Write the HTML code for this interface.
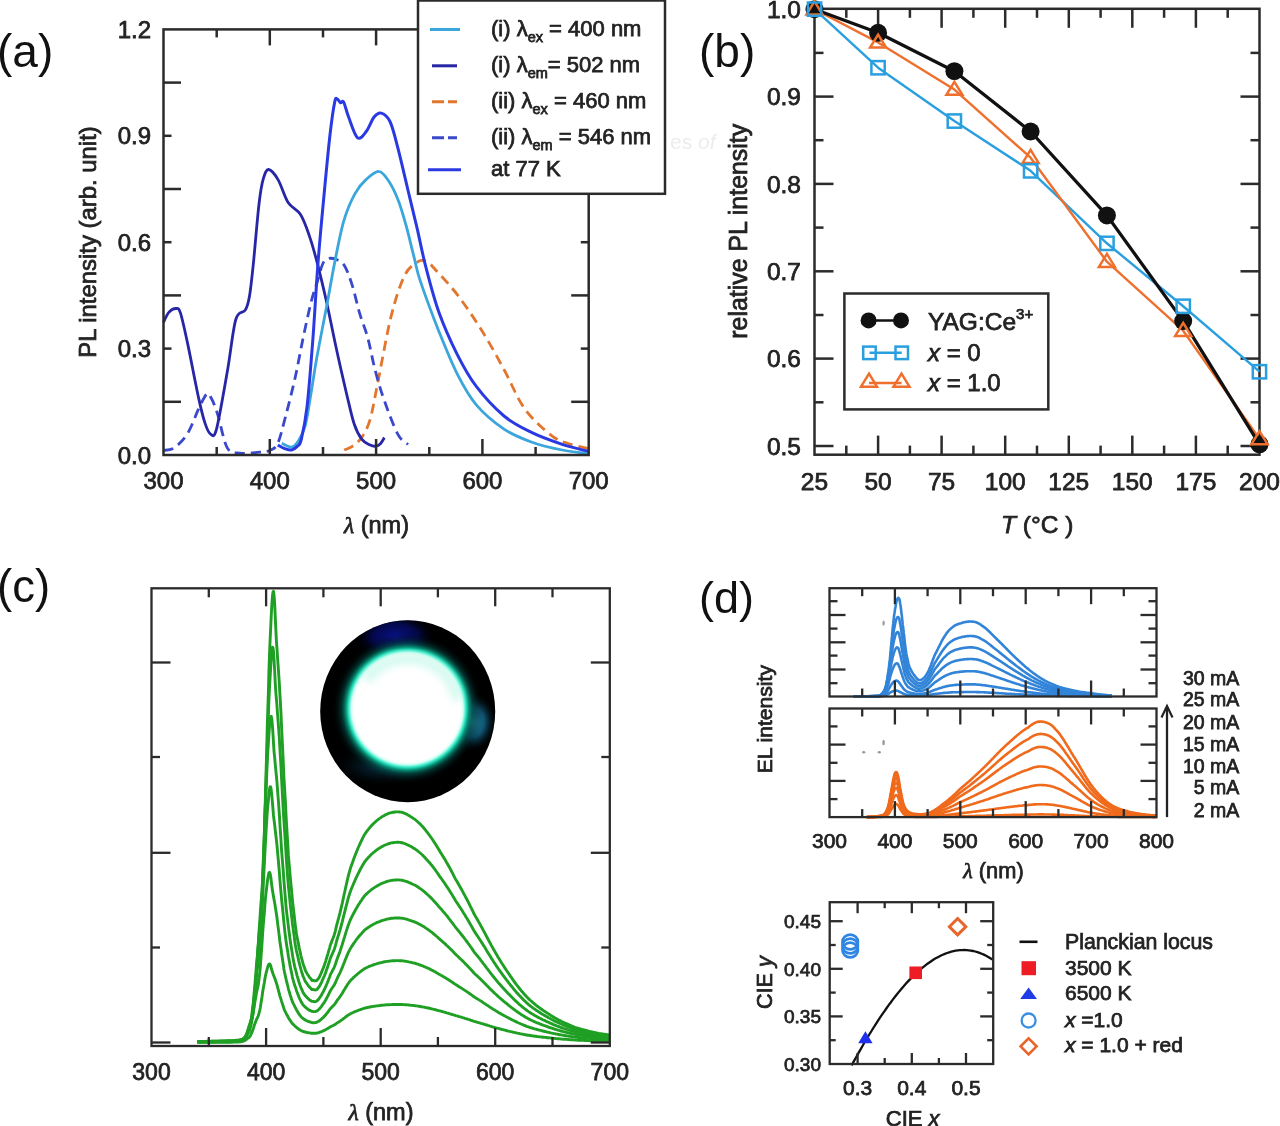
<!DOCTYPE html>
<html><head><meta charset="utf-8"><style>
html,body{margin:0;padding:0;background:#fff;}
svg{display:block;filter:blur(0.7px);font-family:"Liberation Sans", sans-serif;}
text{stroke:#222;stroke-width:0.75px;paint-order:stroke;}
</style></head><body>
<svg width="1280" height="1126" viewBox="0 0 1280 1126">
<rect width="1280" height="1126" fill="#fff"/>
<path d="M344.2,450.0 C345.6,449.4 349.8,448.3 352.7,446.1 C355.7,444.0 358.9,441.6 361.8,437.3 C364.6,432.9 367.3,428.8 370.0,419.9 C372.6,411.0 374.1,401.0 377.6,383.7 C381.1,366.5 386.6,334.4 391.1,316.3 C395.6,298.3 400.2,284.6 404.6,275.5 C409.0,266.5 414.1,264.5 417.4,262.1 C420.6,259.6 422.0,260.4 424.0,260.6 C426.0,260.9 427.5,262.1 429.4,263.5 C431.2,264.9 430.4,264.0 435.0,269.2 C439.7,274.4 449.6,284.5 457.3,294.7 C465.1,304.9 473.8,317.7 481.6,330.2 C489.4,342.6 496.9,356.5 504.0,369.5 C511.2,382.6 516.8,397.7 524.5,408.5 C532.3,419.4 543.4,429.0 550.6,434.8 C557.7,440.6 561.1,441.0 567.5,443.3 C573.8,445.6 585.2,447.7 588.7,448.6" fill="none" stroke="#e2762e" stroke-width="2.80" stroke-linejoin="round" stroke-linecap="butt" stroke-dasharray="10,6"/>
<path d="M163.5,450.4 C165.3,450.0 170.1,450.7 174.1,447.9 C178.1,445.1 183.5,440.2 187.5,433.7 C191.6,427.2 195.4,415.5 198.6,408.9 C201.8,402.3 204.6,395.8 206.8,394.0 C208.9,392.2 209.5,394.8 211.3,398.3 C213.2,401.7 215.1,406.3 217.7,414.6 C220.4,422.8 223.6,441.5 227.3,447.9 C231.0,454.3 234.7,452.5 240.0,453.2 C245.4,453.9 254.2,452.6 259.2,452.2 C264.1,451.7 266.7,451.9 269.8,450.4 C272.9,448.9 275.1,449.0 277.8,443.3 C280.4,437.6 282.7,427.0 285.7,416.0 C288.6,404.9 292.4,390.0 295.3,377.0 C298.2,363.9 300.6,350.0 303.2,337.6 C305.8,325.2 308.7,311.6 311.0,302.5 C313.2,293.4 314.9,289.5 316.9,283.0 C318.9,276.5 320.9,267.6 322.9,263.5 C324.8,259.4 326.3,259.2 328.6,258.5 C330.9,257.9 333.9,258.5 336.5,259.6 C339.1,260.7 341.6,261.1 344.2,265.3 C346.8,269.4 349.5,276.6 352.1,284.8 C354.7,292.9 357.2,305.4 359.9,314.2 C362.5,323.0 365.2,328.3 367.7,337.6 C370.3,346.9 372.3,359.4 375.1,369.9 C377.8,380.4 380.6,390.0 384.4,400.7 C388.2,411.5 394.0,427.2 397.9,434.4 C401.8,441.7 406.3,442.7 408.0,444.4" fill="none" stroke="#3a48cc" stroke-width="2.80" stroke-linejoin="round" stroke-linecap="butt" stroke-dasharray="10,6"/>
<path d="M163.5,322.4 C164.4,320.7 166.7,314.7 168.8,312.4 C170.9,310.1 174.1,308.4 176.0,308.5 C178.0,308.6 178.6,307.4 180.5,313.1 C182.4,318.9 184.5,328.8 187.5,342.9 C190.5,357.1 195.7,384.5 198.6,397.9 C201.5,411.3 202.9,417.0 205.0,423.1 C207.0,429.2 209.1,433.5 211.0,434.4 C213.0,435.3 213.9,439.0 216.7,428.4 C219.4,417.8 224.3,388.7 227.5,370.6 C230.7,352.4 232.8,329.6 235.8,319.5 C238.8,309.4 243.1,314.0 245.4,309.9 C247.7,305.9 248.2,303.7 249.6,295.4 C251.0,287.1 252.1,275.8 253.7,260.3 C255.2,244.8 257.5,216.1 259.2,202.5 C260.8,188.8 261.8,183.9 263.4,178.4 C265.0,172.9 266.3,169.2 268.7,169.5 C271.2,169.8 275.1,174.6 278.3,180.1 C281.5,185.6 284.4,196.7 288.1,202.5 C291.8,208.2 297.0,209.1 300.5,214.5 C304.0,220.0 306.4,227.2 309.1,235.1 C311.9,243.0 314.0,250.5 316.9,261.7 C319.8,272.9 323.4,287.9 326.7,302.5 C329.9,317.1 333.2,334.4 336.5,349.3 C339.7,364.3 343.3,379.8 346.2,392.2 C349.2,404.6 351.5,415.9 354.1,423.8 C356.7,431.7 359.2,435.8 361.9,439.4 C364.5,442.9 367.7,443.9 370.1,445.1 C372.4,446.2 374.4,446.4 376.1,446.1 C377.8,445.9 379.0,445.1 380.4,443.7 C381.8,442.2 383.7,438.6 384.4,437.6" fill="none" stroke="#2626a6" stroke-width="2.80" stroke-linejoin="round" stroke-linecap="butt"/>
<path d="M281.7,443.3 C283.3,443.9 288.7,447.6 291.5,447.2 C294.3,446.8 296.2,444.4 298.5,440.8 C300.8,437.2 303.3,432.7 305.2,425.6 C307.2,418.5 308.3,409.7 310.2,398.3 C312.2,386.8 314.2,372.5 316.9,357.1 C319.7,341.7 323.8,321.4 326.7,306.0 C329.6,290.7 331.4,279.1 334.2,264.9 C337.1,250.7 340.3,232.8 343.8,220.9 C347.3,209.0 351.2,200.5 355.0,193.6 C358.7,186.7 362.2,183.1 366.2,179.4 C370.2,175.7 375.2,171.0 378.9,171.3 C382.6,171.5 385.2,176.1 388.5,180.8 C391.7,185.6 395.2,192.5 398.1,200.0 C401.1,207.4 403.4,216.0 406.1,225.5 C408.8,235.1 411.7,248.1 414.1,257.4 C416.5,266.8 416.3,269.3 420.5,281.6 C424.6,293.8 432.6,315.4 438.7,330.9 C444.9,346.3 451.1,361.8 457.3,374.1 C463.6,386.4 468.3,395.5 476.1,404.6 C483.8,413.8 494.7,422.8 504.0,429.1 C513.3,435.4 522.3,438.7 532.0,442.2 C541.7,445.7 552.7,448.1 562.2,450.0 C571.6,451.9 584.3,453.0 588.7,453.6" fill="none" stroke="#3aa6dc" stroke-width="2.80" stroke-linejoin="round" stroke-linecap="butt"/>
<path d="M277.8,445.1 C278.9,445.7 282.4,447.8 284.7,448.6 C287.0,449.4 289.4,450.4 291.5,450.0 C293.6,449.6 295.8,447.9 297.5,446.1 C299.1,444.4 299.7,446.1 301.3,439.4 C302.9,432.7 305.2,423.0 307.1,406.1 C309.1,389.1 311.1,361.8 313.0,337.6 C314.8,313.4 316.2,285.4 318.2,260.6 C320.1,235.9 322.6,210.3 324.6,189.0 C326.6,167.7 328.5,147.4 330.2,133.0 C331.9,118.5 333.5,107.8 334.7,102.1 C335.8,96.4 336.3,98.8 337.3,98.9 C338.3,99.0 339.4,102.3 340.5,102.8 C341.6,103.3 342.3,99.7 343.7,102.1 C345.0,104.5 346.3,111.1 348.6,117.0 C350.9,122.9 354.5,135.1 357.4,137.6 C360.4,140.0 363.5,135.0 366.2,131.5 C369.0,128.1 371.6,120.1 374.1,117.0 C376.6,113.9 378.7,112.3 381.3,113.1 C384.0,113.9 387.4,116.0 390.2,122.0 C393.0,127.9 395.2,137.7 398.1,148.9 C401.0,160.1 404.5,175.6 407.7,189.0 C410.9,202.4 414.3,216.4 417.3,229.1 C420.2,241.7 421.8,251.1 425.3,264.9 C428.9,278.7 433.4,296.8 438.7,311.7 C444.1,326.7 451.1,342.2 457.3,354.6 C463.6,367.0 468.3,376.0 476.1,386.2 C483.8,396.4 494.7,408.2 504.0,416.0 C513.3,423.7 522.3,427.9 532.0,432.7 C541.7,437.4 552.7,441.2 562.2,444.4 C571.6,447.5 584.3,450.3 588.7,451.5" fill="none" stroke="#2a3ae2" stroke-width="3.00" stroke-linejoin="round" stroke-linecap="butt"/>
<rect x="163.5" y="29.4" width="425.2" height="425.6" fill="none" stroke="#2b2b2b" stroke-width="2.5"/>
<line x1="216.7" y1="455.0" x2="216.7" y2="447.0" stroke="#2b2b2b" stroke-width="2.50" />
<line x1="216.7" y1="29.4" x2="216.7" y2="37.4" stroke="#2b2b2b" stroke-width="2.50" />
<line x1="269.8" y1="455.0" x2="269.8" y2="439.0" stroke="#2b2b2b" stroke-width="2.50" />
<line x1="269.8" y1="29.4" x2="269.8" y2="45.4" stroke="#2b2b2b" stroke-width="2.50" />
<line x1="323.0" y1="455.0" x2="323.0" y2="447.0" stroke="#2b2b2b" stroke-width="2.50" />
<line x1="323.0" y1="29.4" x2="323.0" y2="37.4" stroke="#2b2b2b" stroke-width="2.50" />
<line x1="376.1" y1="455.0" x2="376.1" y2="439.0" stroke="#2b2b2b" stroke-width="2.50" />
<line x1="376.1" y1="29.4" x2="376.1" y2="45.4" stroke="#2b2b2b" stroke-width="2.50" />
<line x1="429.3" y1="455.0" x2="429.3" y2="447.0" stroke="#2b2b2b" stroke-width="2.50" />
<line x1="429.3" y1="29.4" x2="429.3" y2="37.4" stroke="#2b2b2b" stroke-width="2.50" />
<line x1="482.4" y1="455.0" x2="482.4" y2="439.0" stroke="#2b2b2b" stroke-width="2.50" />
<line x1="482.4" y1="29.4" x2="482.4" y2="45.4" stroke="#2b2b2b" stroke-width="2.50" />
<line x1="535.6" y1="455.0" x2="535.6" y2="447.0" stroke="#2b2b2b" stroke-width="2.50" />
<line x1="535.6" y1="29.4" x2="535.6" y2="37.4" stroke="#2b2b2b" stroke-width="2.50" />
<line x1="163.5" y1="401.8" x2="181.0" y2="401.8" stroke="#2b2b2b" stroke-width="2.50" />
<line x1="588.8" y1="401.8" x2="571.2" y2="401.8" stroke="#2b2b2b" stroke-width="2.50" />
<line x1="163.5" y1="348.6" x2="171.5" y2="348.6" stroke="#2b2b2b" stroke-width="2.50" />
<line x1="588.8" y1="348.6" x2="580.8" y2="348.6" stroke="#2b2b2b" stroke-width="2.50" />
<line x1="163.5" y1="295.4" x2="181.0" y2="295.4" stroke="#2b2b2b" stroke-width="2.50" />
<line x1="588.8" y1="295.4" x2="571.2" y2="295.4" stroke="#2b2b2b" stroke-width="2.50" />
<line x1="163.5" y1="242.2" x2="171.5" y2="242.2" stroke="#2b2b2b" stroke-width="2.50" />
<line x1="588.8" y1="242.2" x2="580.8" y2="242.2" stroke="#2b2b2b" stroke-width="2.50" />
<line x1="163.5" y1="189.0" x2="181.0" y2="189.0" stroke="#2b2b2b" stroke-width="2.50" />
<line x1="588.8" y1="189.0" x2="571.2" y2="189.0" stroke="#2b2b2b" stroke-width="2.50" />
<line x1="163.5" y1="135.8" x2="171.5" y2="135.8" stroke="#2b2b2b" stroke-width="2.50" />
<line x1="588.8" y1="135.8" x2="580.8" y2="135.8" stroke="#2b2b2b" stroke-width="2.50" />
<line x1="163.5" y1="82.6" x2="181.0" y2="82.6" stroke="#2b2b2b" stroke-width="2.50" />
<line x1="588.8" y1="82.6" x2="571.2" y2="82.6" stroke="#2b2b2b" stroke-width="2.50" />
<text x="163.5" y="489.0" font-size="24.0" text-anchor="middle" fill="#222" >300</text>
<text x="269.8" y="489.0" font-size="24.0" text-anchor="middle" fill="#222" >400</text>
<text x="376.1" y="489.0" font-size="24.0" text-anchor="middle" fill="#222" >500</text>
<text x="482.4" y="489.0" font-size="24.0" text-anchor="middle" fill="#222" >600</text>
<text x="588.7" y="489.0" font-size="24.0" text-anchor="middle" fill="#222" >700</text>
<text x="151.0" y="463.6" font-size="24.0" text-anchor="end" fill="#222" >0.0</text>
<text x="151.0" y="357.2" font-size="24.0" text-anchor="end" fill="#222" >0.3</text>
<text x="151.0" y="250.8" font-size="24.0" text-anchor="end" fill="#222" >0.6</text>
<text x="151.0" y="144.4" font-size="24.0" text-anchor="end" fill="#222" >0.9</text>
<text x="151.0" y="38.0" font-size="24.0" text-anchor="end" fill="#222" >1.2</text>
<text transform="translate(95.5,242) rotate(-90)" font-size="23.9" text-anchor="middle" fill="#222">PL intensity (arb. unit)</text>
<text x="376.5" y="533" font-size="23.5" text-anchor="middle" fill="#222"><tspan font-family="Liberation Serif" font-style="italic">λ</tspan> (nm)</text>
<rect x="418" y="0.5" width="247" height="193.3" fill="#fff" stroke="#2b2b2b" stroke-width="2.5"/>
<line x1="430" y1="29.5" x2="460" y2="29.5" stroke="#3aa6dc" stroke-width="3"/>
<text x="491.0" y="36.0" font-size="22.0" text-anchor="start" fill="#222" >(i) λ<tspan font-size="14.5" dy="6">ex</tspan><tspan dy="-6"> = 400 nm</tspan></text>
<line x1="432" y1="65.8" x2="457" y2="65.8" stroke="#2626a6" stroke-width="3"/>
<text x="491.0" y="72.3" font-size="22.0" text-anchor="start" fill="#222" >(i) λ<tspan font-size="14.5" dy="6">em</tspan><tspan dy="-6">= 502 nm</tspan></text>
<line x1="432" y1="101.7" x2="457" y2="101.7" stroke="#e2762e" stroke-width="3" stroke-dasharray="12,4"/>
<text x="491.0" y="108.2" font-size="22.0" text-anchor="start" fill="#222" >(ii) λ<tspan font-size="14.5" dy="6">ex</tspan><tspan dy="-6"> = 460 nm</tspan></text>
<line x1="432" y1="137.8" x2="457" y2="137.8" stroke="#3a48cc" stroke-width="3" stroke-dasharray="12,4"/>
<text x="491.0" y="144.3" font-size="22.0" text-anchor="start" fill="#222" >(ii) λ<tspan font-size="14.5" dy="6">em</tspan><tspan dy="-6"> = 546 nm</tspan></text>
<line x1="428" y1="169.7" x2="461" y2="169.7" stroke="#2a3ae2" stroke-width="3"/>
<text x="491.0" y="176.2" font-size="22.0" text-anchor="start" fill="#222" >at 77 K</text>
<text x="-3.0" y="66.5" font-size="46.0" text-anchor="start" fill="#111" style="stroke:none">(a)</text>
<text x="670" y="149" font-size="21" fill="#ececec" style="stroke:none">es <tspan font-style="italic">of</tspan></text>
<rect x="814.5" y="8.8" width="445.0" height="445.9" fill="none" stroke="#2b2b2b" stroke-width="2.5"/>
<line x1="846.3" y1="454.6" x2="846.3" y2="445.6" stroke="#2b2b2b" stroke-width="2.50" />
<line x1="846.3" y1="8.8" x2="846.3" y2="17.8" stroke="#2b2b2b" stroke-width="2.50" />
<line x1="878.1" y1="454.6" x2="878.1" y2="435.6" stroke="#2b2b2b" stroke-width="2.50" />
<line x1="878.1" y1="8.8" x2="878.1" y2="27.8" stroke="#2b2b2b" stroke-width="2.50" />
<line x1="909.9" y1="454.6" x2="909.9" y2="445.6" stroke="#2b2b2b" stroke-width="2.50" />
<line x1="909.9" y1="8.8" x2="909.9" y2="17.8" stroke="#2b2b2b" stroke-width="2.50" />
<line x1="941.6" y1="454.6" x2="941.6" y2="435.6" stroke="#2b2b2b" stroke-width="2.50" />
<line x1="941.6" y1="8.8" x2="941.6" y2="27.8" stroke="#2b2b2b" stroke-width="2.50" />
<line x1="973.4" y1="454.6" x2="973.4" y2="445.6" stroke="#2b2b2b" stroke-width="2.50" />
<line x1="973.4" y1="8.8" x2="973.4" y2="17.8" stroke="#2b2b2b" stroke-width="2.50" />
<line x1="1005.2" y1="454.6" x2="1005.2" y2="435.6" stroke="#2b2b2b" stroke-width="2.50" />
<line x1="1005.2" y1="8.8" x2="1005.2" y2="27.8" stroke="#2b2b2b" stroke-width="2.50" />
<line x1="1037.0" y1="454.6" x2="1037.0" y2="445.6" stroke="#2b2b2b" stroke-width="2.50" />
<line x1="1037.0" y1="8.8" x2="1037.0" y2="17.8" stroke="#2b2b2b" stroke-width="2.50" />
<line x1="1068.8" y1="454.6" x2="1068.8" y2="435.6" stroke="#2b2b2b" stroke-width="2.50" />
<line x1="1068.8" y1="8.8" x2="1068.8" y2="27.8" stroke="#2b2b2b" stroke-width="2.50" />
<line x1="1100.6" y1="454.6" x2="1100.6" y2="445.6" stroke="#2b2b2b" stroke-width="2.50" />
<line x1="1100.6" y1="8.8" x2="1100.6" y2="17.8" stroke="#2b2b2b" stroke-width="2.50" />
<line x1="1132.3" y1="454.6" x2="1132.3" y2="435.6" stroke="#2b2b2b" stroke-width="2.50" />
<line x1="1132.3" y1="8.8" x2="1132.3" y2="27.8" stroke="#2b2b2b" stroke-width="2.50" />
<line x1="1164.1" y1="454.6" x2="1164.1" y2="445.6" stroke="#2b2b2b" stroke-width="2.50" />
<line x1="1164.1" y1="8.8" x2="1164.1" y2="17.8" stroke="#2b2b2b" stroke-width="2.50" />
<line x1="1195.9" y1="454.6" x2="1195.9" y2="435.6" stroke="#2b2b2b" stroke-width="2.50" />
<line x1="1195.9" y1="8.8" x2="1195.9" y2="27.8" stroke="#2b2b2b" stroke-width="2.50" />
<line x1="1227.7" y1="454.6" x2="1227.7" y2="445.6" stroke="#2b2b2b" stroke-width="2.50" />
<line x1="1227.7" y1="8.8" x2="1227.7" y2="17.8" stroke="#2b2b2b" stroke-width="2.50" />
<line x1="814.5" y1="52.9" x2="823.5" y2="52.9" stroke="#2b2b2b" stroke-width="2.50" />
<line x1="1259.5" y1="52.9" x2="1250.5" y2="52.9" stroke="#2b2b2b" stroke-width="2.50" />
<line x1="814.5" y1="96.6" x2="833.5" y2="96.6" stroke="#2b2b2b" stroke-width="2.50" />
<line x1="1259.5" y1="96.6" x2="1240.5" y2="96.6" stroke="#2b2b2b" stroke-width="2.50" />
<line x1="814.5" y1="140.2" x2="823.5" y2="140.2" stroke="#2b2b2b" stroke-width="2.50" />
<line x1="1259.5" y1="140.2" x2="1250.5" y2="140.2" stroke="#2b2b2b" stroke-width="2.50" />
<line x1="814.5" y1="183.9" x2="833.5" y2="183.9" stroke="#2b2b2b" stroke-width="2.50" />
<line x1="1259.5" y1="183.9" x2="1240.5" y2="183.9" stroke="#2b2b2b" stroke-width="2.50" />
<line x1="814.5" y1="227.6" x2="823.5" y2="227.6" stroke="#2b2b2b" stroke-width="2.50" />
<line x1="1259.5" y1="227.6" x2="1250.5" y2="227.6" stroke="#2b2b2b" stroke-width="2.50" />
<line x1="814.5" y1="271.3" x2="833.5" y2="271.3" stroke="#2b2b2b" stroke-width="2.50" />
<line x1="1259.5" y1="271.3" x2="1240.5" y2="271.3" stroke="#2b2b2b" stroke-width="2.50" />
<line x1="814.5" y1="315.0" x2="823.5" y2="315.0" stroke="#2b2b2b" stroke-width="2.50" />
<line x1="1259.5" y1="315.0" x2="1250.5" y2="315.0" stroke="#2b2b2b" stroke-width="2.50" />
<line x1="814.5" y1="358.6" x2="833.5" y2="358.6" stroke="#2b2b2b" stroke-width="2.50" />
<line x1="1259.5" y1="358.6" x2="1240.5" y2="358.6" stroke="#2b2b2b" stroke-width="2.50" />
<line x1="814.5" y1="402.3" x2="823.5" y2="402.3" stroke="#2b2b2b" stroke-width="2.50" />
<line x1="1259.5" y1="402.3" x2="1250.5" y2="402.3" stroke="#2b2b2b" stroke-width="2.50" />
<line x1="814.5" y1="446.0" x2="833.5" y2="446.0" stroke="#2b2b2b" stroke-width="2.50" />
<line x1="1259.5" y1="446.0" x2="1240.5" y2="446.0" stroke="#2b2b2b" stroke-width="2.50" />
<polyline points="814.5,9.2 878.1,67.7 954.4,121.0 1030.6,170.8 1106.9,243.3 1183.2,306.2 1259.5,371.7" fill="none" stroke="#2a9fe0" stroke-width="2.4" stroke-linejoin="round"/>
<polyline points="814.5,9.2 878.1,42.4 954.4,89.6 1030.6,157.7 1106.9,261.7 1183.2,330.7 1259.5,439.0" fill="none" stroke="#ef6f2c" stroke-width="2.4" stroke-linejoin="round"/>
<polyline points="814.5,9.2 878.1,32.8 954.4,71.2 1030.6,131.5 1106.9,215.4 1183.2,321.1 1259.5,444.3" fill="none" stroke="#111111" stroke-width="3.3" stroke-linejoin="round"/>
<circle cx="814.5" cy="9.2" r="9.0" fill="#111111"/>
<circle cx="878.1" cy="32.8" r="9.0" fill="#111111"/>
<circle cx="954.4" cy="71.2" r="9.0" fill="#111111"/>
<circle cx="1030.6" cy="131.5" r="9.0" fill="#111111"/>
<circle cx="1106.9" cy="215.4" r="9.0" fill="#111111"/>
<circle cx="1183.2" cy="321.1" r="9.0" fill="#111111"/>
<circle cx="1259.5" cy="444.3" r="9.0" fill="#111111"/>
<path d="M814.5,1.4 L822.5,14.4 L806.5,14.4 Z" fill="none" stroke="#ef6f2c" stroke-width="2.5" stroke-linejoin="miter"/>
<path d="M878.1,34.6 L886.1,47.6 L870.1,47.6 Z" fill="none" stroke="#ef6f2c" stroke-width="2.5" stroke-linejoin="miter"/>
<path d="M954.4,81.8 L962.4,94.8 L946.4,94.8 Z" fill="none" stroke="#ef6f2c" stroke-width="2.5" stroke-linejoin="miter"/>
<path d="M1030.6,149.9 L1038.6,162.9 L1022.6,162.9 Z" fill="none" stroke="#ef6f2c" stroke-width="2.5" stroke-linejoin="miter"/>
<path d="M1106.9,253.9 L1114.9,266.9 L1098.9,266.9 Z" fill="none" stroke="#ef6f2c" stroke-width="2.5" stroke-linejoin="miter"/>
<path d="M1183.2,322.9 L1191.2,335.9 L1175.2,335.9 Z" fill="none" stroke="#ef6f2c" stroke-width="2.5" stroke-linejoin="miter"/>
<path d="M1259.5,431.2 L1267.5,444.2 L1251.5,444.2 Z" fill="none" stroke="#ef6f2c" stroke-width="2.5" stroke-linejoin="miter"/>
<rect x="807.9" y="2.5" width="13.3" height="13.3" fill="none" stroke="#2a9fe0" stroke-width="2.5"/>
<rect x="871.4" y="61.1" width="13.3" height="13.3" fill="none" stroke="#2a9fe0" stroke-width="2.5"/>
<rect x="947.7" y="114.4" width="13.3" height="13.3" fill="none" stroke="#2a9fe0" stroke-width="2.5"/>
<rect x="1024.0" y="164.2" width="13.3" height="13.3" fill="none" stroke="#2a9fe0" stroke-width="2.5"/>
<rect x="1100.3" y="236.7" width="13.3" height="13.3" fill="none" stroke="#2a9fe0" stroke-width="2.5"/>
<rect x="1176.6" y="299.6" width="13.3" height="13.3" fill="none" stroke="#2a9fe0" stroke-width="2.5"/>
<rect x="1252.8" y="365.1" width="13.3" height="13.3" fill="none" stroke="#2a9fe0" stroke-width="2.5"/>
<text x="814.5" y="489.5" font-size="24.5" text-anchor="middle" fill="#222" >25</text>
<text x="878.1" y="489.5" font-size="24.5" text-anchor="middle" fill="#222" >50</text>
<text x="941.6" y="489.5" font-size="24.5" text-anchor="middle" fill="#222" >75</text>
<text x="1005.2" y="489.5" font-size="24.5" text-anchor="middle" fill="#222" >100</text>
<text x="1068.8" y="489.5" font-size="24.5" text-anchor="middle" fill="#222" >125</text>
<text x="1132.3" y="489.5" font-size="24.5" text-anchor="middle" fill="#222" >150</text>
<text x="1195.9" y="489.5" font-size="24.5" text-anchor="middle" fill="#222" >175</text>
<text x="1259.5" y="489.5" font-size="24.5" text-anchor="middle" fill="#222" >200</text>
<text x="801.0" y="454.6" font-size="24.5" text-anchor="end" fill="#222" >0.5</text>
<text x="801.0" y="367.2" font-size="24.5" text-anchor="end" fill="#222" >0.6</text>
<text x="801.0" y="279.9" font-size="24.5" text-anchor="end" fill="#222" >0.7</text>
<text x="801.0" y="192.5" font-size="24.5" text-anchor="end" fill="#222" >0.8</text>
<text x="801.0" y="105.2" font-size="24.5" text-anchor="end" fill="#222" >0.9</text>
<text x="801.0" y="17.8" font-size="24.5" text-anchor="end" fill="#222" >1.0</text>
<text transform="translate(746.6,231.3) rotate(-90)" font-size="24.9" text-anchor="middle" fill="#222">relative PL intensity</text>
<text x="1001" y="532.6" font-size="24.5" fill="#222"><tspan font-style="italic">T</tspan> (°C )</text>
<rect x="844.4" y="293.5" width="203.9" height="115.9" fill="#fff" stroke="#2b2b2b" stroke-width="2.5"/>
<line x1="868.6" y1="320.4" x2="901.0" y2="320.4" stroke="#111111" stroke-width="2.50" />
<circle cx="868.6" cy="320.4" r="8.0" fill="#111111"/>
<circle cx="901.0" cy="320.4" r="8.0" fill="#111111"/>
<line x1="869.5" y1="352.8" x2="901.7" y2="352.8" stroke="#2a9fe0" stroke-width="2.40" />
<rect x="863.2" y="346.6" width="12.5" height="12.5" fill="none" stroke="#2a9fe0" stroke-width="2.5"/>
<rect x="895.5" y="346.6" width="12.5" height="12.5" fill="none" stroke="#2a9fe0" stroke-width="2.5"/>
<line x1="869.0" y1="383.0" x2="901.5" y2="383.0" stroke="#ef6f2c" stroke-width="2.40" />
<path d="M869.0,373.7 L877.0,386.7 L861.0,386.7 Z" fill="none" stroke="#ef6f2c" stroke-width="2.5" stroke-linejoin="miter"/>
<path d="M901.5,373.7 L909.5,386.7 L893.5,386.7 Z" fill="none" stroke="#ef6f2c" stroke-width="2.5" stroke-linejoin="miter"/>
<text x="928" y="330.3" font-size="24.5" fill="#222">YAG:Ce<tspan font-size="15" dy="-11">3+</tspan></text>
<text x="928" y="360.9" font-size="24" fill="#222"><tspan font-style="italic">x</tspan> = 0</text>
<text x="928" y="390.5" font-size="24" fill="#222"><tspan font-style="italic">x</tspan> = 1.0</text>
<text x="699.0" y="66.5" font-size="46.0" text-anchor="start" fill="#111" style="stroke:none">(b)</text>
<path d="M197.3,1041.5 L198.5,1041.5 L199.6,1041.5 L200.8,1041.5 L201.9,1041.4 L203.1,1041.4 L204.2,1041.4 L205.4,1041.4 L206.5,1041.3 L207.6,1041.3 L208.8,1041.3 L209.9,1041.3 L211.1,1041.2 L212.2,1041.2 L213.4,1041.2 L214.5,1041.2 L215.7,1041.1 L216.8,1041.1 L218.0,1041.1 L219.1,1041.0 L220.2,1041.0 L221.4,1041.0 L222.5,1041.0 L223.7,1040.9 L224.8,1040.9 L226.0,1040.9 L227.1,1040.8 L228.3,1040.8 L229.4,1040.8 L230.6,1040.7 L231.7,1040.7 L232.9,1040.7 L234.0,1040.6 L235.1,1040.5 L236.3,1040.3 L237.4,1040.2 L238.6,1040.1 L239.7,1039.9 L240.9,1039.7 L242.0,1039.5 L243.2,1039.0 L243.7,1038.7 L244.3,1038.4 L244.9,1037.9 L245.5,1037.4 L246.0,1036.6 L246.6,1035.8 L247.2,1034.8 L247.7,1033.6 L248.3,1032.2 L248.9,1030.3 L249.5,1028.3 L250.0,1025.9 L250.6,1023.0 L251.2,1020.0 L251.8,1017.8 L252.3,1015.8 L252.9,1013.3 L253.5,1010.0 L254.0,1005.2 L254.6,998.5 L255.2,992.2 L255.8,984.6 L256.3,976.0 L256.9,966.7 L257.5,957.0 L258.1,947.3 L258.6,937.8 L259.2,928.8 L259.8,920.6 L260.4,911.4 L260.9,904.1 L261.5,897.5 L262.1,890.1 L262.6,880.6 L263.2,867.6 L263.8,852.4 L264.4,835.0 L264.9,815.1 L265.5,793.5 L266.1,771.3 L266.7,749.3 L267.2,728.7 L267.8,710.2 L268.4,691.8 L268.9,672.0 L269.5,654.9 L270.1,640.3 L270.7,627.7 L271.2,616.8 L271.8,605.2 L272.4,596.7 L273.0,591.9 L273.5,591.4 L274.1,595.6 L274.7,604.4 L275.2,616.0 L275.8,628.8 L276.4,640.8 L277.0,648.9 L277.5,657.0 L278.1,665.4 L278.7,674.0 L279.3,683.0 L279.8,692.5 L280.4,702.7 L281.0,713.9 L281.5,725.6 L282.1,737.8 L282.7,750.2 L283.3,762.7 L283.8,775.2 L284.4,785.1 L285.0,795.4 L285.6,805.8 L286.1,816.2 L286.7,826.5 L287.3,836.6 L287.9,846.4 L288.4,855.7 L289.0,862.3 L289.6,868.8 L290.1,875.3 L290.7,881.7 L291.3,887.9 L291.9,893.9 L292.4,899.8 L293.0,905.3 L293.6,910.5 L294.2,915.4 L294.7,920.1 L295.3,925.2 L295.9,929.6 L296.4,933.4 L297.0,936.7 L297.6,939.7 L298.2,942.5 L298.7,945.3 L299.3,948.3 L299.9,950.9 L300.5,953.5 L301.0,956.0 L301.6,958.3 L302.2,960.5 L302.7,962.5 L303.3,964.4 L303.9,966.1 L304.5,967.6 L305.0,969.4 L305.6,970.8 L306.2,972.1 L306.8,973.1 L307.3,974.0 L307.9,974.8 L308.5,975.6 L309.0,976.6 L309.6,977.4 L310.2,978.1 L310.8,978.8 L311.3,979.6 L311.9,980.5 L312.5,980.3 L313.1,980.3 L313.6,980.5 L314.2,980.6 L314.8,980.8 L315.3,980.8 L315.9,980.8 L316.5,980.6 L317.1,980.2 L317.6,979.5 L318.2,978.8 L318.8,978.0 L319.4,977.0 L319.9,975.9 L320.5,974.7 L321.1,973.3 L321.7,971.9 L322.2,970.5 L322.8,969.1 L323.4,967.7 L323.9,966.2 L324.5,964.8 L325.1,962.9 L325.7,961.1 L326.2,959.3 L326.8,957.4 L327.4,955.5 L328.0,953.6 L328.5,951.6 L329.1,949.6 L329.7,947.6 L330.2,945.5 L330.8,943.9 L331.4,942.4 L332.0,940.9 L332.5,939.4 L333.1,938.0 L333.7,936.4 L334.3,934.7 L334.8,932.9 L335.4,930.8 L336.5,925.9 L337.7,921.3 L338.8,917.3 L340.0,912.9 L341.1,908.1 L342.3,903.1 L343.4,897.8 L344.6,892.5 L345.7,887.3 L346.9,882.1 L348.0,877.2 L349.2,872.6 L350.3,868.8 L351.4,865.4 L352.6,862.2 L353.7,859.0 L354.9,856.0 L356.0,853.1 L357.2,850.2 L358.3,847.5 L359.5,844.9 L360.6,842.4 L361.8,840.0 L362.9,837.7 L364.0,835.6 L365.2,833.6 L366.3,832.0 L367.5,830.5 L368.6,829.0 L369.8,827.6 L370.9,826.3 L372.1,825.0 L373.2,823.9 L374.4,822.8 L375.5,821.7 L376.6,820.7 L377.8,819.8 L378.9,818.9 L380.1,818.1 L381.2,817.3 L382.4,816.6 L383.5,815.9 L384.7,815.2 L385.8,814.6 L387.0,814.1 L388.1,813.6 L389.3,813.2 L390.4,812.9 L391.5,812.6 L392.7,812.3 L393.8,812.2 L395.0,812.0 L396.1,811.9 L397.3,811.9 L398.4,811.9 L399.6,812.0 L400.7,812.1 L401.9,812.3 L403.0,812.7 L404.1,813.1 L405.3,813.6 L406.4,814.1 L407.6,814.8 L408.7,815.4 L409.9,816.1 L411.0,816.9 L412.2,817.6 L413.3,818.4 L414.5,819.1 L415.6,820.0 L416.8,821.0 L417.9,822.0 L419.0,823.0 L420.2,824.1 L421.3,825.3 L422.5,826.5 L423.6,827.8 L424.8,829.2 L425.9,830.7 L427.1,832.2 L428.2,833.6 L429.4,835.1 L430.5,836.7 L431.6,838.3 L432.8,840.0 L433.9,841.7 L435.1,843.5 L436.2,845.3 L437.4,847.2 L438.5,849.1 L439.7,851.1 L440.8,852.9 L442.0,854.7 L443.1,856.6 L444.3,858.4 L445.4,860.3 L446.5,862.3 L447.7,864.3 L448.8,866.3 L450.0,868.4 L451.1,870.5 L452.3,872.7 L453.4,875.0 L454.6,877.3 L455.7,879.4 L456.9,881.3 L458.0,883.3 L459.1,885.3 L460.3,887.3 L461.4,889.3 L462.6,891.4 L463.7,893.5 L464.9,895.6 L466.0,897.8 L467.2,900.0 L468.3,902.2 L469.5,904.5 L470.6,906.8 L471.8,909.1 L472.9,911.4 L474.0,913.8 L475.2,915.9 L476.3,917.8 L477.5,919.8 L478.6,921.8 L479.8,923.8 L480.9,925.9 L482.1,928.0 L483.2,930.1 L484.4,932.2 L485.5,934.4 L486.6,936.5 L487.8,938.7 L488.9,940.8 L490.1,943.0 L491.2,945.1 L492.4,947.2 L493.5,949.3 L494.7,951.3 L495.8,953.3 L497.0,955.3 L498.1,957.2 L499.3,959.1 L500.4,960.9 L501.5,962.7 L502.7,964.5 L503.8,966.3 L505.0,968.1 L506.1,969.8 L507.3,971.5 L508.4,973.2 L509.6,974.9 L510.7,976.6 L511.9,978.2 L513.0,979.9 L514.1,981.5 L515.3,983.0 L516.4,984.6 L517.6,986.1 L518.7,987.5 L519.9,989.0 L521.0,990.4 L522.2,991.7 L523.3,993.1 L524.5,994.4 L525.6,995.6 L526.7,996.8 L527.9,998.0 L529.0,999.1 L530.2,1000.2 L531.3,1001.2 L532.5,1002.2 L533.6,1003.2 L534.8,1004.2 L535.9,1005.1 L537.1,1006.0 L538.2,1006.8 L539.4,1007.7 L540.5,1008.5 L541.6,1009.3 L542.8,1010.1 L543.9,1010.9 L545.1,1011.6 L546.2,1012.4 L547.4,1013.1 L548.5,1013.9 L549.7,1014.6 L550.8,1015.4 L552.0,1016.1 L553.1,1016.8 L554.2,1017.5 L555.4,1018.1 L556.5,1018.8 L557.7,1019.4 L558.8,1020.0 L560.0,1020.6 L561.1,1021.2 L562.3,1021.8 L563.4,1022.3 L564.6,1022.8 L565.7,1023.4 L566.9,1023.9 L568.0,1024.4 L569.1,1024.9 L570.3,1025.4 L571.4,1025.9 L572.6,1026.3 L573.7,1026.8 L574.9,1027.3 L576.0,1027.7 L577.2,1028.0 L578.3,1028.3 L579.5,1028.6 L580.6,1029.0 L581.7,1029.3 L582.9,1029.6 L584.0,1029.9 L585.2,1030.2 L586.3,1030.5 L587.5,1030.8 L588.6,1031.1 L589.8,1031.4 L590.9,1031.6 L592.1,1031.9 L593.2,1032.2 L594.4,1032.4 L595.5,1032.7 L596.6,1032.9 L597.8,1033.1 L598.9,1033.4 L600.1,1033.6 L601.2,1033.8 L602.4,1034.0 L603.5,1034.2 L604.7,1034.3 L605.8,1034.5 L607.0,1034.7 L608.1,1034.8 L609.2,1034.9" fill="none" stroke="#1fa024" stroke-width="2.9" stroke-linejoin="round"/>
<path d="M197.3,1041.6 L198.5,1041.6 L199.6,1041.6 L200.8,1041.6 L201.9,1041.5 L203.1,1041.5 L204.2,1041.5 L205.4,1041.5 L206.5,1041.5 L207.6,1041.4 L208.8,1041.4 L209.9,1041.4 L211.1,1041.4 L212.2,1041.3 L213.4,1041.3 L214.5,1041.3 L215.7,1041.3 L216.8,1041.3 L218.0,1041.2 L219.1,1041.2 L220.2,1041.2 L221.4,1041.2 L222.5,1041.1 L223.7,1041.1 L224.8,1041.1 L226.0,1041.0 L227.1,1041.0 L228.3,1041.0 L229.4,1041.0 L230.6,1040.9 L231.7,1040.9 L232.9,1040.9 L234.0,1040.8 L235.1,1040.7 L236.3,1040.5 L237.4,1040.4 L238.6,1040.3 L239.7,1040.1 L240.9,1040.0 L242.0,1039.6 L243.2,1039.2 L243.7,1038.8 L244.3,1038.4 L244.9,1037.9 L245.5,1037.2 L246.0,1036.5 L246.6,1035.6 L247.2,1034.5 L247.7,1033.2 L248.3,1031.5 L248.9,1029.7 L249.5,1027.5 L250.0,1024.9 L250.6,1022.4 L251.2,1020.6 L251.8,1018.8 L252.3,1016.5 L252.9,1013.3 L253.5,1008.9 L254.0,1003.0 L254.6,997.2 L255.2,990.4 L255.8,982.7 L256.3,974.5 L256.9,965.9 L257.5,957.4 L258.1,949.2 L258.6,941.4 L259.2,934.0 L259.8,926.3 L260.4,920.2 L260.9,914.3 L261.5,907.6 L262.1,898.8 L262.6,886.7 L263.2,873.3 L263.8,857.5 L264.4,839.7 L264.9,820.6 L265.5,801.1 L266.1,782.0 L266.7,764.2 L267.2,748.5 L267.8,731.6 L268.4,714.8 L268.9,700.3 L269.5,687.8 L270.1,677.1 L270.7,667.3 L271.2,657.6 L271.8,650.7 L272.4,647.2 L273.0,647.6 L273.5,652.2 L274.1,660.5 L274.7,671.0 L275.2,682.2 L275.8,692.0 L276.4,699.0 L277.0,706.2 L277.5,713.5 L278.1,721.2 L278.7,729.1 L279.3,737.6 L279.8,746.7 L280.4,756.7 L281.0,767.0 L281.5,777.8 L282.1,788.7 L282.7,799.7 L283.3,810.1 L283.8,818.9 L284.4,827.9 L285.0,837.0 L285.6,846.2 L286.1,855.2 L286.7,864.0 L287.3,872.5 L287.9,880.1 L288.4,885.9 L289.0,891.7 L289.6,897.3 L290.1,902.9 L290.7,908.3 L291.3,913.5 L291.9,918.6 L292.4,923.4 L293.0,927.9 L293.6,932.1 L294.2,936.4 L294.7,940.7 L295.3,944.5 L295.9,947.7 L296.4,950.6 L297.0,953.2 L297.6,955.7 L298.2,958.2 L298.7,960.8 L299.3,963.2 L299.9,965.5 L300.5,967.7 L301.0,969.7 L301.6,971.7 L302.2,973.5 L302.7,975.1 L303.3,976.6 L303.9,978.0 L304.5,979.6 L305.0,980.8 L305.6,981.9 L306.2,982.7 L306.8,983.5 L307.3,984.2 L307.9,985.0 L308.5,985.9 L309.0,986.5 L309.6,987.1 L310.2,987.7 L310.8,988.4 L311.3,989.1 L311.9,989.5 L312.5,989.4 L313.1,989.5 L313.6,989.6 L314.2,989.8 L314.8,989.9 L315.3,990.0 L315.9,989.9 L316.5,989.7 L317.1,989.3 L317.6,988.6 L318.2,988.0 L318.8,987.2 L319.4,986.4 L319.9,985.4 L320.5,984.3 L321.1,983.1 L321.7,981.9 L322.2,980.7 L322.8,979.4 L323.4,978.1 L323.9,976.8 L324.5,975.6 L325.1,974.0 L325.7,972.4 L326.2,970.8 L326.8,969.2 L327.4,967.5 L328.0,965.8 L328.5,964.1 L329.1,962.4 L329.7,960.5 L330.2,958.7 L330.8,957.3 L331.4,955.9 L332.0,954.6 L332.5,953.3 L333.1,952.0 L333.7,950.7 L334.3,949.2 L334.8,947.6 L335.4,945.8 L336.5,941.5 L337.7,937.4 L338.8,934.0 L340.0,930.1 L341.1,926.0 L342.3,921.6 L343.4,917.0 L344.6,912.4 L345.7,907.8 L346.9,903.3 L348.0,899.0 L349.2,895.0 L350.3,891.7 L351.4,888.8 L352.6,886.0 L353.7,883.3 L354.9,880.6 L356.0,878.1 L357.2,875.6 L358.3,873.3 L359.5,871.0 L360.6,868.8 L361.8,866.8 L362.9,864.8 L364.0,862.9 L365.2,861.2 L366.3,859.8 L367.5,858.4 L368.6,857.2 L369.8,856.0 L370.9,854.8 L372.1,853.7 L373.2,852.7 L374.4,851.8 L375.5,850.9 L376.6,850.0 L377.8,849.2 L378.9,848.4 L380.1,847.7 L381.2,847.0 L382.4,846.4 L383.5,845.8 L384.7,845.2 L385.8,844.7 L387.0,844.3 L388.1,843.9 L389.3,843.5 L390.4,843.2 L391.5,842.9 L392.7,842.7 L393.8,842.6 L395.0,842.4 L396.1,842.4 L397.3,842.3 L398.4,842.3 L399.6,842.4 L400.7,842.5 L401.9,842.7 L403.0,843.0 L404.1,843.4 L405.3,843.8 L406.4,844.3 L407.6,844.8 L408.7,845.4 L409.9,846.0 L411.0,846.6 L412.2,847.3 L413.3,848.0 L414.5,848.6 L415.6,849.4 L416.8,850.2 L417.9,851.1 L419.0,852.0 L420.2,853.0 L421.3,854.0 L422.5,855.0 L423.6,856.2 L424.8,857.4 L425.9,858.7 L427.1,860.0 L428.2,861.2 L429.4,862.5 L430.5,863.8 L431.6,865.2 L432.8,866.7 L433.9,868.2 L435.1,869.7 L436.2,871.3 L437.4,873.0 L438.5,874.6 L439.7,876.4 L440.8,877.9 L442.0,879.5 L443.1,881.1 L444.3,882.7 L445.4,884.4 L446.5,886.1 L447.7,887.8 L448.8,889.6 L450.0,891.4 L451.1,893.2 L452.3,895.1 L453.4,897.1 L454.6,899.1 L455.7,901.0 L456.9,902.6 L458.0,904.3 L459.1,906.0 L460.3,907.8 L461.4,909.5 L462.6,911.3 L463.7,913.2 L464.9,915.0 L466.0,916.9 L467.2,918.8 L468.3,920.7 L469.5,922.7 L470.6,924.7 L471.8,926.7 L472.9,928.7 L474.0,930.8 L475.2,932.6 L476.3,934.3 L477.5,936.0 L478.6,937.7 L479.8,939.5 L480.9,941.3 L482.1,943.1 L483.2,944.9 L484.4,946.8 L485.5,948.6 L486.6,950.5 L487.8,952.4 L488.9,954.2 L490.1,956.1 L491.2,957.9 L492.4,959.8 L493.5,961.6 L494.7,963.3 L495.8,965.1 L497.0,966.8 L498.1,968.5 L499.3,970.1 L500.4,971.7 L501.5,973.2 L502.7,974.8 L503.8,976.3 L505.0,977.9 L506.1,979.4 L507.3,980.9 L508.4,982.4 L509.6,983.9 L510.7,985.3 L511.9,986.7 L513.0,988.1 L514.1,989.5 L515.3,990.9 L516.4,992.2 L517.6,993.5 L518.7,994.8 L519.9,996.0 L521.0,997.3 L522.2,998.4 L523.3,999.6 L524.5,1000.7 L525.6,1001.8 L526.7,1002.9 L527.9,1003.9 L529.0,1004.8 L530.2,1005.8 L531.3,1006.7 L532.5,1007.6 L533.6,1008.4 L534.8,1009.2 L535.9,1010.0 L537.1,1010.8 L538.2,1011.5 L539.4,1012.3 L540.5,1013.0 L541.6,1013.7 L542.8,1014.4 L543.9,1015.1 L545.1,1015.7 L546.2,1016.4 L547.4,1017.0 L548.5,1017.7 L549.7,1018.3 L550.8,1018.9 L552.0,1019.6 L553.1,1020.2 L554.2,1020.8 L555.4,1021.3 L556.5,1021.9 L557.7,1022.4 L558.8,1023.0 L560.0,1023.5 L561.1,1024.0 L562.3,1024.5 L563.4,1025.0 L564.6,1025.4 L565.7,1025.9 L566.9,1026.4 L568.0,1026.8 L569.1,1027.2 L570.3,1027.6 L571.4,1028.1 L572.6,1028.5 L573.7,1028.9 L574.9,1029.3 L576.0,1029.6 L577.2,1029.9 L578.3,1030.2 L579.5,1030.5 L580.6,1030.8 L581.7,1031.0 L582.9,1031.3 L584.0,1031.6 L585.2,1031.8 L586.3,1032.1 L587.5,1032.3 L588.6,1032.6 L589.8,1032.8 L590.9,1033.1 L592.1,1033.3 L593.2,1033.5 L594.4,1033.7 L595.5,1034.0 L596.6,1034.2 L597.8,1034.4 L598.9,1034.6 L600.1,1034.7 L601.2,1034.9 L602.4,1035.1 L603.5,1035.3 L604.7,1035.4 L605.8,1035.6 L607.0,1035.7 L608.1,1035.8 L609.2,1035.9" fill="none" stroke="#1fa024" stroke-width="2.9" stroke-linejoin="round"/>
<path d="M197.3,1041.8 L198.5,1041.7 L199.6,1041.7 L200.8,1041.7 L201.9,1041.7 L203.1,1041.7 L204.2,1041.6 L205.4,1041.6 L206.5,1041.6 L207.6,1041.6 L208.8,1041.6 L209.9,1041.6 L211.1,1041.5 L212.2,1041.5 L213.4,1041.5 L214.5,1041.5 L215.7,1041.5 L216.8,1041.4 L218.0,1041.4 L219.1,1041.4 L220.2,1041.4 L221.4,1041.4 L222.5,1041.3 L223.7,1041.3 L224.8,1041.3 L226.0,1041.3 L227.1,1041.2 L228.3,1041.2 L229.4,1041.2 L230.6,1041.2 L231.7,1041.1 L232.9,1041.0 L234.0,1040.9 L235.1,1040.9 L236.3,1040.8 L237.4,1040.6 L238.6,1040.5 L239.7,1040.4 L240.9,1040.0 L242.0,1039.6 L243.2,1038.9 L243.7,1038.3 L244.3,1037.7 L244.9,1037.0 L245.5,1036.2 L246.0,1035.1 L246.6,1033.8 L247.2,1032.3 L247.7,1030.6 L248.3,1028.5 L248.9,1026.3 L249.5,1024.8 L250.0,1023.3 L250.6,1021.5 L251.2,1019.1 L251.8,1015.7 L252.3,1010.8 L252.9,1006.3 L253.5,1000.8 L254.0,994.5 L254.6,987.8 L255.2,980.8 L255.8,973.8 L256.3,966.9 L256.9,960.4 L257.5,954.5 L258.1,947.8 L258.6,942.6 L259.2,937.9 L259.8,932.6 L260.4,925.8 L260.9,916.5 L261.5,905.5 L262.1,892.9 L262.6,878.5 L263.2,862.9 L263.8,846.8 L264.4,831.0 L264.9,816.0 L265.5,802.6 L266.1,789.3 L266.7,774.9 L267.2,762.6 L267.8,752.0 L268.4,742.8 L268.9,734.9 L269.5,726.5 L270.1,720.3 L270.7,716.7 L271.2,716.2 L271.8,719.3 L272.4,725.6 L273.0,734.1 L273.5,743.3 L274.1,752.1 L274.7,757.9 L275.2,763.8 L275.8,769.9 L276.4,776.1 L277.0,782.6 L277.5,789.5 L278.1,797.0 L278.7,805.1 L279.3,813.6 L279.8,822.4 L280.4,831.4 L281.0,840.5 L281.5,849.5 L282.1,856.7 L282.7,864.1 L283.3,871.7 L283.8,879.2 L284.4,886.7 L285.0,894.0 L285.6,901.1 L286.1,907.8 L286.7,912.6 L287.3,917.4 L287.9,922.1 L288.4,926.7 L289.0,931.3 L289.6,935.6 L290.1,939.8 L290.7,943.7 L291.3,947.5 L291.9,951.0 L292.4,954.4 L293.0,958.1 L293.6,961.3 L294.2,964.1 L294.7,966.6 L295.3,968.8 L295.9,970.9 L296.4,973.0 L297.0,975.3 L297.6,977.3 L298.2,979.3 L298.7,981.2 L299.3,983.0 L299.9,984.8 L300.5,986.4 L301.0,987.8 L301.6,989.2 L302.2,990.3 L302.7,991.7 L303.3,992.9 L303.9,993.8 L304.5,994.6 L305.0,995.3 L305.6,996.0 L306.2,996.6 L306.8,997.3 L307.3,997.9 L307.9,998.4 L308.5,998.9 L309.0,999.4 L309.6,1000.1 L310.2,1000.3 L310.8,1000.6 L311.3,1001.0 L311.9,1001.4 L312.5,1001.4 L313.1,1001.4 L313.6,1001.5 L314.2,1001.6 L314.8,1001.7 L315.3,1001.6 L315.9,1001.5 L316.5,1001.2 L317.1,1000.8 L317.6,1000.2 L318.2,999.7 L318.8,999.0 L319.4,998.2 L319.9,997.4 L320.5,996.5 L321.1,995.6 L321.7,994.5 L322.2,993.5 L322.8,992.4 L323.4,991.4 L323.9,990.3 L324.5,989.3 L325.1,988.0 L325.7,986.7 L326.2,985.4 L326.8,984.0 L327.4,982.6 L328.0,981.1 L328.5,979.7 L329.1,978.2 L329.7,976.7 L330.2,975.1 L330.8,973.9 L331.4,972.7 L332.0,971.7 L332.5,970.6 L333.1,969.5 L333.7,968.4 L334.3,967.1 L334.8,965.8 L335.4,964.3 L336.5,960.8 L337.7,957.4 L338.8,954.6 L340.0,951.4 L341.1,948.0 L342.3,944.4 L343.4,940.7 L344.6,936.9 L345.7,933.1 L346.9,929.4 L348.0,925.9 L349.2,922.7 L350.3,920.0 L351.4,917.7 L352.6,915.4 L353.7,913.2 L354.9,911.0 L356.0,909.0 L357.2,907.0 L358.3,905.0 L359.5,903.2 L360.6,901.4 L361.8,899.8 L362.9,898.1 L364.0,896.6 L365.2,895.3 L366.3,894.1 L367.5,893.0 L368.6,892.0 L369.8,891.0 L370.9,890.1 L372.1,889.2 L373.2,888.4 L374.4,887.6 L375.5,886.9 L376.6,886.2 L377.8,885.5 L378.9,884.9 L380.1,884.3 L381.2,883.7 L382.4,883.2 L383.5,882.7 L384.7,882.3 L385.8,881.9 L387.0,881.5 L388.1,881.2 L389.3,880.9 L390.4,880.6 L391.5,880.4 L392.7,880.2 L393.8,880.1 L395.0,880.0 L396.1,880.0 L397.3,879.9 L398.4,879.9 L399.6,880.0 L400.7,880.1 L401.9,880.2 L403.0,880.5 L404.1,880.8 L405.3,881.1 L406.4,881.5 L407.6,881.9 L408.7,882.4 L409.9,882.9 L411.0,883.4 L412.2,884.0 L413.3,884.5 L414.5,885.0 L415.6,885.6 L416.8,886.3 L417.9,887.0 L419.0,887.8 L420.2,888.6 L421.3,889.4 L422.5,890.2 L423.6,891.2 L424.8,892.1 L425.9,893.2 L427.1,894.2 L428.2,895.2 L429.4,896.3 L430.5,897.4 L431.6,898.5 L432.8,899.7 L433.9,900.9 L435.1,902.2 L436.2,903.5 L437.4,904.8 L438.5,906.2 L439.7,907.6 L440.8,908.8 L442.0,910.1 L443.1,911.4 L444.3,912.7 L445.4,914.1 L446.5,915.4 L447.7,916.8 L448.8,918.3 L450.0,919.8 L451.1,921.3 L452.3,922.8 L453.4,924.4 L454.6,926.0 L455.7,927.5 L456.9,928.9 L458.0,930.3 L459.1,931.6 L460.3,933.1 L461.4,934.5 L462.6,936.0 L463.7,937.4 L464.9,939.0 L466.0,940.5 L467.2,942.0 L468.3,943.6 L469.5,945.2 L470.6,946.8 L471.8,948.4 L472.9,950.1 L474.0,951.8 L475.2,953.3 L476.3,954.6 L477.5,956.0 L478.6,957.4 L479.8,958.8 L480.9,960.3 L482.1,961.8 L483.2,963.3 L484.4,964.8 L485.5,966.3 L486.6,967.8 L487.8,969.3 L488.9,970.8 L490.1,972.3 L491.2,973.8 L492.4,975.3 L493.5,976.8 L494.7,978.2 L495.8,979.6 L497.0,981.0 L498.1,982.4 L499.3,983.7 L500.4,985.0 L501.5,986.3 L502.7,987.5 L503.8,988.8 L505.0,990.0 L506.1,991.2 L507.3,992.5 L508.4,993.7 L509.6,994.9 L510.7,996.0 L511.9,997.2 L513.0,998.3 L514.1,999.5 L515.3,1000.6 L516.4,1001.7 L517.6,1002.7 L518.7,1003.8 L519.9,1004.8 L521.0,1005.8 L522.2,1006.7 L523.3,1007.7 L524.5,1008.6 L525.6,1009.4 L526.7,1010.3 L527.9,1011.1 L529.0,1011.9 L530.2,1012.7 L531.3,1013.4 L532.5,1014.1 L533.6,1014.8 L534.8,1015.5 L535.9,1016.1 L537.1,1016.7 L538.2,1017.4 L539.4,1018.0 L540.5,1018.5 L541.6,1019.1 L542.8,1019.7 L543.9,1020.2 L545.1,1020.7 L546.2,1021.3 L547.4,1021.8 L548.5,1022.3 L549.7,1022.9 L550.8,1023.4 L552.0,1023.9 L553.1,1024.4 L554.2,1024.8 L555.4,1025.3 L556.5,1025.8 L557.7,1026.2 L558.8,1026.6 L560.0,1027.1 L561.1,1027.5 L562.3,1027.9 L563.4,1028.3 L564.6,1028.6 L565.7,1029.0 L566.9,1029.4 L568.0,1029.7 L569.1,1030.1 L570.3,1030.4 L571.4,1030.8 L572.6,1031.1 L573.7,1031.4 L574.9,1031.8 L576.0,1032.0 L577.2,1032.3 L578.3,1032.5 L579.5,1032.7 L580.6,1033.0 L581.7,1033.2 L582.9,1033.4 L584.0,1033.6 L585.2,1033.8 L586.3,1034.0 L587.5,1034.2 L588.6,1034.4 L589.8,1034.6 L590.9,1034.8 L592.1,1035.0 L593.2,1035.2 L594.4,1035.4 L595.5,1035.6 L596.6,1035.7 L597.8,1035.9 L598.9,1036.0 L600.1,1036.2 L601.2,1036.3 L602.4,1036.5 L603.5,1036.6 L604.7,1036.7 L605.8,1036.9 L607.0,1037.0 L608.1,1037.1 L609.2,1037.2" fill="none" stroke="#1fa024" stroke-width="2.9" stroke-linejoin="round"/>
<path d="M197.3,1041.9 L198.5,1041.9 L199.6,1041.9 L200.8,1041.9 L201.9,1041.8 L203.1,1041.8 L204.2,1041.8 L205.4,1041.8 L206.5,1041.8 L207.6,1041.8 L208.8,1041.8 L209.9,1041.7 L211.1,1041.7 L212.2,1041.7 L213.4,1041.7 L214.5,1041.7 L215.7,1041.7 L216.8,1041.7 L218.0,1041.6 L219.1,1041.6 L220.2,1041.6 L221.4,1041.6 L222.5,1041.6 L223.7,1041.6 L224.8,1041.5 L226.0,1041.5 L227.1,1041.5 L228.3,1041.5 L229.4,1041.5 L230.6,1041.4 L231.7,1041.4 L232.9,1041.3 L234.0,1041.2 L235.1,1041.2 L236.3,1041.1 L237.4,1041.0 L238.6,1040.9 L239.7,1040.7 L240.9,1040.4 L242.0,1039.9 L243.2,1039.2 L243.7,1038.7 L244.3,1038.1 L244.9,1037.4 L245.5,1036.5 L246.0,1035.5 L246.6,1034.3 L247.2,1032.9 L247.7,1031.2 L248.3,1029.6 L248.9,1028.4 L249.5,1027.2 L250.0,1025.8 L250.6,1023.7 L251.2,1020.8 L251.8,1017.1 L252.3,1013.3 L252.9,1008.9 L253.5,1003.9 L254.0,998.6 L254.6,993.0 L255.2,987.5 L255.8,982.2 L256.3,977.2 L256.9,972.3 L257.5,967.4 L258.1,963.5 L258.6,959.7 L259.2,955.4 L259.8,949.8 L260.4,942.0 L260.9,933.3 L261.5,923.2 L262.1,911.6 L262.6,899.3 L263.2,886.6 L263.8,874.3 L264.4,862.8 L264.9,852.6 L265.5,841.7 L266.1,830.7 L266.7,821.3 L267.2,813.2 L267.8,806.3 L268.4,800.0 L268.9,793.7 L269.5,789.2 L270.1,786.8 L270.7,787.0 L271.2,789.9 L271.8,795.3 L272.4,802.1 L273.0,809.4 L273.5,815.7 L274.1,820.3 L274.7,825.0 L275.2,829.8 L275.8,834.7 L276.4,839.9 L277.0,845.4 L277.5,851.3 L278.1,857.8 L278.7,864.5 L279.3,871.5 L279.8,878.6 L280.4,885.7 L281.0,892.4 L281.5,898.1 L282.1,904.0 L282.7,909.9 L283.3,915.8 L283.8,921.7 L284.4,927.4 L285.0,932.9 L285.6,937.9 L286.1,941.6 L286.7,945.4 L287.3,949.0 L287.9,952.7 L288.4,956.2 L289.0,959.6 L289.6,962.8 L290.1,965.9 L290.7,968.8 L291.3,971.5 L291.9,974.3 L292.4,977.1 L293.0,979.5 L293.6,981.7 L294.2,983.6 L294.7,985.3 L295.3,987.0 L295.9,988.6 L296.4,990.4 L297.0,992.0 L297.6,993.6 L298.2,995.1 L298.7,996.5 L299.3,997.9 L299.9,999.2 L300.5,1000.4 L301.0,1001.4 L301.6,1002.4 L302.2,1003.5 L302.7,1004.4 L303.3,1005.1 L303.9,1005.8 L304.5,1006.3 L305.0,1006.8 L305.6,1007.4 L306.2,1007.9 L306.8,1008.4 L307.3,1008.8 L307.9,1009.2 L308.5,1009.6 L309.0,1010.1 L309.6,1010.3 L310.2,1010.5 L310.8,1010.8 L311.3,1011.1 L311.9,1011.4 L312.5,1011.4 L313.1,1011.5 L313.6,1011.6 L314.2,1011.6 L314.8,1011.6 L315.3,1011.6 L315.9,1011.4 L316.5,1011.2 L317.1,1010.9 L317.6,1010.4 L318.2,1010.0 L318.8,1009.5 L319.4,1008.9 L319.9,1008.3 L320.5,1007.6 L321.1,1006.8 L321.7,1006.1 L322.2,1005.2 L322.8,1004.4 L323.4,1003.6 L323.9,1002.8 L324.5,1002.1 L325.1,1001.1 L325.7,1000.0 L326.2,999.0 L326.8,997.9 L327.4,996.8 L328.0,995.7 L328.5,994.6 L329.1,993.4 L329.7,992.2 L330.2,991.0 L330.8,990.1 L331.4,989.2 L332.0,988.4 L332.5,987.5 L333.1,986.7 L333.7,985.8 L334.3,984.9 L334.8,983.8 L335.4,982.7 L336.5,980.0 L337.7,977.4 L338.8,975.2 L340.0,972.8 L341.1,970.2 L342.3,967.4 L343.4,964.5 L344.6,961.6 L345.7,958.7 L346.9,955.9 L348.0,953.2 L349.2,950.8 L350.3,948.7 L351.4,946.9 L352.6,945.1 L353.7,943.4 L354.9,941.8 L356.0,940.2 L357.2,938.7 L358.3,937.2 L359.5,935.8 L360.6,934.5 L361.8,933.2 L362.9,931.9 L364.0,930.7 L365.2,929.7 L366.3,928.8 L367.5,928.0 L368.6,927.2 L369.8,926.5 L370.9,925.7 L372.1,925.1 L373.2,924.4 L374.4,923.8 L375.5,923.3 L376.6,922.7 L377.8,922.2 L378.9,921.8 L380.1,921.3 L381.2,920.9 L382.4,920.5 L383.5,920.1 L384.7,919.8 L385.8,919.5 L387.0,919.2 L388.1,918.9 L389.3,918.7 L390.4,918.5 L391.5,918.3 L392.7,918.2 L393.8,918.1 L395.0,918.0 L396.1,918.0 L397.3,918.0 L398.4,918.0 L399.6,918.0 L400.7,918.1 L401.9,918.2 L403.0,918.4 L404.1,918.6 L405.3,918.9 L406.4,919.2 L407.6,919.5 L408.7,919.9 L409.9,920.3 L411.0,920.7 L412.2,921.1 L413.3,921.5 L414.5,921.9 L415.6,922.3 L416.8,922.9 L417.9,923.4 L419.0,924.0 L420.2,924.6 L421.3,925.2 L422.5,925.9 L423.6,926.6 L424.8,927.3 L425.9,928.1 L427.1,928.9 L428.2,929.7 L429.4,930.5 L430.5,931.4 L431.6,932.2 L432.8,933.1 L433.9,934.1 L435.1,935.0 L436.2,936.0 L437.4,937.0 L438.5,938.1 L439.7,939.1 L440.8,940.1 L442.0,941.1 L443.1,942.1 L444.3,943.1 L445.4,944.1 L446.5,945.2 L447.7,946.3 L448.8,947.4 L450.0,948.5 L451.1,949.6 L452.3,950.8 L453.4,952.0 L454.6,953.3 L455.7,954.4 L456.9,955.5 L458.0,956.5 L459.1,957.6 L460.3,958.7 L461.4,959.8 L462.6,960.9 L463.7,962.0 L464.9,963.2 L466.0,964.4 L467.2,965.5 L468.3,966.8 L469.5,968.0 L470.6,969.2 L471.8,970.5 L472.9,971.7 L474.0,973.0 L475.2,974.2 L476.3,975.2 L477.5,976.2 L478.6,977.3 L479.8,978.4 L480.9,979.5 L482.1,980.7 L483.2,981.8 L484.4,983.0 L485.5,984.1 L486.6,985.3 L487.8,986.4 L488.9,987.6 L490.1,988.7 L491.2,989.9 L492.4,991.0 L493.5,992.1 L494.7,993.3 L495.8,994.3 L497.0,995.4 L498.1,996.4 L499.3,997.5 L500.4,998.4 L501.5,999.4 L502.7,1000.4 L503.8,1001.3 L505.0,1002.3 L506.1,1003.2 L507.3,1004.2 L508.4,1005.1 L509.6,1006.0 L510.7,1006.9 L511.9,1007.8 L513.0,1008.7 L514.1,1009.5 L515.3,1010.4 L516.4,1011.2 L517.6,1012.0 L518.7,1012.8 L519.9,1013.6 L521.0,1014.4 L522.2,1015.1 L523.3,1015.8 L524.5,1016.5 L525.6,1017.2 L526.7,1017.8 L527.9,1018.5 L529.0,1019.1 L530.2,1019.7 L531.3,1020.2 L532.5,1020.8 L533.6,1021.3 L534.8,1021.8 L535.9,1022.3 L537.1,1022.8 L538.2,1023.2 L539.4,1023.7 L540.5,1024.1 L541.6,1024.6 L542.8,1025.0 L543.9,1025.4 L545.1,1025.8 L546.2,1026.2 L547.4,1026.6 L548.5,1027.1 L549.7,1027.5 L550.8,1027.8 L552.0,1028.2 L553.1,1028.6 L554.2,1029.0 L555.4,1029.3 L556.5,1029.7 L557.7,1030.0 L558.8,1030.4 L560.0,1030.7 L561.1,1031.0 L562.3,1031.3 L563.4,1031.6 L564.6,1031.9 L565.7,1032.2 L566.9,1032.5 L568.0,1032.7 L569.1,1033.0 L570.3,1033.3 L571.4,1033.5 L572.6,1033.8 L573.7,1034.0 L574.9,1034.3 L576.0,1034.5 L577.2,1034.7 L578.3,1034.8 L579.5,1035.0 L580.6,1035.2 L581.7,1035.4 L582.9,1035.5 L584.0,1035.7 L585.2,1035.9 L586.3,1036.0 L587.5,1036.2 L588.6,1036.3 L589.8,1036.5 L590.9,1036.6 L592.1,1036.8 L593.2,1036.9 L594.4,1037.1 L595.5,1037.2 L596.6,1037.3 L597.8,1037.4 L598.9,1037.6 L600.1,1037.7 L601.2,1037.8 L602.4,1037.9 L603.5,1038.0 L604.7,1038.1 L605.8,1038.2 L607.0,1038.3 L608.1,1038.3 L609.2,1038.4" fill="none" stroke="#1fa024" stroke-width="2.9" stroke-linejoin="round"/>
<path d="M197.3,1042.1 L198.5,1042.1 L199.6,1042.1 L200.8,1042.1 L201.9,1042.1 L203.1,1042.0 L204.2,1042.0 L205.4,1042.0 L206.5,1042.0 L207.6,1042.0 L208.8,1042.0 L209.9,1042.0 L211.1,1042.0 L212.2,1042.0 L213.4,1042.0 L214.5,1041.9 L215.7,1041.9 L216.8,1041.9 L218.0,1041.9 L219.1,1041.9 L220.2,1041.9 L221.4,1041.9 L222.5,1041.9 L223.7,1041.9 L224.8,1041.8 L226.0,1041.8 L227.1,1041.8 L228.3,1041.8 L229.4,1041.8 L230.6,1041.8 L231.7,1041.7 L232.9,1041.7 L234.0,1041.6 L235.1,1041.6 L236.3,1041.5 L237.4,1041.4 L238.6,1041.3 L239.7,1041.1 L240.9,1040.8 L242.0,1040.4 L243.2,1039.8 L243.7,1039.3 L244.3,1038.8 L244.9,1038.1 L245.5,1037.4 L246.0,1036.5 L246.6,1035.5 L247.2,1034.3 L247.7,1033.4 L248.3,1032.7 L248.9,1031.8 L249.5,1030.6 L250.0,1029.0 L250.6,1026.6 L251.2,1024.2 L251.8,1021.4 L252.3,1018.2 L252.9,1014.7 L253.5,1011.1 L254.0,1007.4 L254.6,1003.8 L255.2,1000.3 L255.8,997.2 L256.3,993.8 L256.9,990.9 L257.5,988.4 L258.1,985.8 L258.6,982.5 L259.2,977.9 L259.8,972.3 L260.4,966.0 L260.9,958.6 L261.5,950.6 L262.1,942.2 L262.6,933.9 L263.2,925.9 L263.8,918.8 L264.4,912.1 L264.9,904.4 L265.5,897.8 L266.1,892.1 L266.7,887.2 L267.2,882.9 L267.8,878.5 L268.4,875.0 L268.9,872.8 L269.5,872.3 L270.1,873.5 L270.7,876.5 L271.2,880.7 L271.8,885.5 L272.4,890.1 L273.0,893.5 L273.5,896.5 L274.1,899.7 L274.7,902.9 L275.2,906.3 L275.8,909.9 L276.4,913.7 L277.0,917.9 L277.5,922.3 L278.1,926.9 L278.7,931.6 L279.3,936.3 L279.8,941.0 L280.4,945.0 L281.0,948.8 L281.5,952.8 L282.1,956.7 L282.7,960.7 L283.3,964.5 L283.8,968.2 L284.4,971.8 L285.0,974.5 L285.6,977.0 L286.1,979.4 L286.7,981.9 L287.3,984.2 L287.9,986.5 L288.4,988.8 L289.0,990.9 L289.6,992.8 L290.1,994.7 L290.7,996.4 L291.3,998.4 L291.9,1000.1 L292.4,1001.6 L293.0,1002.9 L293.6,1004.1 L294.2,1005.2 L294.7,1006.3 L295.3,1007.5 L295.9,1008.6 L296.4,1009.7 L297.0,1010.7 L297.6,1011.7 L298.2,1012.7 L298.7,1013.6 L299.3,1014.4 L299.9,1015.2 L300.5,1015.9 L301.0,1016.6 L301.6,1017.3 L302.2,1017.8 L302.7,1018.3 L303.3,1018.7 L303.9,1019.1 L304.5,1019.4 L305.0,1019.8 L305.6,1020.2 L306.2,1020.5 L306.8,1020.7 L307.3,1021.0 L307.9,1021.3 L308.5,1021.5 L309.0,1021.7 L309.6,1021.8 L310.2,1022.0 L310.8,1022.2 L311.3,1022.4 L311.9,1022.6 L312.5,1022.6 L313.1,1022.7 L313.6,1022.7 L314.2,1022.7 L314.8,1022.6 L315.3,1022.6 L315.9,1022.5 L316.5,1022.3 L317.1,1022.1 L317.6,1021.8 L318.2,1021.5 L318.8,1021.2 L319.4,1020.8 L319.9,1020.4 L320.5,1019.9 L321.1,1019.4 L321.7,1018.9 L322.2,1018.3 L322.8,1017.8 L323.4,1017.3 L323.9,1016.7 L324.5,1016.2 L325.1,1015.5 L325.7,1014.9 L326.2,1014.2 L326.8,1013.4 L327.4,1012.7 L328.0,1012.0 L328.5,1011.2 L329.1,1010.4 L329.7,1009.6 L330.2,1008.8 L330.8,1008.2 L331.4,1007.6 L332.0,1007.0 L332.5,1006.5 L333.1,1005.9 L333.7,1005.3 L334.3,1004.7 L334.8,1004.0 L335.4,1003.3 L336.5,1001.4 L337.7,999.7 L338.8,998.3 L340.0,996.7 L341.1,995.0 L342.3,993.2 L343.4,991.2 L344.6,989.3 L345.7,987.4 L346.9,985.6 L348.0,983.8 L349.2,982.2 L350.3,980.8 L351.4,979.6 L352.6,978.5 L353.7,977.4 L354.9,976.3 L356.0,975.3 L357.2,974.3 L358.3,973.3 L359.5,972.4 L360.6,971.5 L361.8,970.6 L362.9,969.8 L364.0,969.0 L365.2,968.4 L366.3,967.8 L367.5,967.2 L368.6,966.7 L369.8,966.2 L370.9,965.7 L372.1,965.3 L373.2,964.9 L374.4,964.5 L375.5,964.1 L376.6,963.8 L377.8,963.4 L378.9,963.1 L380.1,962.8 L381.2,962.6 L382.4,962.3 L383.5,962.0 L384.7,961.8 L385.8,961.6 L387.0,961.4 L388.1,961.3 L389.3,961.1 L390.4,961.0 L391.5,960.9 L392.7,960.8 L393.8,960.7 L395.0,960.7 L396.1,960.6 L397.3,960.6 L398.4,960.6 L399.6,960.7 L400.7,960.7 L401.9,960.8 L403.0,960.9 L404.1,961.1 L405.3,961.2 L406.4,961.4 L407.6,961.6 L408.7,961.9 L409.9,962.1 L411.0,962.4 L412.2,962.7 L413.3,962.9 L414.5,963.2 L415.6,963.5 L416.8,963.9 L417.9,964.2 L419.0,964.6 L420.2,965.0 L421.3,965.4 L422.5,965.8 L423.6,966.3 L424.8,966.8 L425.9,967.3 L427.1,967.8 L428.2,968.3 L429.4,968.9 L430.5,969.4 L431.6,970.0 L432.8,970.6 L433.9,971.2 L435.1,971.8 L436.2,972.5 L437.4,973.2 L438.5,973.9 L439.7,974.6 L440.8,975.2 L442.0,975.8 L443.1,976.5 L444.3,977.2 L445.4,977.8 L446.5,978.5 L447.7,979.2 L448.8,980.0 L450.0,980.7 L451.1,981.5 L452.3,982.2 L453.4,983.0 L454.6,983.9 L455.7,984.6 L456.9,985.3 L458.0,986.0 L459.1,986.7 L460.3,987.4 L461.4,988.1 L462.6,988.9 L463.7,989.6 L464.9,990.4 L466.0,991.1 L467.2,991.9 L468.3,992.7 L469.5,993.5 L470.6,994.3 L471.8,995.1 L472.9,996.0 L474.0,996.8 L475.2,997.6 L476.3,998.2 L477.5,998.9 L478.6,999.6 L479.8,1000.4 L480.9,1001.1 L482.1,1001.8 L483.2,1002.6 L484.4,1003.4 L485.5,1004.1 L486.6,1004.9 L487.8,1005.6 L488.9,1006.4 L490.1,1007.2 L491.2,1007.9 L492.4,1008.7 L493.5,1009.4 L494.7,1010.1 L495.8,1010.8 L497.0,1011.5 L498.1,1012.2 L499.3,1012.9 L500.4,1013.5 L501.5,1014.2 L502.7,1014.8 L503.8,1015.4 L505.0,1016.1 L506.1,1016.7 L507.3,1017.3 L508.4,1017.9 L509.6,1018.5 L510.7,1019.1 L511.9,1019.7 L513.0,1020.3 L514.1,1020.8 L515.3,1021.4 L516.4,1021.9 L517.6,1022.5 L518.7,1023.0 L519.9,1023.5 L521.0,1024.0 L522.2,1024.5 L523.3,1025.0 L524.5,1025.4 L525.6,1025.9 L526.7,1026.3 L527.9,1026.7 L529.0,1027.1 L530.2,1027.5 L531.3,1027.8 L532.5,1028.2 L533.6,1028.6 L534.8,1028.9 L535.9,1029.2 L537.1,1029.5 L538.2,1029.8 L539.4,1030.1 L540.5,1030.4 L541.6,1030.7 L542.8,1031.0 L543.9,1031.3 L545.1,1031.5 L546.2,1031.8 L547.4,1032.1 L548.5,1032.3 L549.7,1032.6 L550.8,1032.9 L552.0,1033.1 L553.1,1033.4 L554.2,1033.6 L555.4,1033.8 L556.5,1034.1 L557.7,1034.3 L558.8,1034.5 L560.0,1034.7 L561.1,1034.9 L562.3,1035.1 L563.4,1035.3 L564.6,1035.5 L565.7,1035.7 L566.9,1035.9 L568.0,1036.1 L569.1,1036.3 L570.3,1036.4 L571.4,1036.6 L572.6,1036.8 L573.7,1036.9 L574.9,1037.1 L576.0,1037.2 L577.2,1037.4 L578.3,1037.5 L579.5,1037.6 L580.6,1037.7 L581.7,1037.8 L582.9,1037.9 L584.0,1038.0 L585.2,1038.1 L586.3,1038.2 L587.5,1038.3 L588.6,1038.4 L589.8,1038.5 L590.9,1038.6 L592.1,1038.7 L593.2,1038.8 L594.4,1038.9 L595.5,1039.0 L596.6,1039.1 L597.8,1039.2 L598.9,1039.3 L600.1,1039.3 L601.2,1039.4 L602.4,1039.5 L603.5,1039.5 L604.7,1039.6 L605.8,1039.7 L607.0,1039.7 L608.1,1039.8 L609.2,1039.8" fill="none" stroke="#1fa024" stroke-width="2.9" stroke-linejoin="round"/>
<path d="M197.3,1042.3 L198.5,1042.3 L199.6,1042.3 L200.8,1042.3 L201.9,1042.3 L203.1,1042.3 L204.2,1042.3 L205.4,1042.3 L206.5,1042.3 L207.6,1042.3 L208.8,1042.3 L209.9,1042.3 L211.1,1042.3 L212.2,1042.3 L213.4,1042.2 L214.5,1042.2 L215.7,1042.2 L216.8,1042.2 L218.0,1042.2 L219.1,1042.2 L220.2,1042.2 L221.4,1042.2 L222.5,1042.2 L223.7,1042.2 L224.8,1042.2 L226.0,1042.2 L227.1,1042.2 L228.3,1042.2 L229.4,1042.2 L230.6,1042.2 L231.7,1042.1 L232.9,1042.1 L234.0,1042.1 L235.1,1042.1 L236.3,1042.0 L237.4,1042.0 L238.6,1042.0 L239.7,1041.9 L240.9,1041.7 L242.0,1041.5 L243.2,1041.2 L243.7,1041.0 L244.3,1040.8 L244.9,1040.5 L245.5,1040.1 L246.0,1039.7 L246.6,1039.3 L247.2,1038.7 L247.7,1038.3 L248.3,1038.0 L248.9,1037.6 L249.5,1037.0 L250.0,1036.2 L250.6,1035.2 L251.2,1034.0 L251.8,1032.7 L252.3,1031.3 L252.9,1029.7 L253.5,1028.0 L254.0,1026.3 L254.6,1024.6 L255.2,1023.0 L255.8,1021.6 L256.3,1020.0 L256.9,1018.7 L257.5,1017.5 L258.1,1016.3 L258.6,1014.8 L259.2,1012.7 L259.8,1010.1 L260.4,1007.2 L260.9,1003.8 L261.5,1000.1 L262.1,996.2 L262.6,992.3 L263.2,988.7 L263.8,985.4 L264.4,982.3 L264.9,978.7 L265.5,975.7 L266.1,973.0 L266.7,970.8 L267.2,968.8 L267.8,966.8 L268.4,965.2 L268.9,964.2 L269.5,963.9 L270.1,964.4 L270.7,965.8 L271.2,967.8 L271.8,970.0 L272.4,972.1 L273.0,973.7 L273.5,975.1 L274.1,976.5 L274.7,978.0 L275.2,979.6 L275.8,981.2 L276.4,983.0 L277.0,984.9 L277.5,987.0 L278.1,989.1 L278.7,991.3 L279.3,993.5 L279.8,995.6 L280.4,997.5 L281.0,999.2 L281.5,1001.1 L282.1,1002.9 L282.7,1004.7 L283.3,1006.5 L283.8,1008.2 L284.4,1009.8 L285.0,1011.1 L285.6,1012.2 L286.1,1013.4 L286.7,1014.5 L287.3,1015.6 L287.9,1016.6 L288.4,1017.7 L289.0,1018.6 L289.6,1019.6 L290.1,1020.4 L290.7,1021.2 L291.3,1022.1 L291.9,1022.9 L292.4,1023.6 L293.0,1024.2 L293.6,1024.7 L294.2,1025.3 L294.7,1025.8 L295.3,1026.3 L295.9,1026.8 L296.4,1027.3 L297.0,1027.8 L297.6,1028.3 L298.2,1028.7 L298.7,1029.1 L299.3,1029.5 L299.9,1029.9 L300.5,1030.2 L301.0,1030.5 L301.6,1030.8 L302.2,1031.1 L302.7,1031.3 L303.3,1031.5 L303.9,1031.7 L304.5,1031.8 L305.0,1032.0 L305.6,1032.2 L306.2,1032.3 L306.8,1032.4 L307.3,1032.6 L307.9,1032.7 L308.5,1032.8 L309.0,1032.9 L309.6,1032.9 L310.2,1033.0 L310.8,1033.1 L311.3,1033.2 L311.9,1033.3 L312.5,1033.3 L313.1,1033.3 L313.6,1033.3 L314.2,1033.3 L314.8,1033.3 L315.3,1033.3 L315.9,1033.2 L316.5,1033.1 L317.1,1033.0 L317.6,1032.9 L318.2,1032.8 L318.8,1032.6 L319.4,1032.4 L319.9,1032.2 L320.5,1032.0 L321.1,1031.8 L321.7,1031.5 L322.2,1031.3 L322.8,1031.0 L323.4,1030.8 L323.9,1030.5 L324.5,1030.3 L325.1,1030.0 L325.7,1029.7 L326.2,1029.3 L326.8,1029.0 L327.4,1028.7 L328.0,1028.3 L328.5,1028.0 L329.1,1027.6 L329.7,1027.2 L330.2,1026.8 L330.8,1026.6 L331.4,1026.3 L332.0,1026.0 L332.5,1025.8 L333.1,1025.5 L333.7,1025.2 L334.3,1024.9 L334.8,1024.6 L335.4,1024.3 L336.5,1023.4 L337.7,1022.6 L338.8,1022.0 L340.0,1021.2 L341.1,1020.4 L342.3,1019.6 L343.4,1018.7 L344.6,1017.8 L345.7,1016.9 L346.9,1016.0 L348.0,1015.2 L349.2,1014.5 L350.3,1013.8 L351.4,1013.3 L352.6,1012.7 L353.7,1012.2 L354.9,1011.7 L356.0,1011.2 L357.2,1010.8 L358.3,1010.3 L359.5,1009.9 L360.6,1009.5 L361.8,1009.1 L362.9,1008.7 L364.0,1008.4 L365.2,1008.0 L366.3,1007.8 L367.5,1007.5 L368.6,1007.3 L369.8,1007.0 L370.9,1006.8 L372.1,1006.6 L373.2,1006.4 L374.4,1006.2 L375.5,1006.1 L376.6,1005.9 L377.8,1005.8 L378.9,1005.6 L380.1,1005.5 L381.2,1005.3 L382.4,1005.2 L383.5,1005.1 L384.7,1005.0 L385.8,1004.9 L387.0,1004.8 L388.1,1004.7 L389.3,1004.7 L390.4,1004.6 L391.5,1004.6 L392.7,1004.5 L393.8,1004.5 L395.0,1004.5 L396.1,1004.5 L397.3,1004.5 L398.4,1004.5 L399.6,1004.5 L400.7,1004.5 L401.9,1004.5 L403.0,1004.6 L404.1,1004.6 L405.3,1004.7 L406.4,1004.8 L407.6,1004.9 L408.7,1005.0 L409.9,1005.1 L411.0,1005.3 L412.2,1005.4 L413.3,1005.5 L414.5,1005.6 L415.6,1005.8 L416.8,1005.9 L417.9,1006.1 L419.0,1006.3 L420.2,1006.5 L421.3,1006.7 L422.5,1006.9 L423.6,1007.1 L424.8,1007.3 L425.9,1007.6 L427.1,1007.8 L428.2,1008.0 L429.4,1008.3 L430.5,1008.5 L431.6,1008.8 L432.8,1009.1 L433.9,1009.4 L435.1,1009.7 L436.2,1010.0 L437.4,1010.3 L438.5,1010.6 L439.7,1010.9 L440.8,1011.2 L442.0,1011.5 L443.1,1011.8 L444.3,1012.1 L445.4,1012.4 L446.5,1012.8 L447.7,1013.1 L448.8,1013.4 L450.0,1013.8 L451.1,1014.1 L452.3,1014.5 L453.4,1014.9 L454.6,1015.2 L455.7,1015.6 L456.9,1015.9 L458.0,1016.2 L459.1,1016.6 L460.3,1016.9 L461.4,1017.2 L462.6,1017.6 L463.7,1017.9 L464.9,1018.3 L466.0,1018.6 L467.2,1019.0 L468.3,1019.4 L469.5,1019.7 L470.6,1020.1 L471.8,1020.5 L472.9,1020.9 L474.0,1021.3 L475.2,1021.6 L476.3,1021.9 L477.5,1022.3 L478.6,1022.6 L479.8,1022.9 L480.9,1023.3 L482.1,1023.6 L483.2,1024.0 L484.4,1024.3 L485.5,1024.7 L486.6,1025.0 L487.8,1025.4 L488.9,1025.7 L490.1,1026.1 L491.2,1026.4 L492.4,1026.8 L493.5,1027.1 L494.7,1027.5 L495.8,1027.8 L497.0,1028.1 L498.1,1028.4 L499.3,1028.7 L500.4,1029.0 L501.5,1029.3 L502.7,1029.6 L503.8,1029.9 L505.0,1030.2 L506.1,1030.5 L507.3,1030.8 L508.4,1031.1 L509.6,1031.4 L510.7,1031.6 L511.9,1031.9 L513.0,1032.2 L514.1,1032.4 L515.3,1032.7 L516.4,1032.9 L517.6,1033.2 L518.7,1033.4 L519.9,1033.7 L521.0,1033.9 L522.2,1034.1 L523.3,1034.3 L524.5,1034.6 L525.6,1034.8 L526.7,1035.0 L527.9,1035.2 L529.0,1035.3 L530.2,1035.5 L531.3,1035.7 L532.5,1035.9 L533.6,1036.0 L534.8,1036.2 L535.9,1036.3 L537.1,1036.5 L538.2,1036.6 L539.4,1036.8 L540.5,1036.9 L541.6,1037.0 L542.8,1037.2 L543.9,1037.3 L545.1,1037.4 L546.2,1037.5 L547.4,1037.7 L548.5,1037.8 L549.7,1037.9 L550.8,1038.0 L552.0,1038.1 L553.1,1038.3 L554.2,1038.4 L555.4,1038.5 L556.5,1038.6 L557.7,1038.7 L558.8,1038.8 L560.0,1038.9 L561.1,1039.0 L562.3,1039.1 L563.4,1039.2 L564.6,1039.3 L565.7,1039.3 L566.9,1039.4 L568.0,1039.5 L569.1,1039.6 L570.3,1039.7 L571.4,1039.8 L572.6,1039.8 L573.7,1039.9 L574.9,1040.0 L576.0,1040.1 L577.2,1040.1 L578.3,1040.2 L579.5,1040.2 L580.6,1040.3 L581.7,1040.3 L582.9,1040.4 L584.0,1040.4 L585.2,1040.5 L586.3,1040.5 L587.5,1040.6 L588.6,1040.6 L589.8,1040.7 L590.9,1040.7 L592.1,1040.8 L593.2,1040.8 L594.4,1040.8 L595.5,1040.9 L596.6,1040.9 L597.8,1041.0 L598.9,1041.0 L600.1,1041.0 L601.2,1041.1 L602.4,1041.1 L603.5,1041.1 L604.7,1041.2 L605.8,1041.2 L607.0,1041.2 L608.1,1041.2 L609.2,1041.3" fill="none" stroke="#1fa024" stroke-width="2.9" stroke-linejoin="round"/>
<rect x="151.5" y="588.3" width="458.3" height="457.7" fill="none" stroke="#2b2b2b" stroke-width="2.3"/>
<line x1="208.8" y1="1046.0" x2="208.8" y2="1037.0" stroke="#2b2b2b" stroke-width="2.30" />
<line x1="208.8" y1="588.3" x2="208.8" y2="597.3" stroke="#2b2b2b" stroke-width="2.30" />
<line x1="266.1" y1="1046.0" x2="266.1" y2="1028.0" stroke="#2b2b2b" stroke-width="2.30" />
<line x1="266.1" y1="588.3" x2="266.1" y2="606.3" stroke="#2b2b2b" stroke-width="2.30" />
<line x1="323.4" y1="1046.0" x2="323.4" y2="1037.0" stroke="#2b2b2b" stroke-width="2.30" />
<line x1="323.4" y1="588.3" x2="323.4" y2="597.3" stroke="#2b2b2b" stroke-width="2.30" />
<line x1="380.7" y1="1046.0" x2="380.7" y2="1028.0" stroke="#2b2b2b" stroke-width="2.30" />
<line x1="380.7" y1="588.3" x2="380.7" y2="606.3" stroke="#2b2b2b" stroke-width="2.30" />
<line x1="437.9" y1="1046.0" x2="437.9" y2="1037.0" stroke="#2b2b2b" stroke-width="2.30" />
<line x1="437.9" y1="588.3" x2="437.9" y2="597.3" stroke="#2b2b2b" stroke-width="2.30" />
<line x1="495.2" y1="1046.0" x2="495.2" y2="1028.0" stroke="#2b2b2b" stroke-width="2.30" />
<line x1="495.2" y1="588.3" x2="495.2" y2="606.3" stroke="#2b2b2b" stroke-width="2.30" />
<line x1="552.5" y1="1046.0" x2="552.5" y2="1037.0" stroke="#2b2b2b" stroke-width="2.30" />
<line x1="552.5" y1="588.3" x2="552.5" y2="597.3" stroke="#2b2b2b" stroke-width="2.30" />
<line x1="151.5" y1="662.5" x2="170.5" y2="662.5" stroke="#2b2b2b" stroke-width="2.30" />
<line x1="609.8" y1="662.5" x2="590.8" y2="662.5" stroke="#2b2b2b" stroke-width="2.30" />
<line x1="151.5" y1="757.0" x2="160.0" y2="757.0" stroke="#2b2b2b" stroke-width="2.30" />
<line x1="609.8" y1="757.0" x2="601.3" y2="757.0" stroke="#2b2b2b" stroke-width="2.30" />
<line x1="151.5" y1="852.8" x2="170.5" y2="852.8" stroke="#2b2b2b" stroke-width="2.30" />
<line x1="609.8" y1="852.8" x2="590.8" y2="852.8" stroke="#2b2b2b" stroke-width="2.30" />
<line x1="151.5" y1="947.5" x2="160.0" y2="947.5" stroke="#2b2b2b" stroke-width="2.30" />
<line x1="609.8" y1="947.5" x2="601.3" y2="947.5" stroke="#2b2b2b" stroke-width="2.30" />
<line x1="151.5" y1="1042.5" x2="170.5" y2="1042.5" stroke="#2b2b2b" stroke-width="2.30" />
<line x1="609.8" y1="1042.5" x2="590.8" y2="1042.5" stroke="#2b2b2b" stroke-width="2.30" />
<text x="151.5" y="1079.5" font-size="23.0" text-anchor="middle" fill="#222" >300</text>
<text x="266.1" y="1079.5" font-size="23.0" text-anchor="middle" fill="#222" >400</text>
<text x="380.7" y="1079.5" font-size="23.0" text-anchor="middle" fill="#222" >500</text>
<text x="495.2" y="1079.5" font-size="23.0" text-anchor="middle" fill="#222" >600</text>
<text x="609.8" y="1079.5" font-size="23.0" text-anchor="middle" fill="#222" >700</text>
<text x="381" y="1120" font-size="23.5" text-anchor="middle" fill="#222"><tspan font-family="Liberation Serif" font-style="italic">λ</tspan> (nm)</text>
<text x="-3.0" y="602.3" font-size="45.5" text-anchor="start" fill="#111" style="stroke:none">(c)</text>
<defs>
<radialGradient id="glow" cx="407.3" cy="708.6" r="76" gradientUnits="userSpaceOnUse">
<stop offset="0" stop-color="#ffffff"/>
<stop offset="0.70" stop-color="#ffffff"/>
<stop offset="0.735" stop-color="#d8fff4"/>
<stop offset="0.76" stop-color="#62f2d8"/>
<stop offset="0.78" stop-color="#22d8b4"/>
<stop offset="0.81" stop-color="#069478" stop-opacity="0.95"/>
<stop offset="0.86" stop-color="#024c44" stop-opacity="0.7"/>
<stop offset="0.94" stop-color="#001a18" stop-opacity="0.25"/>
<stop offset="1" stop-color="#000000" stop-opacity="0"/>
</radialGradient>
<radialGradient id="bluepatch" cx="395" cy="637" r="40" gradientUnits="userSpaceOnUse" gradientTransform="translate(395,637) scale(1,0.6) translate(-395,-637)">
<stop offset="0" stop-color="#08128a"/>
<stop offset="0.55" stop-color="#050b60" stop-opacity="0.8"/>
<stop offset="1" stop-color="#000010" stop-opacity="0"/>
</radialGradient>
<radialGradient id="tealpatch" cx="472" cy="722" r="30" gradientUnits="userSpaceOnUse" gradientTransform="translate(472,722) scale(0.85,1) translate(-472,-722)">
<stop offset="0" stop-color="#2494ac"/>
<stop offset="0.5" stop-color="#105a7c" stop-opacity="0.9"/>
<stop offset="1" stop-color="#000" stop-opacity="0"/>
</radialGradient>
<radialGradient id="bottomglow" cx="385" cy="766" r="46" gradientUnits="userSpaceOnUse" gradientTransform="translate(385,766) scale(1.2,0.45) translate(-385,-766)">
<stop offset="0" stop-color="#0a4a70" stop-opacity="0.9"/>
<stop offset="1" stop-color="#000" stop-opacity="0"/>
</radialGradient>
<clipPath id="insetclip"><ellipse cx="407.7" cy="711.2" rx="87.5" ry="91"/></clipPath>
<filter id="soft" x="-20%" y="-20%" width="140%" height="140%"><feGaussianBlur stdDeviation="4.5"/></filter>
</defs>
<ellipse cx="407.7" cy="711.2" rx="87.5" ry="91" fill="#000"/>
<g clip-path="url(#insetclip)">
<rect x="320" y="600" width="180" height="220" fill="url(#bluepatch)"/>
<rect x="420" y="680" width="80" height="90" fill="url(#tealpatch)"/>
<rect x="320" y="720" width="180" height="90" fill="url(#bottomglow)"/>
<circle cx="407.3" cy="708.6" r="76" fill="url(#glow)"/>
<path d="M366,680 A51,51 0 0,1 458,700" fill="none" stroke="#a8f4e0" stroke-width="10" filter="url(#soft)" opacity="0.55"/>
</g>
<path d="M853.7,696.5 L854.0,696.5 L854.4,696.5 L854.7,696.5 L855.0,696.5 L855.3,696.5 L855.7,696.5 L856.0,696.5 L856.3,696.5 L856.6,696.4 L857.0,696.4 L857.3,696.4 L857.6,696.4 L857.9,696.4 L858.3,696.4 L858.6,696.4 L858.9,696.4 L859.3,696.4 L859.6,696.4 L859.9,696.4 L860.2,696.4 L860.6,696.4 L860.9,696.4 L861.2,696.4 L861.5,696.3 L861.9,696.3 L862.2,696.3 L862.5,696.3 L862.9,696.3 L863.2,696.3 L863.5,696.3 L863.8,696.3 L864.2,696.3 L864.5,696.3 L864.8,696.3 L865.1,696.3 L865.5,696.3 L865.8,696.2 L866.1,696.2 L866.5,696.2 L866.8,696.2 L867.1,696.2 L867.4,696.2 L867.8,696.2 L868.1,696.2 L868.4,696.2 L868.7,696.2 L869.1,696.1 L869.4,696.1 L869.7,696.1 L870.0,696.1 L870.4,696.1 L870.7,696.1 L871.0,696.1 L871.4,696.1 L871.7,696.0 L872.0,696.0 L872.3,696.0 L872.7,696.0 L873.0,696.0 L873.3,696.0 L873.6,696.0 L874.0,696.0 L874.3,695.9 L874.6,695.9 L875.0,695.9 L875.3,695.9 L875.6,695.9 L875.9,695.9 L876.3,695.8 L876.6,695.8 L876.9,695.8 L877.2,695.8 L877.6,695.8 L877.9,695.8 L878.2,695.7 L878.5,695.7 L878.9,695.7 L879.2,695.7 L879.5,695.7 L879.9,695.5 L880.2,695.3 L880.5,695.0 L880.8,694.7 L881.2,694.4 L881.5,694.1 L881.8,693.8 L882.1,693.5 L882.5,693.1 L882.8,692.7 L883.1,692.2 L883.5,691.8 L883.8,691.2 L884.1,690.6 L884.4,690.0 L884.8,689.2 L885.1,688.4 L885.4,687.5 L885.7,686.5 L886.1,685.0 L886.4,683.4 L886.7,681.6 L887.1,679.8 L887.4,677.8 L887.7,675.7 L888.0,673.5 L888.4,671.2 L888.7,668.8 L889.0,666.4 L889.3,664.0 L889.7,661.5 L890.0,658.3 L890.3,654.9 L890.6,651.3 L891.0,647.5 L891.3,643.7 L891.6,639.9 L892.0,636.2 L892.3,632.7 L892.6,629.4 L892.9,626.5 L893.3,623.2 L893.6,620.1 L893.9,617.3 L894.2,614.8 L894.6,612.4 L894.9,610.2 L895.2,608.3 L895.6,606.5 L895.9,604.2 L896.2,602.5 L896.5,601.3 L896.9,600.3 L897.2,599.5 L897.5,598.7 L897.8,598.2 L898.2,597.9 L898.5,597.9 L898.8,598.2 L899.2,598.7 L899.5,599.5 L899.8,601.0 L900.1,603.5 L900.5,605.3 L900.8,607.5 L901.1,610.0 L901.4,612.6 L901.8,615.5 L902.1,618.5 L902.4,621.5 L902.7,624.5 L903.1,627.0 L903.4,629.7 L903.7,632.5 L904.1,635.4 L904.4,638.4 L904.7,641.3 L905.0,644.1 L905.4,646.8 L905.7,649.3 L906.0,651.5 L906.3,653.5 L906.7,655.4 L907.0,657.1 L907.3,658.7 L907.7,660.1 L908.0,661.5 L908.3,662.8 L908.6,664.1 L909.0,665.3 L909.3,666.5 L909.6,667.2 L909.9,668.0 L910.3,668.7 L910.6,669.3 L910.9,670.0 L911.2,670.6 L911.6,671.1 L911.9,671.7 L912.2,672.2 L912.6,672.8 L912.9,673.3 L913.2,673.8 L913.5,674.2 L913.9,674.7 L914.2,675.1 L914.5,675.6 L914.8,676.0 L915.2,676.4 L915.5,676.8 L915.8,677.2 L916.2,677.7 L916.5,678.0 L916.8,678.4 L917.1,678.8 L917.5,679.1 L917.8,679.4 L918.1,679.6 L918.4,679.8 L918.8,680.0 L919.1,680.1 L919.4,680.1 L919.8,680.1 L920.1,680.1 L920.4,680.0 L920.7,679.9 L921.1,679.8 L921.4,679.7 L921.7,679.5 L922.0,679.4 L922.4,679.2 L922.7,678.9 L923.0,678.7 L923.3,678.4 L923.7,678.2 L924.0,677.8 L924.3,677.5 L924.7,677.1 L925.0,676.7 L925.3,676.3 L925.6,675.9 L926.0,675.4 L926.3,674.9 L926.6,674.3 L926.9,673.8 L927.3,673.2 L927.6,672.7 L927.9,672.0 L928.3,671.4 L928.6,670.7 L928.9,670.0 L929.2,669.2 L929.6,668.5 L929.9,667.7 L930.2,666.9 L930.5,666.1 L930.9,665.2 L931.2,664.4 L931.5,663.5 L931.9,662.6 L932.2,661.8 L932.5,660.9 L932.8,660.0 L933.2,659.2 L933.5,658.3 L933.8,657.4 L934.1,656.6 L934.8,655.0 L935.4,653.7 L936.1,652.5 L936.8,651.2 L937.4,649.9 L938.1,648.5 L938.7,647.2 L939.4,645.9 L940.0,644.6 L940.7,643.3 L941.3,642.0 L942.0,640.7 L942.6,639.5 L943.3,638.4 L944.0,637.3 L944.6,636.2 L945.3,635.3 L945.9,634.3 L946.6,633.3 L947.2,632.5 L947.9,631.6 L948.5,630.9 L949.2,630.2 L949.8,629.5 L950.5,628.9 L951.1,628.3 L951.8,627.8 L952.5,627.3 L953.1,626.8 L953.8,626.3 L954.4,625.8 L955.1,625.4 L955.7,625.1 L956.4,624.8 L957.0,624.6 L957.7,624.3 L958.3,624.1 L959.0,623.8 L959.6,623.6 L960.3,623.4 L961.0,623.2 L961.6,623.0 L962.3,622.8 L962.9,622.6 L963.6,622.4 L964.2,622.3 L964.9,622.1 L965.5,622.0 L966.2,621.9 L966.8,621.8 L967.5,621.7 L968.1,621.6 L968.8,621.6 L969.5,621.5 L970.1,621.5 L970.8,621.5 L971.4,621.5 L972.1,621.6 L972.7,621.6 L973.4,621.7 L974.0,621.8 L974.7,621.9 L975.3,622.1 L976.0,622.3 L976.6,622.5 L977.3,622.8 L978.0,623.1 L978.6,623.4 L979.3,623.8 L979.9,624.2 L980.6,624.6 L981.2,625.1 L981.9,625.6 L982.5,626.0 L983.2,626.4 L983.8,626.9 L984.5,627.4 L985.2,627.9 L985.8,628.5 L986.5,629.0 L987.1,629.6 L987.8,630.2 L988.4,630.8 L989.1,631.4 L989.7,632.1 L990.4,632.7 L991.0,633.4 L991.7,634.0 L992.3,634.7 L993.0,635.3 L993.7,636.0 L994.3,636.7 L995.0,637.3 L995.6,638.0 L996.3,638.6 L996.9,639.3 L997.6,639.9 L998.2,640.5 L998.9,641.1 L999.5,641.8 L1000.2,642.4 L1000.8,643.1 L1001.5,643.7 L1002.2,644.4 L1002.8,645.1 L1003.5,645.7 L1004.1,646.4 L1004.8,647.1 L1005.4,647.7 L1006.1,648.4 L1006.7,649.1 L1007.4,649.7 L1008.0,650.4 L1008.7,651.1 L1009.4,651.7 L1010.0,652.4 L1010.7,653.0 L1011.3,653.7 L1012.0,654.3 L1012.6,654.9 L1013.3,655.5 L1013.9,656.2 L1014.6,656.8 L1015.2,657.4 L1015.9,658.0 L1016.5,658.7 L1017.2,659.3 L1017.9,659.9 L1018.5,660.5 L1019.2,661.1 L1019.8,661.7 L1020.5,662.3 L1021.1,662.9 L1021.8,663.5 L1022.4,664.1 L1023.1,664.7 L1023.7,665.3 L1024.4,665.8 L1025.0,666.4 L1025.7,667.0 L1026.4,667.5 L1027.0,668.1 L1027.7,668.6 L1028.3,669.1 L1029.0,669.7 L1029.6,670.2 L1030.3,670.7 L1030.9,671.2 L1031.6,671.7 L1032.2,672.2 L1032.9,672.7 L1033.5,673.2 L1034.2,673.7 L1034.9,674.1 L1035.5,674.6 L1036.2,675.1 L1036.8,675.5 L1037.5,676.0 L1038.1,676.4 L1038.8,676.9 L1039.4,677.3 L1040.1,677.7 L1040.7,678.1 L1041.4,678.5 L1042.0,678.9 L1042.7,679.3 L1043.4,679.7 L1044.0,680.1 L1044.7,680.5 L1045.3,680.8 L1046.0,681.2 L1046.6,681.5 L1047.3,681.9 L1047.9,682.2 L1048.6,682.5 L1049.2,682.8 L1049.9,683.1 L1050.6,683.4 L1051.2,683.7 L1051.9,684.0 L1052.5,684.3 L1053.2,684.5 L1053.8,684.8 L1054.5,685.1 L1055.1,685.3 L1055.8,685.6 L1056.4,685.9 L1057.1,686.1 L1057.7,686.4 L1058.4,686.6 L1059.1,686.9 L1059.7,687.1 L1060.4,687.3 L1061.0,687.5 L1061.7,687.6 L1062.3,687.8 L1063.0,688.0 L1063.6,688.2 L1064.3,688.3 L1064.9,688.5 L1065.6,688.7 L1066.2,688.8 L1066.9,689.0 L1067.6,689.1 L1068.2,689.3 L1068.9,689.4 L1069.5,689.6 L1070.2,689.7 L1070.8,689.9 L1071.5,690.0 L1072.1,690.2 L1072.8,690.3 L1073.4,690.4 L1074.1,690.6 L1074.8,690.7 L1075.4,690.9 L1076.1,691.0 L1076.7,691.1 L1077.4,691.3 L1078.0,691.4 L1078.7,691.5 L1079.3,691.7 L1080.0,691.8 L1080.6,691.9 L1081.3,692.0 L1081.9,692.1 L1082.6,692.1 L1083.3,692.2 L1083.9,692.3 L1084.6,692.4 L1085.2,692.5 L1085.9,692.6 L1086.5,692.7 L1087.2,692.8 L1087.8,692.9 L1088.5,692.9 L1089.1,693.0 L1089.8,693.1 L1090.4,693.2 L1091.1,693.3 L1091.8,693.4 L1092.4,693.5 L1093.1,693.6 L1093.7,693.6 L1094.4,693.7 L1095.0,693.8 L1095.7,693.9 L1096.3,694.0 L1097.0,694.1 L1097.6,694.1 L1098.3,694.2 L1098.9,694.3 L1099.6,694.4 L1100.3,694.5 L1100.9,694.5 L1101.6,694.6 L1102.2,694.7 L1102.9,694.7 L1103.5,694.8 L1104.2,694.9 L1104.8,694.9 L1105.5,695.0 L1106.1,695.1 L1106.8,695.1 L1107.5,695.2 L1108.1,695.2 L1108.8,695.3 L1109.4,695.3 L1110.1,695.4 L1110.7,695.4 L1111.4,695.5 L1112.0,695.5" fill="none" stroke="#3284d8" stroke-width="2.6" stroke-linejoin="round"/>
<path d="M853.7,696.5 L854.0,696.5 L854.4,696.5 L854.7,696.5 L855.0,696.5 L855.3,696.5 L855.7,696.5 L856.0,696.5 L856.3,696.5 L856.6,696.5 L857.0,696.5 L857.3,696.4 L857.6,696.4 L857.9,696.4 L858.3,696.4 L858.6,696.4 L858.9,696.4 L859.3,696.4 L859.6,696.4 L859.9,696.4 L860.2,696.4 L860.6,696.4 L860.9,696.4 L861.2,696.4 L861.5,696.4 L861.9,696.4 L862.2,696.4 L862.5,696.4 L862.9,696.4 L863.2,696.3 L863.5,696.3 L863.8,696.3 L864.2,696.3 L864.5,696.3 L864.8,696.3 L865.1,696.3 L865.5,696.3 L865.8,696.3 L866.1,696.3 L866.5,696.3 L866.8,696.3 L867.1,696.3 L867.4,696.3 L867.8,696.2 L868.1,696.2 L868.4,696.2 L868.7,696.2 L869.1,696.2 L869.4,696.2 L869.7,696.2 L870.0,696.2 L870.4,696.2 L870.7,696.2 L871.0,696.2 L871.4,696.1 L871.7,696.1 L872.0,696.1 L872.3,696.1 L872.7,696.1 L873.0,696.1 L873.3,696.1 L873.6,696.1 L874.0,696.1 L874.3,696.0 L874.6,696.0 L875.0,696.0 L875.3,696.0 L875.6,696.0 L875.9,696.0 L876.3,696.0 L876.6,696.0 L876.9,695.9 L877.2,695.9 L877.6,695.9 L877.9,695.9 L878.2,695.9 L878.5,695.9 L878.9,695.8 L879.2,695.8 L879.5,695.7 L879.9,695.5 L880.2,695.3 L880.5,695.0 L880.8,694.8 L881.2,694.5 L881.5,694.3 L881.8,694.0 L882.1,693.7 L882.5,693.4 L882.8,693.0 L883.1,692.6 L883.5,692.2 L883.8,691.7 L884.1,691.2 L884.4,690.6 L884.8,689.9 L885.1,689.1 L885.4,688.3 L885.7,687.1 L886.1,685.7 L886.4,684.3 L886.7,682.7 L887.1,681.1 L887.4,679.4 L887.7,677.6 L888.0,675.8 L888.4,673.9 L888.7,671.9 L889.0,669.9 L889.3,667.8 L889.7,665.2 L890.0,662.4 L890.3,659.5 L890.6,656.4 L891.0,653.3 L891.3,650.3 L891.6,647.4 L892.0,644.6 L892.3,642.0 L892.6,639.5 L892.9,636.9 L893.3,634.5 L893.6,632.3 L893.9,630.2 L894.2,628.4 L894.6,626.7 L894.9,625.1 L895.2,623.5 L895.6,621.8 L895.9,620.5 L896.2,619.6 L896.5,618.9 L896.9,618.2 L897.2,617.6 L897.5,617.2 L897.8,617.0 L898.2,617.1 L898.5,617.4 L898.8,617.8 L899.2,618.5 L899.5,619.9 L899.8,621.8 L900.1,623.4 L900.5,625.2 L900.8,627.2 L901.1,629.4 L901.4,631.7 L901.8,634.1 L902.1,636.6 L902.4,638.9 L902.7,641.0 L903.1,643.2 L903.4,645.5 L903.7,647.8 L904.1,650.2 L904.4,652.5 L904.7,654.8 L905.0,656.9 L905.4,658.9 L905.7,660.6 L906.0,662.2 L906.3,663.7 L906.7,665.1 L907.0,666.3 L907.3,667.5 L907.7,668.6 L908.0,669.7 L908.3,670.7 L908.6,671.6 L909.0,672.5 L909.3,673.1 L909.6,673.7 L909.9,674.3 L910.3,674.8 L910.6,675.3 L910.9,675.8 L911.2,676.3 L911.6,676.7 L911.9,677.1 L912.2,677.6 L912.6,678.0 L912.9,678.3 L913.2,678.7 L913.5,679.1 L913.9,679.5 L914.2,679.8 L914.5,680.1 L914.8,680.5 L915.2,680.8 L915.5,681.2 L915.8,681.5 L916.2,681.8 L916.5,682.1 L916.8,682.4 L917.1,682.6 L917.5,682.9 L917.8,683.1 L918.1,683.2 L918.4,683.3 L918.8,683.4 L919.1,683.4 L919.4,683.4 L919.8,683.5 L920.1,683.4 L920.4,683.3 L920.7,683.2 L921.1,683.1 L921.4,683.0 L921.7,682.9 L922.0,682.7 L922.4,682.5 L922.7,682.4 L923.0,682.2 L923.3,681.9 L923.7,681.7 L924.0,681.4 L924.3,681.2 L924.7,680.9 L925.0,680.5 L925.3,680.2 L925.6,679.9 L926.0,679.5 L926.3,679.1 L926.6,678.7 L926.9,678.2 L927.3,677.8 L927.6,677.3 L927.9,676.8 L928.3,676.3 L928.6,675.7 L928.9,675.1 L929.2,674.5 L929.6,673.9 L929.9,673.3 L930.2,672.6 L930.5,672.0 L930.9,671.3 L931.2,670.6 L931.5,669.9 L931.9,669.2 L932.2,668.5 L932.5,667.8 L932.8,667.1 L933.2,666.4 L933.5,665.7 L933.8,665.0 L934.1,664.3 L934.8,663.0 L935.4,662.0 L936.1,661.0 L936.8,659.9 L937.4,658.9 L938.1,657.8 L938.7,656.7 L939.4,655.6 L940.0,654.6 L940.7,653.5 L941.3,652.5 L942.0,651.5 L942.6,650.5 L943.3,649.6 L944.0,648.7 L944.6,647.9 L945.3,647.1 L945.9,646.3 L946.6,645.5 L947.2,644.8 L947.9,644.2 L948.5,643.5 L949.2,643.0 L949.8,642.4 L950.5,641.9 L951.1,641.5 L951.8,641.0 L952.5,640.6 L953.1,640.2 L953.8,639.8 L954.4,639.5 L955.1,639.1 L955.7,638.9 L956.4,638.7 L957.0,638.4 L957.7,638.2 L958.3,638.0 L959.0,637.8 L959.6,637.7 L960.3,637.5 L961.0,637.3 L961.6,637.1 L962.3,637.0 L962.9,636.8 L963.6,636.7 L964.2,636.6 L964.9,636.5 L965.5,636.4 L966.2,636.3 L966.8,636.2 L967.5,636.1 L968.1,636.1 L968.8,636.0 L969.5,636.0 L970.1,636.0 L970.8,636.0 L971.4,636.0 L972.1,636.0 L972.7,636.1 L973.4,636.1 L974.0,636.2 L974.7,636.3 L975.3,636.5 L976.0,636.6 L976.6,636.8 L977.3,637.0 L978.0,637.3 L978.6,637.5 L979.3,637.8 L979.9,638.2 L980.6,638.5 L981.2,638.9 L981.9,639.3 L982.5,639.6 L983.2,640.0 L983.8,640.3 L984.5,640.7 L985.2,641.2 L985.8,641.6 L986.5,642.0 L987.1,642.5 L987.8,643.0 L988.4,643.5 L989.1,644.0 L989.7,644.5 L990.4,645.0 L991.0,645.6 L991.7,646.1 L992.3,646.6 L993.0,647.2 L993.7,647.7 L994.3,648.2 L995.0,648.7 L995.6,649.3 L996.3,649.8 L996.9,650.3 L997.6,650.8 L998.2,651.3 L998.9,651.8 L999.5,652.3 L1000.2,652.9 L1000.8,653.4 L1001.5,653.9 L1002.2,654.5 L1002.8,655.0 L1003.5,655.5 L1004.1,656.1 L1004.8,656.6 L1005.4,657.1 L1006.1,657.7 L1006.7,658.2 L1007.4,658.8 L1008.0,659.3 L1008.7,659.8 L1009.4,660.4 L1010.0,660.9 L1010.7,661.4 L1011.3,661.9 L1012.0,662.4 L1012.6,662.9 L1013.3,663.4 L1013.9,663.9 L1014.6,664.4 L1015.2,665.0 L1015.9,665.5 L1016.5,666.0 L1017.2,666.5 L1017.9,667.0 L1018.5,667.4 L1019.2,667.9 L1019.8,668.4 L1020.5,668.9 L1021.1,669.4 L1021.8,669.9 L1022.4,670.4 L1023.1,670.8 L1023.7,671.3 L1024.4,671.8 L1025.0,672.2 L1025.7,672.7 L1026.4,673.1 L1027.0,673.6 L1027.7,674.0 L1028.3,674.4 L1029.0,674.8 L1029.6,675.3 L1030.3,675.7 L1030.9,676.1 L1031.6,676.5 L1032.2,676.9 L1032.9,677.3 L1033.5,677.7 L1034.2,678.1 L1034.9,678.5 L1035.5,678.8 L1036.2,679.2 L1036.8,679.6 L1037.5,679.9 L1038.1,680.3 L1038.8,680.7 L1039.4,681.0 L1040.1,681.3 L1040.7,681.7 L1041.4,682.0 L1042.0,682.3 L1042.7,682.6 L1043.4,683.0 L1044.0,683.3 L1044.7,683.6 L1045.3,683.9 L1046.0,684.1 L1046.6,684.4 L1047.3,684.7 L1047.9,684.9 L1048.6,685.2 L1049.2,685.5 L1049.9,685.7 L1050.6,685.9 L1051.2,686.2 L1051.9,686.4 L1052.5,686.6 L1053.2,686.9 L1053.8,687.1 L1054.5,687.3 L1055.1,687.5 L1055.8,687.7 L1056.4,687.9 L1057.1,688.1 L1057.7,688.3 L1058.4,688.5 L1059.1,688.7 L1059.7,688.9 L1060.4,689.1 L1061.0,689.2 L1061.7,689.4 L1062.3,689.5 L1063.0,689.6 L1063.6,689.8 L1064.3,689.9 L1064.9,690.0 L1065.6,690.2 L1066.2,690.3 L1066.9,690.4 L1067.6,690.6 L1068.2,690.7 L1068.9,690.8 L1069.5,690.9 L1070.2,691.0 L1070.8,691.2 L1071.5,691.3 L1072.1,691.4 L1072.8,691.5 L1073.4,691.6 L1074.1,691.7 L1074.8,691.8 L1075.4,691.9 L1076.1,692.1 L1076.7,692.2 L1077.4,692.3 L1078.0,692.4 L1078.7,692.5 L1079.3,692.6 L1080.0,692.7 L1080.6,692.8 L1081.3,692.8 L1081.9,692.9 L1082.6,693.0 L1083.3,693.1 L1083.9,693.1 L1084.6,693.2 L1085.2,693.3 L1085.9,693.3 L1086.5,693.4 L1087.2,693.5 L1087.8,693.6 L1088.5,693.6 L1089.1,693.7 L1089.8,693.8 L1090.4,693.8 L1091.1,693.9 L1091.8,694.0 L1092.4,694.1 L1093.1,694.1 L1093.7,694.2 L1094.4,694.3 L1095.0,694.3 L1095.7,694.4 L1096.3,694.5 L1097.0,694.5 L1097.6,694.6 L1098.3,694.7 L1098.9,694.7 L1099.6,694.8 L1100.3,694.9 L1100.9,694.9 L1101.6,695.0 L1102.2,695.0 L1102.9,695.1 L1103.5,695.1 L1104.2,695.2 L1104.8,695.2 L1105.5,695.3 L1106.1,695.3 L1106.8,695.4 L1107.5,695.4 L1108.1,695.5 L1108.8,695.5 L1109.4,695.6 L1110.1,695.6 L1110.7,695.6 L1111.4,695.7 L1112.0,695.7" fill="none" stroke="#3284d8" stroke-width="2.6" stroke-linejoin="round"/>
<path d="M853.7,696.5 L854.0,696.5 L854.4,696.5 L854.7,696.5 L855.0,696.5 L855.3,696.5 L855.7,696.5 L856.0,696.5 L856.3,696.5 L856.6,696.5 L857.0,696.5 L857.3,696.5 L857.6,696.5 L857.9,696.4 L858.3,696.4 L858.6,696.4 L858.9,696.4 L859.3,696.4 L859.6,696.4 L859.9,696.4 L860.2,696.4 L860.6,696.4 L860.9,696.4 L861.2,696.4 L861.5,696.4 L861.9,696.4 L862.2,696.4 L862.5,696.4 L862.9,696.4 L863.2,696.4 L863.5,696.4 L863.8,696.4 L864.2,696.4 L864.5,696.4 L864.8,696.4 L865.1,696.3 L865.5,696.3 L865.8,696.3 L866.1,696.3 L866.5,696.3 L866.8,696.3 L867.1,696.3 L867.4,696.3 L867.8,696.3 L868.1,696.3 L868.4,696.3 L868.7,696.3 L869.1,696.3 L869.4,696.3 L869.7,696.3 L870.0,696.2 L870.4,696.2 L870.7,696.2 L871.0,696.2 L871.4,696.2 L871.7,696.2 L872.0,696.2 L872.3,696.2 L872.7,696.2 L873.0,696.2 L873.3,696.2 L873.6,696.2 L874.0,696.1 L874.3,696.1 L874.6,696.1 L875.0,696.1 L875.3,696.1 L875.6,696.1 L875.9,696.1 L876.3,696.1 L876.6,696.1 L876.9,696.0 L877.2,696.0 L877.6,696.0 L877.9,696.0 L878.2,696.0 L878.5,696.0 L878.9,695.9 L879.2,695.8 L879.5,695.7 L879.9,695.5 L880.2,695.3 L880.5,695.1 L880.8,694.9 L881.2,694.7 L881.5,694.5 L881.8,694.2 L882.1,694.0 L882.5,693.7 L882.8,693.3 L883.1,693.0 L883.5,692.6 L883.8,692.1 L884.1,691.6 L884.4,691.1 L884.8,690.4 L885.1,689.7 L885.4,688.7 L885.7,687.6 L886.1,686.4 L886.4,685.1 L886.7,683.8 L887.1,682.4 L887.4,680.9 L887.7,679.4 L888.0,677.9 L888.4,676.3 L888.7,674.7 L889.0,672.9 L889.3,670.7 L889.7,668.4 L890.0,666.0 L890.3,663.5 L890.6,661.0 L891.0,658.6 L891.3,656.2 L891.6,654.0 L892.0,651.9 L892.3,649.9 L892.6,647.8 L892.9,645.9 L893.3,644.1 L893.6,642.5 L893.9,641.0 L894.2,639.6 L894.6,638.4 L894.9,637.0 L895.2,635.7 L895.6,634.7 L895.9,634.0 L896.2,633.5 L896.5,632.9 L896.9,632.5 L897.2,632.2 L897.5,632.1 L897.8,632.1 L898.2,632.4 L898.5,632.8 L898.8,633.5 L899.2,634.7 L899.5,636.2 L899.8,637.5 L900.1,639.0 L900.5,640.7 L900.8,642.5 L901.1,644.4 L901.4,646.4 L901.8,648.4 L902.1,650.2 L902.4,651.9 L902.7,653.7 L903.1,655.6 L903.4,657.5 L903.7,659.4 L904.1,661.3 L904.4,663.1 L904.7,664.8 L905.0,666.4 L905.4,667.8 L905.7,669.0 L906.0,670.2 L906.3,671.3 L906.7,672.3 L907.0,673.2 L907.3,674.1 L907.7,675.0 L908.0,675.8 L908.3,676.6 L908.6,677.3 L909.0,677.7 L909.3,678.2 L909.6,678.6 L909.9,679.1 L910.3,679.5 L910.6,679.9 L910.9,680.2 L911.2,680.6 L911.6,681.0 L911.9,681.3 L912.2,681.6 L912.6,681.9 L912.9,682.2 L913.2,682.5 L913.5,682.8 L913.9,683.1 L914.2,683.4 L914.5,683.7 L914.8,683.9 L915.2,684.2 L915.5,684.5 L915.8,684.7 L916.2,685.0 L916.5,685.2 L916.8,685.4 L917.1,685.6 L917.5,685.7 L917.8,685.9 L918.1,686.0 L918.4,686.0 L918.8,686.0 L919.1,686.0 L919.4,686.1 L919.8,686.1 L920.1,686.0 L920.4,685.9 L920.7,685.8 L921.1,685.7 L921.4,685.6 L921.7,685.5 L922.0,685.3 L922.4,685.2 L922.7,685.0 L923.0,684.9 L923.3,684.7 L923.7,684.5 L924.0,684.3 L924.3,684.0 L924.7,683.8 L925.0,683.6 L925.3,683.3 L925.6,683.0 L926.0,682.7 L926.3,682.4 L926.6,682.1 L926.9,681.7 L927.3,681.4 L927.6,681.0 L927.9,680.6 L928.3,680.1 L928.6,679.7 L928.9,679.2 L929.2,678.7 L929.6,678.2 L929.9,677.7 L930.2,677.2 L930.5,676.6 L930.9,676.1 L931.2,675.5 L931.5,675.0 L931.9,674.4 L932.2,673.8 L932.5,673.2 L932.8,672.7 L933.2,672.1 L933.5,671.5 L933.8,671.0 L934.1,670.4 L934.8,669.3 L935.4,668.5 L936.1,667.7 L936.8,666.8 L937.4,666.0 L938.1,665.1 L938.7,664.2 L939.4,663.3 L940.0,662.5 L940.7,661.6 L941.3,660.8 L942.0,660.0 L942.6,659.2 L943.3,658.4 L944.0,657.7 L944.6,657.0 L945.3,656.4 L945.9,655.8 L946.6,655.1 L947.2,654.5 L947.9,654.0 L948.5,653.5 L949.2,653.1 L949.8,652.6 L950.5,652.2 L951.1,651.8 L951.8,651.5 L952.5,651.1 L953.1,650.8 L953.8,650.5 L954.4,650.2 L955.1,649.9 L955.7,649.7 L956.4,649.6 L957.0,649.4 L957.7,649.2 L958.3,649.1 L959.0,648.9 L959.6,648.7 L960.3,648.6 L961.0,648.5 L961.6,648.3 L962.3,648.2 L962.9,648.1 L963.6,648.0 L964.2,647.9 L964.9,647.8 L965.5,647.7 L966.2,647.6 L966.8,647.6 L967.5,647.5 L968.1,647.5 L968.8,647.4 L969.5,647.4 L970.1,647.4 L970.8,647.4 L971.4,647.4 L972.1,647.4 L972.7,647.4 L973.4,647.5 L974.0,647.6 L974.7,647.7 L975.3,647.8 L976.0,647.9 L976.6,648.1 L977.3,648.2 L978.0,648.4 L978.6,648.6 L979.3,648.9 L979.9,649.1 L980.6,649.4 L981.2,649.8 L981.9,650.1 L982.5,650.3 L983.2,650.6 L983.8,650.9 L984.5,651.2 L985.2,651.6 L985.8,651.9 L986.5,652.3 L987.1,652.7 L987.8,653.1 L988.4,653.5 L989.1,653.9 L989.7,654.3 L990.4,654.7 L991.0,655.1 L991.7,655.6 L992.3,656.0 L993.0,656.4 L993.7,656.9 L994.3,657.3 L995.0,657.7 L995.6,658.2 L996.3,658.6 L996.9,659.0 L997.6,659.4 L998.2,659.8 L998.9,660.2 L999.5,660.7 L1000.2,661.1 L1000.8,661.5 L1001.5,661.9 L1002.2,662.4 L1002.8,662.8 L1003.5,663.2 L1004.1,663.7 L1004.8,664.1 L1005.4,664.6 L1006.1,665.0 L1006.7,665.4 L1007.4,665.9 L1008.0,666.3 L1008.7,666.7 L1009.4,667.2 L1010.0,667.6 L1010.7,668.0 L1011.3,668.4 L1012.0,668.8 L1012.6,669.3 L1013.3,669.7 L1013.9,670.1 L1014.6,670.5 L1015.2,670.9 L1015.9,671.3 L1016.5,671.7 L1017.2,672.1 L1017.9,672.5 L1018.5,672.9 L1019.2,673.3 L1019.8,673.7 L1020.5,674.1 L1021.1,674.5 L1021.8,674.9 L1022.4,675.3 L1023.1,675.7 L1023.7,676.0 L1024.4,676.4 L1025.0,676.8 L1025.7,677.2 L1026.4,677.5 L1027.0,677.9 L1027.7,678.2 L1028.3,678.6 L1029.0,678.9 L1029.6,679.3 L1030.3,679.6 L1030.9,679.9 L1031.6,680.3 L1032.2,680.6 L1032.9,680.9 L1033.5,681.2 L1034.2,681.5 L1034.9,681.9 L1035.5,682.2 L1036.2,682.5 L1036.8,682.8 L1037.5,683.1 L1038.1,683.3 L1038.8,683.6 L1039.4,683.9 L1040.1,684.2 L1040.7,684.5 L1041.4,684.7 L1042.0,685.0 L1042.7,685.3 L1043.4,685.5 L1044.0,685.8 L1044.7,686.0 L1045.3,686.2 L1046.0,686.5 L1046.6,686.7 L1047.3,686.9 L1047.9,687.1 L1048.6,687.3 L1049.2,687.5 L1049.9,687.7 L1050.6,687.9 L1051.2,688.1 L1051.9,688.3 L1052.5,688.5 L1053.2,688.7 L1053.8,688.8 L1054.5,689.0 L1055.1,689.2 L1055.8,689.4 L1056.4,689.5 L1057.1,689.7 L1057.7,689.9 L1058.4,690.0 L1059.1,690.2 L1059.7,690.3 L1060.4,690.5 L1061.0,690.6 L1061.7,690.7 L1062.3,690.8 L1063.0,690.9 L1063.6,691.0 L1064.3,691.2 L1064.9,691.3 L1065.6,691.4 L1066.2,691.5 L1066.9,691.6 L1067.6,691.7 L1068.2,691.8 L1068.9,691.9 L1069.5,692.0 L1070.2,692.1 L1070.8,692.2 L1071.5,692.3 L1072.1,692.3 L1072.8,692.4 L1073.4,692.5 L1074.1,692.6 L1074.8,692.7 L1075.4,692.8 L1076.1,692.9 L1076.7,693.0 L1077.4,693.1 L1078.0,693.2 L1078.7,693.2 L1079.3,693.3 L1080.0,693.4 L1080.6,693.5 L1081.3,693.5 L1081.9,693.6 L1082.6,693.6 L1083.3,693.7 L1083.9,693.8 L1084.6,693.8 L1085.2,693.9 L1085.9,693.9 L1086.5,694.0 L1087.2,694.1 L1087.8,694.1 L1088.5,694.2 L1089.1,694.2 L1089.8,694.3 L1090.4,694.3 L1091.1,694.4 L1091.8,694.5 L1092.4,694.5 L1093.1,694.6 L1093.7,694.6 L1094.4,694.7 L1095.0,694.7 L1095.7,694.8 L1096.3,694.9 L1097.0,694.9 L1097.6,695.0 L1098.3,695.0 L1098.9,695.1 L1099.6,695.1 L1100.3,695.2 L1100.9,695.2 L1101.6,695.3 L1102.2,695.3 L1102.9,695.3 L1103.5,695.4 L1104.2,695.4 L1104.8,695.5 L1105.5,695.5 L1106.1,695.6 L1106.8,695.6 L1107.5,695.6 L1108.1,695.7 L1108.8,695.7 L1109.4,695.7 L1110.1,695.8 L1110.7,695.8 L1111.4,695.8 L1112.0,695.8" fill="none" stroke="#3284d8" stroke-width="2.6" stroke-linejoin="round"/>
<path d="M853.7,696.5 L854.0,696.5 L854.4,696.5 L854.7,696.5 L855.0,696.5 L855.3,696.5 L855.7,696.5 L856.0,696.5 L856.3,696.5 L856.6,696.5 L857.0,696.5 L857.3,696.5 L857.6,696.5 L857.9,696.5 L858.3,696.5 L858.6,696.5 L858.9,696.5 L859.3,696.4 L859.6,696.4 L859.9,696.4 L860.2,696.4 L860.6,696.4 L860.9,696.4 L861.2,696.4 L861.5,696.4 L861.9,696.4 L862.2,696.4 L862.5,696.4 L862.9,696.4 L863.2,696.4 L863.5,696.4 L863.8,696.4 L864.2,696.4 L864.5,696.4 L864.8,696.4 L865.1,696.4 L865.5,696.4 L865.8,696.4 L866.1,696.4 L866.5,696.4 L866.8,696.4 L867.1,696.4 L867.4,696.3 L867.8,696.3 L868.1,696.3 L868.4,696.3 L868.7,696.3 L869.1,696.3 L869.4,696.3 L869.7,696.3 L870.0,696.3 L870.4,696.3 L870.7,696.3 L871.0,696.3 L871.4,696.3 L871.7,696.3 L872.0,696.3 L872.3,696.3 L872.7,696.3 L873.0,696.2 L873.3,696.2 L873.6,696.2 L874.0,696.2 L874.3,696.2 L874.6,696.2 L875.0,696.2 L875.3,696.2 L875.6,696.2 L875.9,696.2 L876.3,696.2 L876.6,696.2 L876.9,696.2 L877.2,696.1 L877.6,696.1 L877.9,696.1 L878.2,696.1 L878.5,696.1 L878.9,696.0 L879.2,695.8 L879.5,695.7 L879.9,695.6 L880.2,695.4 L880.5,695.2 L880.8,695.1 L881.2,694.9 L881.5,694.8 L881.8,694.6 L882.1,694.3 L882.5,694.1 L882.8,693.8 L883.1,693.5 L883.5,693.1 L883.8,692.7 L884.1,692.3 L884.4,691.8 L884.8,691.2 L885.1,690.4 L885.4,689.6 L885.7,688.6 L886.1,687.7 L886.4,686.6 L886.7,685.6 L887.1,684.4 L887.4,683.3 L887.7,682.1 L888.0,680.9 L888.4,679.6 L888.7,678.2 L889.0,676.5 L889.3,674.8 L889.7,672.9 L890.0,671.0 L890.3,669.1 L890.6,667.2 L891.0,665.4 L891.3,663.8 L891.6,662.2 L892.0,660.7 L892.3,659.1 L892.6,657.6 L892.9,656.3 L893.3,655.1 L893.6,654.0 L893.9,652.9 L894.2,652.0 L894.6,650.9 L894.9,650.0 L895.2,649.3 L895.6,648.8 L895.9,648.4 L896.2,648.0 L896.5,647.6 L896.9,647.4 L897.2,647.4 L897.5,647.5 L897.8,647.7 L898.2,648.0 L898.5,648.6 L898.8,649.7 L899.2,650.8 L899.5,651.8 L899.8,653.0 L900.1,654.3 L900.5,655.7 L900.8,657.1 L901.1,658.6 L901.4,660.1 L901.8,661.5 L902.1,662.8 L902.4,664.2 L902.7,665.6 L903.1,667.1 L903.4,668.6 L903.7,670.0 L904.1,671.3 L904.4,672.6 L904.7,673.8 L905.0,674.9 L905.4,675.8 L905.7,676.7 L906.0,677.5 L906.3,678.3 L906.7,679.0 L907.0,679.6 L907.3,680.3 L907.7,680.9 L908.0,681.5 L908.3,682.0 L908.6,682.3 L909.0,682.7 L909.3,683.0 L909.6,683.3 L909.9,683.6 L910.3,683.9 L910.6,684.2 L910.9,684.5 L911.2,684.8 L911.6,685.0 L911.9,685.3 L912.2,685.5 L912.6,685.7 L912.9,686.0 L913.2,686.2 L913.5,686.4 L913.9,686.6 L914.2,686.8 L914.5,687.0 L914.8,687.2 L915.2,687.4 L915.5,687.6 L915.8,687.8 L916.2,688.0 L916.5,688.1 L916.8,688.3 L917.1,688.4 L917.5,688.5 L917.8,688.6 L918.1,688.6 L918.4,688.6 L918.8,688.6 L919.1,688.7 L919.4,688.7 L919.8,688.7 L920.1,688.6 L920.4,688.5 L920.7,688.4 L921.1,688.3 L921.4,688.2 L921.7,688.1 L922.0,688.0 L922.4,687.9 L922.7,687.7 L923.0,687.6 L923.3,687.5 L923.7,687.3 L924.0,687.2 L924.3,687.0 L924.7,686.8 L925.0,686.6 L925.3,686.4 L925.6,686.2 L926.0,686.0 L926.3,685.8 L926.6,685.5 L926.9,685.2 L927.3,685.0 L927.6,684.7 L927.9,684.4 L928.3,684.0 L928.6,683.7 L928.9,683.3 L929.2,683.0 L929.6,682.6 L929.9,682.2 L930.2,681.8 L930.5,681.4 L930.9,680.9 L931.2,680.5 L931.5,680.1 L931.9,679.6 L932.2,679.2 L932.5,678.8 L932.8,678.3 L933.2,677.9 L933.5,677.4 L933.8,677.0 L934.1,676.6 L934.8,675.7 L935.4,675.1 L936.1,674.5 L936.8,673.8 L937.4,673.2 L938.1,672.5 L938.7,671.9 L939.4,671.2 L940.0,670.5 L940.7,669.9 L941.3,669.2 L942.0,668.6 L942.6,668.0 L943.3,667.4 L944.0,666.9 L944.6,666.4 L945.3,665.9 L945.9,665.4 L946.6,664.9 L947.2,664.5 L947.9,664.1 L948.5,663.7 L949.2,663.3 L949.8,663.0 L950.5,662.7 L951.1,662.4 L951.8,662.1 L952.5,661.9 L953.1,661.6 L953.8,661.4 L954.4,661.2 L955.1,660.9 L955.7,660.8 L956.4,660.7 L957.0,660.5 L957.7,660.4 L958.3,660.3 L959.0,660.2 L959.6,660.0 L960.3,659.9 L961.0,659.8 L961.6,659.7 L962.3,659.6 L962.9,659.5 L963.6,659.5 L964.2,659.4 L964.9,659.3 L965.5,659.2 L966.2,659.2 L966.8,659.1 L967.5,659.1 L968.1,659.1 L968.8,659.0 L969.5,659.0 L970.1,659.0 L970.8,659.0 L971.4,659.0 L972.1,659.0 L972.7,659.1 L973.4,659.1 L974.0,659.2 L974.7,659.2 L975.3,659.3 L976.0,659.4 L976.6,659.5 L977.3,659.6 L978.0,659.8 L978.6,660.0 L979.3,660.1 L979.9,660.3 L980.6,660.6 L981.2,660.8 L981.9,661.0 L982.5,661.3 L983.2,661.5 L983.8,661.7 L984.5,662.0 L985.2,662.2 L985.8,662.5 L986.5,662.8 L987.1,663.1 L987.8,663.3 L988.4,663.7 L989.1,664.0 L989.7,664.3 L990.4,664.6 L991.0,664.9 L991.7,665.3 L992.3,665.6 L993.0,665.9 L993.7,666.3 L994.3,666.6 L995.0,666.9 L995.6,667.2 L996.3,667.6 L996.9,667.9 L997.6,668.2 L998.2,668.5 L998.9,668.8 L999.5,669.1 L1000.2,669.5 L1000.8,669.8 L1001.5,670.1 L1002.2,670.5 L1002.8,670.8 L1003.5,671.1 L1004.1,671.4 L1004.8,671.8 L1005.4,672.1 L1006.1,672.5 L1006.7,672.8 L1007.4,673.1 L1008.0,673.4 L1008.7,673.8 L1009.4,674.1 L1010.0,674.4 L1010.7,674.8 L1011.3,675.1 L1012.0,675.4 L1012.6,675.7 L1013.3,676.0 L1013.9,676.3 L1014.6,676.6 L1015.2,677.0 L1015.9,677.3 L1016.5,677.6 L1017.2,677.9 L1017.9,678.2 L1018.5,678.5 L1019.2,678.8 L1019.8,679.1 L1020.5,679.4 L1021.1,679.7 L1021.8,680.0 L1022.4,680.3 L1023.1,680.6 L1023.7,680.9 L1024.4,681.2 L1025.0,681.5 L1025.7,681.7 L1026.4,682.0 L1027.0,682.3 L1027.7,682.6 L1028.3,682.8 L1029.0,683.1 L1029.6,683.3 L1030.3,683.6 L1030.9,683.9 L1031.6,684.1 L1032.2,684.4 L1032.9,684.6 L1033.5,684.8 L1034.2,685.1 L1034.9,685.3 L1035.5,685.6 L1036.2,685.8 L1036.8,686.0 L1037.5,686.2 L1038.1,686.5 L1038.8,686.7 L1039.4,686.9 L1040.1,687.1 L1040.7,687.3 L1041.4,687.5 L1042.0,687.7 L1042.7,687.9 L1043.4,688.1 L1044.0,688.3 L1044.7,688.5 L1045.3,688.7 L1046.0,688.8 L1046.6,689.0 L1047.3,689.2 L1047.9,689.3 L1048.6,689.5 L1049.2,689.7 L1049.9,689.8 L1050.6,690.0 L1051.2,690.1 L1051.9,690.2 L1052.5,690.4 L1053.2,690.5 L1053.8,690.7 L1054.5,690.8 L1055.1,690.9 L1055.8,691.1 L1056.4,691.2 L1057.1,691.3 L1057.7,691.4 L1058.4,691.6 L1059.1,691.7 L1059.7,691.8 L1060.4,691.9 L1061.0,692.0 L1061.7,692.1 L1062.3,692.2 L1063.0,692.2 L1063.6,692.3 L1064.3,692.4 L1064.9,692.5 L1065.6,692.6 L1066.2,692.7 L1066.9,692.7 L1067.6,692.8 L1068.2,692.9 L1068.9,693.0 L1069.5,693.0 L1070.2,693.1 L1070.8,693.2 L1071.5,693.3 L1072.1,693.3 L1072.8,693.4 L1073.4,693.5 L1074.1,693.5 L1074.8,693.6 L1075.4,693.7 L1076.1,693.7 L1076.7,693.8 L1077.4,693.9 L1078.0,693.9 L1078.7,694.0 L1079.3,694.1 L1080.0,694.1 L1080.6,694.2 L1081.3,694.2 L1081.9,694.3 L1082.6,694.3 L1083.3,694.4 L1083.9,694.4 L1084.6,694.5 L1085.2,694.5 L1085.9,694.5 L1086.5,694.6 L1087.2,694.6 L1087.8,694.7 L1088.5,694.7 L1089.1,694.8 L1089.8,694.8 L1090.4,694.9 L1091.1,694.9 L1091.8,694.9 L1092.4,695.0 L1093.1,695.0 L1093.7,695.1 L1094.4,695.1 L1095.0,695.2 L1095.7,695.2 L1096.3,695.2 L1097.0,695.3 L1097.6,695.3 L1098.3,695.4 L1098.9,695.4 L1099.6,695.4 L1100.3,695.5 L1100.9,695.5 L1101.6,695.6 L1102.2,695.6 L1102.9,695.6 L1103.5,695.7 L1104.2,695.7 L1104.8,695.7 L1105.5,695.8 L1106.1,695.8 L1106.8,695.8 L1107.5,695.8 L1108.1,695.9 L1108.8,695.9 L1109.4,695.9 L1110.1,695.9 L1110.7,696.0 L1111.4,696.0 L1112.0,696.0" fill="none" stroke="#3284d8" stroke-width="2.6" stroke-linejoin="round"/>
<path d="M853.7,696.5 L854.0,696.5 L854.4,696.5 L854.7,696.5 L855.0,696.5 L855.3,696.5 L855.7,696.5 L856.0,696.5 L856.3,696.5 L856.6,696.5 L857.0,696.5 L857.3,696.5 L857.6,696.5 L857.9,696.5 L858.3,696.5 L858.6,696.5 L858.9,696.5 L859.3,696.5 L859.6,696.5 L859.9,696.5 L860.2,696.5 L860.6,696.5 L860.9,696.5 L861.2,696.5 L861.5,696.4 L861.9,696.4 L862.2,696.4 L862.5,696.4 L862.9,696.4 L863.2,696.4 L863.5,696.4 L863.8,696.4 L864.2,696.4 L864.5,696.4 L864.8,696.4 L865.1,696.4 L865.5,696.4 L865.8,696.4 L866.1,696.4 L866.5,696.4 L866.8,696.4 L867.1,696.4 L867.4,696.4 L867.8,696.4 L868.1,696.4 L868.4,696.4 L868.7,696.4 L869.1,696.4 L869.4,696.4 L869.7,696.4 L870.0,696.4 L870.4,696.4 L870.7,696.4 L871.0,696.4 L871.4,696.4 L871.7,696.3 L872.0,696.3 L872.3,696.3 L872.7,696.3 L873.0,696.3 L873.3,696.3 L873.6,696.3 L874.0,696.3 L874.3,696.3 L874.6,696.3 L875.0,696.3 L875.3,696.3 L875.6,696.3 L875.9,696.3 L876.3,696.3 L876.6,696.3 L876.9,696.3 L877.2,696.3 L877.6,696.3 L877.9,696.2 L878.2,696.2 L878.5,696.1 L878.9,696.0 L879.2,695.9 L879.5,695.8 L879.9,695.7 L880.2,695.6 L880.5,695.5 L880.8,695.4 L881.2,695.3 L881.5,695.2 L881.8,695.0 L882.1,694.8 L882.5,694.6 L882.8,694.4 L883.1,694.2 L883.5,693.9 L883.8,693.6 L884.1,693.3 L884.4,692.8 L884.8,692.3 L885.1,691.7 L885.4,691.1 L885.7,690.4 L886.1,689.7 L886.4,689.0 L886.7,688.2 L887.1,687.4 L887.4,686.6 L887.7,685.8 L888.0,685.0 L888.4,683.9 L888.7,682.8 L889.0,681.6 L889.3,680.3 L889.7,679.0 L890.0,677.8 L890.3,676.5 L890.6,675.3 L891.0,674.2 L891.3,673.2 L891.6,672.1 L892.0,671.0 L892.3,670.1 L892.6,669.2 L892.9,668.4 L893.3,667.6 L893.6,667.0 L893.9,666.4 L894.2,665.6 L894.6,665.0 L894.9,664.6 L895.2,664.2 L895.6,663.9 L895.9,663.7 L896.2,663.5 L896.5,663.4 L896.9,663.3 L897.2,663.4 L897.5,663.6 L897.8,663.8 L898.2,664.3 L898.5,665.1 L898.8,665.8 L899.2,666.5 L899.5,667.3 L899.8,668.2 L900.1,669.1 L900.5,670.1 L900.8,671.2 L901.1,672.2 L901.4,673.1 L901.8,674.0 L902.1,674.9 L902.4,675.9 L902.7,676.9 L903.1,677.9 L903.4,678.8 L903.7,679.7 L904.1,680.6 L904.4,681.4 L904.7,682.1 L905.0,682.7 L905.4,683.3 L905.7,683.8 L906.0,684.3 L906.3,684.8 L906.7,685.2 L907.0,685.7 L907.3,686.1 L907.7,686.5 L908.0,686.8 L908.3,687.0 L908.6,687.3 L909.0,687.5 L909.3,687.7 L909.6,687.9 L909.9,688.1 L910.3,688.3 L910.6,688.5 L910.9,688.7 L911.2,688.8 L911.6,689.0 L911.9,689.1 L912.2,689.3 L912.6,689.5 L912.9,689.6 L913.2,689.8 L913.5,689.9 L913.9,690.0 L914.2,690.2 L914.5,690.3 L914.8,690.5 L915.2,690.6 L915.5,690.7 L915.8,690.8 L916.2,690.9 L916.5,691.0 L916.8,691.1 L917.1,691.2 L917.5,691.2 L917.8,691.2 L918.1,691.2 L918.4,691.2 L918.8,691.3 L919.1,691.3 L919.4,691.3 L919.8,691.2 L920.1,691.2 L920.4,691.1 L920.7,691.1 L921.1,691.0 L921.4,690.9 L921.7,690.8 L922.0,690.8 L922.4,690.7 L922.7,690.6 L923.0,690.5 L923.3,690.4 L923.7,690.3 L924.0,690.2 L924.3,690.1 L924.7,690.0 L925.0,689.8 L925.3,689.7 L925.6,689.6 L926.0,689.4 L926.3,689.3 L926.6,689.1 L926.9,688.9 L927.3,688.7 L927.6,688.5 L927.9,688.3 L928.3,688.1 L928.6,687.9 L928.9,687.6 L929.2,687.4 L929.6,687.1 L929.9,686.8 L930.2,686.6 L930.5,686.3 L930.9,686.0 L931.2,685.7 L931.5,685.4 L931.9,685.1 L932.2,684.8 L932.5,684.5 L932.8,684.2 L933.2,683.9 L933.5,683.6 L933.8,683.3 L934.1,683.0 L934.8,682.5 L935.4,682.0 L936.1,681.6 L936.8,681.2 L937.4,680.7 L938.1,680.3 L938.7,679.8 L939.4,679.4 L940.0,678.9 L940.7,678.5 L941.3,678.1 L942.0,677.7 L942.6,677.2 L943.3,676.9 L944.0,676.5 L944.6,676.1 L945.3,675.8 L945.9,675.5 L946.6,675.2 L947.2,674.9 L947.9,674.6 L948.5,674.3 L949.2,674.1 L949.8,673.9 L950.5,673.6 L951.1,673.5 L951.8,673.3 L952.5,673.1 L953.1,672.9 L953.8,672.8 L954.4,672.6 L955.1,672.5 L955.7,672.4 L956.4,672.3 L957.0,672.2 L957.7,672.1 L958.3,672.0 L959.0,671.9 L959.6,671.9 L960.3,671.8 L961.0,671.7 L961.6,671.6 L962.3,671.6 L962.9,671.5 L963.6,671.5 L964.2,671.4 L964.9,671.4 L965.5,671.3 L966.2,671.3 L966.8,671.2 L967.5,671.2 L968.1,671.2 L968.8,671.2 L969.5,671.2 L970.1,671.2 L970.8,671.2 L971.4,671.2 L972.1,671.2 L972.7,671.2 L973.4,671.2 L974.0,671.3 L974.7,671.3 L975.3,671.4 L976.0,671.4 L976.6,671.5 L977.3,671.6 L978.0,671.7 L978.6,671.8 L979.3,671.9 L979.9,672.1 L980.6,672.2 L981.2,672.4 L981.9,672.5 L982.5,672.7 L983.2,672.8 L983.8,673.0 L984.5,673.1 L985.2,673.3 L985.8,673.5 L986.5,673.7 L987.1,673.9 L987.8,674.1 L988.4,674.3 L989.1,674.5 L989.7,674.7 L990.4,674.9 L991.0,675.2 L991.7,675.4 L992.3,675.6 L993.0,675.8 L993.7,676.1 L994.3,676.3 L995.0,676.5 L995.6,676.7 L996.3,676.9 L996.9,677.1 L997.6,677.4 L998.2,677.6 L998.9,677.8 L999.5,678.0 L1000.2,678.2 L1000.8,678.4 L1001.5,678.7 L1002.2,678.9 L1002.8,679.1 L1003.5,679.3 L1004.1,679.6 L1004.8,679.8 L1005.4,680.0 L1006.1,680.2 L1006.7,680.5 L1007.4,680.7 L1008.0,680.9 L1008.7,681.1 L1009.4,681.4 L1010.0,681.6 L1010.7,681.8 L1011.3,682.0 L1012.0,682.2 L1012.6,682.4 L1013.3,682.7 L1013.9,682.9 L1014.6,683.1 L1015.2,683.3 L1015.9,683.5 L1016.5,683.7 L1017.2,683.9 L1017.9,684.1 L1018.5,684.3 L1019.2,684.5 L1019.8,684.7 L1020.5,684.9 L1021.1,685.2 L1021.8,685.4 L1022.4,685.6 L1023.1,685.8 L1023.7,685.9 L1024.4,686.1 L1025.0,686.3 L1025.7,686.5 L1026.4,686.7 L1027.0,686.9 L1027.7,687.1 L1028.3,687.3 L1029.0,687.4 L1029.6,687.6 L1030.3,687.8 L1030.9,688.0 L1031.6,688.1 L1032.2,688.3 L1032.9,688.5 L1033.5,688.6 L1034.2,688.8 L1034.9,688.9 L1035.5,689.1 L1036.2,689.3 L1036.8,689.4 L1037.5,689.6 L1038.1,689.7 L1038.8,689.9 L1039.4,690.0 L1040.1,690.2 L1040.7,690.3 L1041.4,690.4 L1042.0,690.6 L1042.7,690.7 L1043.4,690.8 L1044.0,691.0 L1044.7,691.1 L1045.3,691.2 L1046.0,691.3 L1046.6,691.4 L1047.3,691.5 L1047.9,691.7 L1048.6,691.8 L1049.2,691.9 L1049.9,692.0 L1050.6,692.1 L1051.2,692.2 L1051.9,692.3 L1052.5,692.4 L1053.2,692.5 L1053.8,692.6 L1054.5,692.6 L1055.1,692.7 L1055.8,692.8 L1056.4,692.9 L1057.1,693.0 L1057.7,693.1 L1058.4,693.2 L1059.1,693.2 L1059.7,693.3 L1060.4,693.4 L1061.0,693.4 L1061.7,693.5 L1062.3,693.6 L1063.0,693.6 L1063.6,693.7 L1064.3,693.7 L1064.9,693.8 L1065.6,693.9 L1066.2,693.9 L1066.9,694.0 L1067.6,694.0 L1068.2,694.1 L1068.9,694.1 L1069.5,694.2 L1070.2,694.2 L1070.8,694.3 L1071.5,694.3 L1072.1,694.4 L1072.8,694.4 L1073.4,694.5 L1074.1,694.5 L1074.8,694.5 L1075.4,694.6 L1076.1,694.6 L1076.7,694.7 L1077.4,694.7 L1078.0,694.8 L1078.7,694.8 L1079.3,694.9 L1080.0,694.9 L1080.6,694.9 L1081.3,695.0 L1081.9,695.0 L1082.6,695.0 L1083.3,695.1 L1083.9,695.1 L1084.6,695.1 L1085.2,695.1 L1085.9,695.2 L1086.5,695.2 L1087.2,695.2 L1087.8,695.3 L1088.5,695.3 L1089.1,695.3 L1089.8,695.4 L1090.4,695.4 L1091.1,695.4 L1091.8,695.4 L1092.4,695.5 L1093.1,695.5 L1093.7,695.5 L1094.4,695.6 L1095.0,695.6 L1095.7,695.6 L1096.3,695.6 L1097.0,695.7 L1097.6,695.7 L1098.3,695.7 L1098.9,695.8 L1099.6,695.8 L1100.3,695.8 L1100.9,695.8 L1101.6,695.9 L1102.2,695.9 L1102.9,695.9 L1103.5,695.9 L1104.2,696.0 L1104.8,696.0 L1105.5,696.0 L1106.1,696.0 L1106.8,696.0 L1107.5,696.1 L1108.1,696.1 L1108.8,696.1 L1109.4,696.1 L1110.1,696.1 L1110.7,696.1 L1111.4,696.1 L1112.0,696.2" fill="none" stroke="#3284d8" stroke-width="2.6" stroke-linejoin="round"/>
<path d="M853.7,696.5 L854.0,696.5 L854.4,696.5 L854.7,696.5 L855.0,696.5 L855.3,696.5 L855.7,696.5 L856.0,696.5 L856.3,696.5 L856.6,696.5 L857.0,696.5 L857.3,696.5 L857.6,696.5 L857.9,696.5 L858.3,696.5 L858.6,696.5 L858.9,696.5 L859.3,696.5 L859.6,696.5 L859.9,696.5 L860.2,696.5 L860.6,696.5 L860.9,696.5 L861.2,696.5 L861.5,696.5 L861.9,696.5 L862.2,696.5 L862.5,696.5 L862.9,696.5 L863.2,696.5 L863.5,696.5 L863.8,696.5 L864.2,696.5 L864.5,696.5 L864.8,696.5 L865.1,696.5 L865.5,696.5 L865.8,696.5 L866.1,696.5 L866.5,696.5 L866.8,696.5 L867.1,696.5 L867.4,696.5 L867.8,696.4 L868.1,696.4 L868.4,696.4 L868.7,696.4 L869.1,696.4 L869.4,696.4 L869.7,696.4 L870.0,696.4 L870.4,696.4 L870.7,696.4 L871.0,696.4 L871.4,696.4 L871.7,696.4 L872.0,696.4 L872.3,696.4 L872.7,696.4 L873.0,696.4 L873.3,696.4 L873.6,696.4 L874.0,696.4 L874.3,696.4 L874.6,696.4 L875.0,696.4 L875.3,696.4 L875.6,696.4 L875.9,696.4 L876.3,696.4 L876.6,696.4 L876.9,696.4 L877.2,696.4 L877.6,696.4 L877.9,696.4 L878.2,696.3 L878.5,696.3 L878.9,696.2 L879.2,696.2 L879.5,696.1 L879.9,696.1 L880.2,696.0 L880.5,696.0 L880.8,695.9 L881.2,695.9 L881.5,695.8 L881.8,695.7 L882.1,695.6 L882.5,695.5 L882.8,695.4 L883.1,695.2 L883.5,695.1 L883.8,694.9 L884.1,694.7 L884.4,694.4 L884.8,694.2 L885.1,693.9 L885.4,693.5 L885.7,693.2 L886.1,692.8 L886.4,692.5 L886.7,692.1 L887.1,691.7 L887.4,691.3 L887.7,690.9 L888.0,690.4 L888.4,689.8 L888.7,689.2 L889.0,688.6 L889.3,688.0 L889.7,687.4 L890.0,686.8 L890.3,686.2 L890.6,685.7 L891.0,685.2 L891.3,684.7 L891.6,684.2 L892.0,683.8 L892.3,683.3 L892.6,683.0 L892.9,682.6 L893.3,682.3 L893.6,682.0 L893.9,681.6 L894.2,681.4 L894.6,681.2 L894.9,681.0 L895.2,680.9 L895.6,680.8 L895.9,680.7 L896.2,680.6 L896.5,680.6 L896.9,680.7 L897.2,680.8 L897.5,680.9 L897.8,681.1 L898.2,681.6 L898.5,681.9 L898.8,682.2 L899.2,682.6 L899.5,683.0 L899.8,683.5 L900.1,684.0 L900.5,684.5 L900.8,685.0 L901.1,685.4 L901.4,685.8 L901.8,686.3 L902.1,686.7 L902.4,687.2 L902.7,687.7 L903.1,688.1 L903.4,688.6 L903.7,689.0 L904.1,689.3 L904.4,689.7 L904.7,690.0 L905.0,690.2 L905.4,690.5 L905.7,690.7 L906.0,691.0 L906.3,691.2 L906.7,691.4 L907.0,691.6 L907.3,691.8 L907.7,691.9 L908.0,692.0 L908.3,692.1 L908.6,692.2 L909.0,692.3 L909.3,692.4 L909.6,692.5 L909.9,692.6 L910.3,692.7 L910.6,692.8 L910.9,692.9 L911.2,692.9 L911.6,693.0 L911.9,693.1 L912.2,693.2 L912.6,693.2 L912.9,693.3 L913.2,693.4 L913.5,693.4 L913.9,693.5 L914.2,693.6 L914.5,693.6 L914.8,693.7 L915.2,693.8 L915.5,693.8 L915.8,693.9 L916.2,693.9 L916.5,693.9 L916.8,694.0 L917.1,694.0 L917.5,694.0 L917.8,694.0 L918.1,694.0 L918.4,694.0 L918.8,694.0 L919.1,694.0 L919.4,694.0 L919.8,694.0 L920.1,694.0 L920.4,693.9 L920.7,693.9 L921.1,693.9 L921.4,693.8 L921.7,693.8 L922.0,693.7 L922.4,693.7 L922.7,693.7 L923.0,693.6 L923.3,693.6 L923.7,693.5 L924.0,693.5 L924.3,693.4 L924.7,693.4 L925.0,693.3 L925.3,693.3 L925.6,693.2 L926.0,693.1 L926.3,693.0 L926.6,693.0 L926.9,692.9 L927.3,692.8 L927.6,692.7 L927.9,692.6 L928.3,692.5 L928.6,692.4 L928.9,692.3 L929.2,692.1 L929.6,692.0 L929.9,691.9 L930.2,691.7 L930.5,691.6 L930.9,691.5 L931.2,691.3 L931.5,691.2 L931.9,691.1 L932.2,690.9 L932.5,690.8 L932.8,690.6 L933.2,690.5 L933.5,690.3 L933.8,690.2 L934.1,690.0 L934.8,689.8 L935.4,689.6 L936.1,689.4 L936.8,689.2 L937.4,688.9 L938.1,688.7 L938.7,688.5 L939.4,688.3 L940.0,688.1 L940.7,687.9 L941.3,687.7 L942.0,687.5 L942.6,687.3 L943.3,687.1 L944.0,686.9 L944.6,686.7 L945.3,686.6 L945.9,686.4 L946.6,686.3 L947.2,686.1 L947.9,686.0 L948.5,685.9 L949.2,685.8 L949.8,685.6 L950.5,685.5 L951.1,685.5 L951.8,685.4 L952.5,685.3 L953.1,685.2 L953.8,685.1 L954.4,685.0 L955.1,685.0 L955.7,684.9 L956.4,684.9 L957.0,684.8 L957.7,684.8 L958.3,684.8 L959.0,684.7 L959.6,684.7 L960.3,684.7 L961.0,684.6 L961.6,684.6 L962.3,684.6 L962.9,684.5 L963.6,684.5 L964.2,684.5 L964.9,684.5 L965.5,684.4 L966.2,684.4 L966.8,684.4 L967.5,684.4 L968.1,684.4 L968.8,684.4 L969.5,684.4 L970.1,684.4 L970.8,684.4 L971.4,684.4 L972.1,684.4 L972.7,684.4 L973.4,684.4 L974.0,684.4 L974.7,684.4 L975.3,684.4 L976.0,684.5 L976.6,684.5 L977.3,684.6 L978.0,684.6 L978.6,684.7 L979.3,684.7 L979.9,684.8 L980.6,684.9 L981.2,684.9 L981.9,685.0 L982.5,685.1 L983.2,685.2 L983.8,685.2 L984.5,685.3 L985.2,685.4 L985.8,685.5 L986.5,685.6 L987.1,685.7 L987.8,685.8 L988.4,685.9 L989.1,686.0 L989.7,686.1 L990.4,686.2 L991.0,686.3 L991.7,686.4 L992.3,686.5 L993.0,686.6 L993.7,686.7 L994.3,686.8 L995.0,686.9 L995.6,687.0 L996.3,687.1 L996.9,687.2 L997.6,687.3 L998.2,687.4 L998.9,687.5 L999.5,687.6 L1000.2,687.7 L1000.8,687.8 L1001.5,688.0 L1002.2,688.1 L1002.8,688.2 L1003.5,688.3 L1004.1,688.4 L1004.8,688.5 L1005.4,688.6 L1006.1,688.7 L1006.7,688.8 L1007.4,688.9 L1008.0,689.0 L1008.7,689.1 L1009.4,689.2 L1010.0,689.3 L1010.7,689.5 L1011.3,689.6 L1012.0,689.7 L1012.6,689.8 L1013.3,689.9 L1013.9,690.0 L1014.6,690.1 L1015.2,690.2 L1015.9,690.3 L1016.5,690.4 L1017.2,690.5 L1017.9,690.6 L1018.5,690.7 L1019.2,690.8 L1019.8,690.9 L1020.5,691.0 L1021.1,691.1 L1021.8,691.2 L1022.4,691.3 L1023.1,691.3 L1023.7,691.4 L1024.4,691.5 L1025.0,691.6 L1025.7,691.7 L1026.4,691.8 L1027.0,691.9 L1027.7,692.0 L1028.3,692.1 L1029.0,692.2 L1029.6,692.2 L1030.3,692.3 L1030.9,692.4 L1031.6,692.5 L1032.2,692.6 L1032.9,692.6 L1033.5,692.7 L1034.2,692.8 L1034.9,692.9 L1035.5,693.0 L1036.2,693.0 L1036.8,693.1 L1037.5,693.2 L1038.1,693.2 L1038.8,693.3 L1039.4,693.4 L1040.1,693.5 L1040.7,693.5 L1041.4,693.6 L1042.0,693.7 L1042.7,693.7 L1043.4,693.8 L1044.0,693.8 L1044.7,693.9 L1045.3,694.0 L1046.0,694.0 L1046.6,694.1 L1047.3,694.1 L1047.9,694.2 L1048.6,694.2 L1049.2,694.3 L1049.9,694.3 L1050.6,694.4 L1051.2,694.4 L1051.9,694.5 L1052.5,694.5 L1053.2,694.6 L1053.8,694.6 L1054.5,694.7 L1055.1,694.7 L1055.8,694.7 L1056.4,694.8 L1057.1,694.8 L1057.7,694.9 L1058.4,694.9 L1059.1,694.9 L1059.7,695.0 L1060.4,695.0 L1061.0,695.0 L1061.7,695.1 L1062.3,695.1 L1063.0,695.1 L1063.6,695.2 L1064.3,695.2 L1064.9,695.2 L1065.6,695.2 L1066.2,695.3 L1066.9,695.3 L1067.6,695.3 L1068.2,695.3 L1068.9,695.4 L1069.5,695.4 L1070.2,695.4 L1070.8,695.4 L1071.5,695.4 L1072.1,695.5 L1072.8,695.5 L1073.4,695.5 L1074.1,695.5 L1074.8,695.6 L1075.4,695.6 L1076.1,695.6 L1076.7,695.6 L1077.4,695.7 L1078.0,695.7 L1078.7,695.7 L1079.3,695.7 L1080.0,695.7 L1080.6,695.8 L1081.3,695.8 L1081.9,695.8 L1082.6,695.8 L1083.3,695.8 L1083.9,695.8 L1084.6,695.8 L1085.2,695.9 L1085.9,695.9 L1086.5,695.9 L1087.2,695.9 L1087.8,695.9 L1088.5,695.9 L1089.1,695.9 L1089.8,696.0 L1090.4,696.0 L1091.1,696.0 L1091.8,696.0 L1092.4,696.0 L1093.1,696.0 L1093.7,696.0 L1094.4,696.1 L1095.0,696.1 L1095.7,696.1 L1096.3,696.1 L1097.0,696.1 L1097.6,696.1 L1098.3,696.1 L1098.9,696.1 L1099.6,696.2 L1100.3,696.2 L1100.9,696.2 L1101.6,696.2 L1102.2,696.2 L1102.9,696.2 L1103.5,696.2 L1104.2,696.2 L1104.8,696.2 L1105.5,696.3 L1106.1,696.3 L1106.8,696.3 L1107.5,696.3 L1108.1,696.3 L1108.8,696.3 L1109.4,696.3 L1110.1,696.3 L1110.7,696.3 L1111.4,696.3 L1112.0,696.3" fill="none" stroke="#3284d8" stroke-width="2.6" stroke-linejoin="round"/>
<path d="M853.7,696.5 L854.0,696.5 L854.4,696.5 L854.7,696.5 L855.0,696.5 L855.3,696.5 L855.7,696.5 L856.0,696.5 L856.3,696.5 L856.6,696.5 L857.0,696.5 L857.3,696.5 L857.6,696.5 L857.9,696.5 L858.3,696.5 L858.6,696.5 L858.9,696.5 L859.3,696.5 L859.6,696.5 L859.9,696.5 L860.2,696.5 L860.6,696.5 L860.9,696.5 L861.2,696.5 L861.5,696.5 L861.9,696.5 L862.2,696.5 L862.5,696.5 L862.9,696.5 L863.2,696.5 L863.5,696.5 L863.8,696.5 L864.2,696.5 L864.5,696.5 L864.8,696.5 L865.1,696.5 L865.5,696.5 L865.8,696.5 L866.1,696.5 L866.5,696.5 L866.8,696.5 L867.1,696.5 L867.4,696.5 L867.8,696.5 L868.1,696.5 L868.4,696.5 L868.7,696.5 L869.1,696.5 L869.4,696.5 L869.7,696.5 L870.0,696.5 L870.4,696.5 L870.7,696.5 L871.0,696.5 L871.4,696.5 L871.7,696.5 L872.0,696.5 L872.3,696.5 L872.7,696.5 L873.0,696.5 L873.3,696.5 L873.6,696.5 L874.0,696.5 L874.3,696.5 L874.6,696.5 L875.0,696.5 L875.3,696.5 L875.6,696.5 L875.9,696.5 L876.3,696.5 L876.6,696.5 L876.9,696.5 L877.2,696.5 L877.6,696.4 L877.9,696.4 L878.2,696.4 L878.5,696.4 L878.9,696.4 L879.2,696.4 L879.5,696.3 L879.9,696.3 L880.2,696.3 L880.5,696.3 L880.8,696.3 L881.2,696.2 L881.5,696.2 L881.8,696.2 L882.1,696.1 L882.5,696.1 L882.8,696.0 L883.1,696.0 L883.5,695.9 L883.8,695.8 L884.1,695.7 L884.4,695.6 L884.8,695.5 L885.1,695.4 L885.4,695.3 L885.7,695.1 L886.1,695.0 L886.4,694.9 L886.7,694.7 L887.1,694.6 L887.4,694.4 L887.7,694.2 L888.0,694.0 L888.4,693.8 L888.7,693.6 L889.0,693.4 L889.3,693.1 L889.7,692.9 L890.0,692.7 L890.3,692.5 L890.6,692.3 L891.0,692.1 L891.3,692.0 L891.6,691.8 L892.0,691.6 L892.3,691.5 L892.6,691.4 L892.9,691.2 L893.3,691.1 L893.6,691.0 L893.9,690.9 L894.2,690.8 L894.6,690.8 L894.9,690.7 L895.2,690.7 L895.6,690.6 L895.9,690.6 L896.2,690.6 L896.5,690.7 L896.9,690.7 L897.2,690.7 L897.5,690.8 L897.8,691.0 L898.2,691.1 L898.5,691.2 L898.8,691.4 L899.2,691.5 L899.5,691.7 L899.8,691.9 L900.1,692.1 L900.5,692.2 L900.8,692.4 L901.1,692.5 L901.4,692.7 L901.8,692.9 L902.1,693.1 L902.4,693.2 L902.7,693.4 L903.1,693.6 L903.4,693.7 L903.7,693.9 L904.1,694.0 L904.4,694.1 L904.7,694.2 L905.0,694.3 L905.4,694.4 L905.7,694.5 L906.0,694.5 L906.3,694.6 L906.7,694.7 L907.0,694.8 L907.3,694.8 L907.7,694.8 L908.0,694.9 L908.3,694.9 L908.6,695.0 L909.0,695.0 L909.3,695.0 L909.6,695.1 L909.9,695.1 L910.3,695.1 L910.6,695.2 L910.9,695.2 L911.2,695.2 L911.6,695.2 L911.9,695.3 L912.2,695.3 L912.6,695.3 L912.9,695.3 L913.2,695.4 L913.5,695.4 L913.9,695.4 L914.2,695.5 L914.5,695.5 L914.8,695.5 L915.2,695.5 L915.5,695.5 L915.8,695.5 L916.2,695.6 L916.5,695.6 L916.8,695.6 L917.1,695.6 L917.5,695.6 L917.8,695.6 L918.1,695.6 L918.4,695.6 L918.8,695.6 L919.1,695.6 L919.4,695.6 L919.8,695.6 L920.1,695.6 L920.4,695.6 L920.7,695.5 L921.1,695.5 L921.4,695.5 L921.7,695.5 L922.0,695.5 L922.4,695.5 L922.7,695.4 L923.0,695.4 L923.3,695.4 L923.7,695.4 L924.0,695.4 L924.3,695.4 L924.7,695.3 L925.0,695.3 L925.3,695.3 L925.6,695.3 L926.0,695.3 L926.3,695.2 L926.6,695.2 L926.9,695.2 L927.3,695.1 L927.6,695.1 L927.9,695.1 L928.3,695.0 L928.6,695.0 L928.9,694.9 L929.2,694.9 L929.6,694.8 L929.9,694.8 L930.2,694.7 L930.5,694.7 L930.9,694.6 L931.2,694.6 L931.5,694.5 L931.9,694.5 L932.2,694.4 L932.5,694.4 L932.8,694.3 L933.2,694.3 L933.5,694.2 L933.8,694.2 L934.1,694.1 L934.8,694.0 L935.4,693.9 L936.1,693.9 L936.8,693.8 L937.4,693.7 L938.1,693.6 L938.7,693.5 L939.4,693.5 L940.0,693.4 L940.7,693.3 L941.3,693.2 L942.0,693.2 L942.6,693.1 L943.3,693.0 L944.0,692.9 L944.6,692.9 L945.3,692.8 L945.9,692.8 L946.6,692.7 L947.2,692.7 L947.9,692.6 L948.5,692.6 L949.2,692.5 L949.8,692.5 L950.5,692.4 L951.1,692.4 L951.8,692.4 L952.5,692.3 L953.1,692.3 L953.8,692.3 L954.4,692.3 L955.1,692.2 L955.7,692.2 L956.4,692.2 L957.0,692.2 L957.7,692.2 L958.3,692.2 L959.0,692.1 L959.6,692.1 L960.3,692.1 L961.0,692.1 L961.6,692.1 L962.3,692.1 L962.9,692.1 L963.6,692.1 L964.2,692.0 L964.9,692.0 L965.5,692.0 L966.2,692.0 L966.8,692.0 L967.5,692.0 L968.1,692.0 L968.8,692.0 L969.5,692.0 L970.1,692.0 L970.8,692.0 L971.4,692.0 L972.1,692.0 L972.7,692.0 L973.4,692.0 L974.0,692.0 L974.7,692.0 L975.3,692.0 L976.0,692.0 L976.6,692.1 L977.3,692.1 L978.0,692.1 L978.6,692.1 L979.3,692.1 L979.9,692.2 L980.6,692.2 L981.2,692.2 L981.9,692.2 L982.5,692.3 L983.2,692.3 L983.8,692.3 L984.5,692.4 L985.2,692.4 L985.8,692.4 L986.5,692.5 L987.1,692.5 L987.8,692.5 L988.4,692.6 L989.1,692.6 L989.7,692.6 L990.4,692.7 L991.0,692.7 L991.7,692.8 L992.3,692.8 L993.0,692.8 L993.7,692.9 L994.3,692.9 L995.0,692.9 L995.6,693.0 L996.3,693.0 L996.9,693.1 L997.6,693.1 L998.2,693.1 L998.9,693.2 L999.5,693.2 L1000.2,693.3 L1000.8,693.3 L1001.5,693.3 L1002.2,693.4 L1002.8,693.4 L1003.5,693.5 L1004.1,693.5 L1004.8,693.5 L1005.4,693.6 L1006.1,693.6 L1006.7,693.7 L1007.4,693.7 L1008.0,693.7 L1008.7,693.8 L1009.4,693.8 L1010.0,693.9 L1010.7,693.9 L1011.3,693.9 L1012.0,694.0 L1012.6,694.0 L1013.3,694.0 L1013.9,694.1 L1014.6,694.1 L1015.2,694.2 L1015.9,694.2 L1016.5,694.2 L1017.2,694.3 L1017.9,694.3 L1018.5,694.3 L1019.2,694.4 L1019.8,694.4 L1020.5,694.4 L1021.1,694.5 L1021.8,694.5 L1022.4,694.6 L1023.1,694.6 L1023.7,694.6 L1024.4,694.7 L1025.0,694.7 L1025.7,694.7 L1026.4,694.8 L1027.0,694.8 L1027.7,694.8 L1028.3,694.9 L1029.0,694.9 L1029.6,694.9 L1030.3,695.0 L1030.9,695.0 L1031.6,695.0 L1032.2,695.0 L1032.9,695.1 L1033.5,695.1 L1034.2,695.1 L1034.9,695.2 L1035.5,695.2 L1036.2,695.2 L1036.8,695.2 L1037.5,695.3 L1038.1,695.3 L1038.8,695.3 L1039.4,695.3 L1040.1,695.4 L1040.7,695.4 L1041.4,695.4 L1042.0,695.4 L1042.7,695.5 L1043.4,695.5 L1044.0,695.5 L1044.7,695.5 L1045.3,695.6 L1046.0,695.6 L1046.6,695.6 L1047.3,695.6 L1047.9,695.6 L1048.6,695.7 L1049.2,695.7 L1049.9,695.7 L1050.6,695.7 L1051.2,695.7 L1051.9,695.7 L1052.5,695.8 L1053.2,695.8 L1053.8,695.8 L1054.5,695.8 L1055.1,695.8 L1055.8,695.8 L1056.4,695.9 L1057.1,695.9 L1057.7,695.9 L1058.4,695.9 L1059.1,695.9 L1059.7,695.9 L1060.4,695.9 L1061.0,696.0 L1061.7,696.0 L1062.3,696.0 L1063.0,696.0 L1063.6,696.0 L1064.3,696.0 L1064.9,696.0 L1065.6,696.0 L1066.2,696.0 L1066.9,696.0 L1067.6,696.1 L1068.2,696.1 L1068.9,696.1 L1069.5,696.1 L1070.2,696.1 L1070.8,696.1 L1071.5,696.1 L1072.1,696.1 L1072.8,696.1 L1073.4,696.1 L1074.1,696.1 L1074.8,696.2 L1075.4,696.2 L1076.1,696.2 L1076.7,696.2 L1077.4,696.2 L1078.0,696.2 L1078.7,696.2 L1079.3,696.2 L1080.0,696.2 L1080.6,696.2 L1081.3,696.2 L1081.9,696.2 L1082.6,696.2 L1083.3,696.2 L1083.9,696.2 L1084.6,696.3 L1085.2,696.3 L1085.9,696.3 L1086.5,696.3 L1087.2,696.3 L1087.8,696.3 L1088.5,696.3 L1089.1,696.3 L1089.8,696.3 L1090.4,696.3 L1091.1,696.3 L1091.8,696.3 L1092.4,696.3 L1093.1,696.3 L1093.7,696.3 L1094.4,696.3 L1095.0,696.3 L1095.7,696.3 L1096.3,696.3 L1097.0,696.4 L1097.6,696.4 L1098.3,696.4 L1098.9,696.4 L1099.6,696.4 L1100.3,696.4 L1100.9,696.4 L1101.6,696.4 L1102.2,696.4 L1102.9,696.4 L1103.5,696.4 L1104.2,696.4 L1104.8,696.4 L1105.5,696.4 L1106.1,696.4 L1106.8,696.4 L1107.5,696.4 L1108.1,696.4 L1108.8,696.4 L1109.4,696.4 L1110.1,696.4 L1110.7,696.4 L1111.4,696.4 L1112.0,696.4" fill="none" stroke="#3284d8" stroke-width="2.6" stroke-linejoin="round"/>
<rect x="829.5" y="588.2" width="327.0" height="108.3" fill="none" stroke="#2b2b2b" stroke-width="2.3"/>
<line x1="862.2" y1="696.5" x2="862.2" y2="688.5" stroke="#2b2b2b" stroke-width="2.30" />
<line x1="862.2" y1="588.2" x2="862.2" y2="596.2" stroke="#2b2b2b" stroke-width="2.30" />
<line x1="894.9" y1="696.5" x2="894.9" y2="680.5" stroke="#2b2b2b" stroke-width="2.30" />
<line x1="894.9" y1="588.2" x2="894.9" y2="604.2" stroke="#2b2b2b" stroke-width="2.30" />
<line x1="927.6" y1="696.5" x2="927.6" y2="688.5" stroke="#2b2b2b" stroke-width="2.30" />
<line x1="927.6" y1="588.2" x2="927.6" y2="596.2" stroke="#2b2b2b" stroke-width="2.30" />
<line x1="960.3" y1="696.5" x2="960.3" y2="680.5" stroke="#2b2b2b" stroke-width="2.30" />
<line x1="960.3" y1="588.2" x2="960.3" y2="604.2" stroke="#2b2b2b" stroke-width="2.30" />
<line x1="993.0" y1="696.5" x2="993.0" y2="688.5" stroke="#2b2b2b" stroke-width="2.30" />
<line x1="993.0" y1="588.2" x2="993.0" y2="596.2" stroke="#2b2b2b" stroke-width="2.30" />
<line x1="1025.7" y1="696.5" x2="1025.7" y2="680.5" stroke="#2b2b2b" stroke-width="2.30" />
<line x1="1025.7" y1="588.2" x2="1025.7" y2="604.2" stroke="#2b2b2b" stroke-width="2.30" />
<line x1="1058.4" y1="696.5" x2="1058.4" y2="688.5" stroke="#2b2b2b" stroke-width="2.30" />
<line x1="1058.4" y1="588.2" x2="1058.4" y2="596.2" stroke="#2b2b2b" stroke-width="2.30" />
<line x1="1091.1" y1="696.5" x2="1091.1" y2="680.5" stroke="#2b2b2b" stroke-width="2.30" />
<line x1="1091.1" y1="588.2" x2="1091.1" y2="604.2" stroke="#2b2b2b" stroke-width="2.30" />
<line x1="1123.8" y1="696.5" x2="1123.8" y2="688.5" stroke="#2b2b2b" stroke-width="2.30" />
<line x1="1123.8" y1="588.2" x2="1123.8" y2="596.2" stroke="#2b2b2b" stroke-width="2.30" />
<line x1="829.5" y1="615.0" x2="845.5" y2="615.0" stroke="#2b2b2b" stroke-width="2.30" />
<line x1="1156.5" y1="615.0" x2="1140.5" y2="615.0" stroke="#2b2b2b" stroke-width="2.30" />
<line x1="829.5" y1="642.3" x2="845.5" y2="642.3" stroke="#2b2b2b" stroke-width="2.30" />
<line x1="1156.5" y1="642.3" x2="1140.5" y2="642.3" stroke="#2b2b2b" stroke-width="2.30" />
<line x1="829.5" y1="669.5" x2="845.5" y2="669.5" stroke="#2b2b2b" stroke-width="2.30" />
<line x1="1156.5" y1="669.5" x2="1140.5" y2="669.5" stroke="#2b2b2b" stroke-width="2.30" />
<line x1="829.5" y1="601.2" x2="837.5" y2="601.2" stroke="#2b2b2b" stroke-width="2.30" />
<line x1="1156.5" y1="601.2" x2="1148.5" y2="601.2" stroke="#2b2b2b" stroke-width="2.30" />
<line x1="829.5" y1="628.6" x2="837.5" y2="628.6" stroke="#2b2b2b" stroke-width="2.30" />
<line x1="1156.5" y1="628.6" x2="1148.5" y2="628.6" stroke="#2b2b2b" stroke-width="2.30" />
<line x1="829.5" y1="655.6" x2="837.5" y2="655.6" stroke="#2b2b2b" stroke-width="2.30" />
<line x1="1156.5" y1="655.6" x2="1148.5" y2="655.6" stroke="#2b2b2b" stroke-width="2.30" />
<line x1="829.5" y1="683.2" x2="837.5" y2="683.2" stroke="#2b2b2b" stroke-width="2.30" />
<line x1="1156.5" y1="683.2" x2="1148.5" y2="683.2" stroke="#2b2b2b" stroke-width="2.30" />
<path d="M866.8,817.1 L867.4,817.1 L868.1,817.0 L868.7,817.0 L869.4,817.0 L870.0,816.9 L870.7,816.9 L871.4,816.8 L872.0,816.8 L872.7,816.7 L873.3,816.7 L874.0,816.6 L874.6,816.6 L875.3,816.5 L875.9,816.4 L876.6,816.3 L877.2,816.2 L877.9,816.2 L878.5,816.0 L879.2,815.9 L879.9,815.8 L880.5,815.7 L881.2,815.5 L881.8,815.4 L882.5,815.2 L883.1,814.9 L883.8,814.5 L884.4,814.0 L885.1,813.1 L885.7,812.1 L886.4,810.8 L887.1,809.4 L887.7,807.8 L888.4,805.8 L889.0,802.9 L889.7,799.4 L890.3,795.6 L891.0,792.0 L891.6,788.6 L892.3,784.8 L892.9,781.2 L893.6,778.0 L894.2,775.5 L894.9,773.2 L895.6,772.2 L896.2,772.0 L896.9,772.5 L897.5,774.1 L898.2,776.6 L898.8,780.0 L899.5,784.0 L900.1,788.2 L900.8,791.3 L901.4,794.8 L902.1,798.2 L902.7,801.4 L903.4,804.1 L904.1,805.8 L904.7,807.2 L905.4,808.3 L906.0,809.3 L906.7,810.1 L907.3,810.9 L908.0,811.4 L908.6,811.8 L909.3,812.2 L909.9,812.5 L910.6,812.8 L911.2,813.0 L911.9,813.3 L912.6,813.5 L913.2,813.7 L913.9,813.8 L914.5,813.9 L915.2,813.9 L915.8,814.0 L916.5,814.0 L917.1,814.1 L917.8,814.1 L918.4,814.2 L919.1,814.2 L919.8,814.2 L920.4,814.3 L921.1,814.3 L921.7,814.2 L922.4,814.2 L923.0,814.1 L923.7,814.1 L924.3,814.0 L925.0,813.9 L925.6,813.8 L926.3,813.7 L926.9,813.5 L927.6,813.3 L928.3,813.1 L928.9,812.9 L929.6,812.7 L930.2,812.4 L930.9,812.1 L931.5,811.8 L932.2,811.5 L932.8,811.1 L933.5,810.8 L934.1,810.4 L934.8,810.0 L935.4,809.6 L936.1,809.2 L936.8,808.8 L937.4,808.3 L938.1,807.9 L938.7,807.4 L939.4,806.9 L940.0,806.4 L940.7,805.8 L941.3,805.3 L942.0,804.7 L942.6,804.1 L943.3,803.7 L944.0,803.2 L944.6,802.8 L945.3,802.3 L945.9,801.8 L946.6,801.3 L947.2,800.8 L947.9,800.2 L948.5,799.7 L949.2,799.1 L949.8,798.6 L950.5,798.0 L951.1,797.5 L951.8,796.9 L952.5,796.3 L953.1,795.7 L953.8,795.1 L954.4,794.5 L955.1,793.9 L955.7,793.3 L956.4,792.6 L957.0,792.0 L957.7,791.4 L958.3,790.7 L959.0,790.1 L959.6,789.4 L960.3,788.8 L961.0,788.2 L961.6,787.7 L962.3,787.1 L962.9,786.6 L963.6,786.1 L964.2,785.5 L964.9,785.0 L965.5,784.4 L966.2,783.8 L966.8,783.3 L967.5,782.7 L968.1,782.1 L968.8,781.6 L969.5,781.0 L970.1,780.4 L970.8,779.8 L971.4,779.2 L972.1,778.6 L972.7,778.0 L973.4,777.4 L974.0,776.8 L974.7,776.2 L975.3,775.6 L976.0,775.0 L976.6,774.4 L977.3,773.8 L978.0,773.1 L978.6,772.5 L979.3,771.9 L979.9,771.3 L980.6,770.7 L981.2,770.1 L981.9,769.4 L982.5,768.8 L983.2,768.2 L983.8,767.6 L984.5,766.9 L985.2,766.3 L985.8,765.7 L986.5,765.0 L987.1,764.3 L987.8,763.7 L988.4,763.0 L989.1,762.4 L989.7,761.7 L990.4,761.0 L991.0,760.3 L991.7,759.6 L992.3,759.0 L993.0,758.3 L993.7,757.6 L994.3,756.9 L995.0,756.2 L995.6,755.6 L996.3,754.9 L996.9,754.2 L997.6,753.5 L998.2,752.9 L998.9,752.2 L999.5,751.5 L1000.2,750.9 L1000.8,750.2 L1001.5,749.6 L1002.2,748.9 L1002.8,748.3 L1003.5,747.7 L1004.1,747.1 L1004.8,746.5 L1005.4,745.8 L1006.1,745.3 L1006.7,744.7 L1007.4,744.1 L1008.0,743.5 L1008.7,742.9 L1009.4,742.3 L1010.0,741.7 L1010.7,741.1 L1011.3,740.5 L1012.0,739.9 L1012.6,739.3 L1013.3,738.7 L1013.9,738.2 L1014.6,737.6 L1015.2,737.0 L1015.9,736.4 L1016.5,735.9 L1017.2,735.3 L1017.9,734.8 L1018.5,734.2 L1019.2,733.7 L1019.8,733.2 L1020.5,732.7 L1021.1,732.1 L1021.8,731.7 L1022.4,731.2 L1023.1,730.7 L1023.7,730.2 L1024.4,729.8 L1025.0,729.4 L1025.7,728.9 L1026.4,728.5 L1027.0,728.1 L1027.7,727.8 L1028.3,727.4 L1029.0,726.9 L1029.6,726.3 L1030.3,725.8 L1030.9,725.3 L1031.6,724.8 L1032.2,724.4 L1032.9,723.9 L1033.5,723.6 L1034.2,723.2 L1034.9,722.9 L1035.5,722.6 L1036.2,722.3 L1036.8,722.1 L1037.5,721.9 L1038.1,721.8 L1038.8,721.6 L1039.4,721.6 L1040.1,721.5 L1040.7,721.5 L1041.4,721.6 L1042.0,721.6 L1042.7,721.7 L1043.4,721.8 L1044.0,721.9 L1044.7,722.0 L1045.3,722.2 L1046.0,722.4 L1046.6,722.6 L1047.3,722.9 L1047.9,723.2 L1048.6,723.5 L1049.2,723.8 L1049.9,724.2 L1050.6,724.6 L1051.2,725.1 L1051.9,725.6 L1052.5,726.1 L1053.2,726.7 L1053.8,727.4 L1054.5,728.0 L1055.1,728.8 L1055.8,729.6 L1056.4,730.2 L1057.1,730.9 L1057.7,731.7 L1058.4,732.4 L1059.1,733.3 L1059.7,734.1 L1060.4,735.0 L1061.0,735.9 L1061.7,736.9 L1062.3,737.8 L1063.0,738.8 L1063.6,739.8 L1064.3,740.9 L1064.9,741.9 L1065.6,743.0 L1066.2,744.0 L1066.9,745.1 L1067.6,746.2 L1068.2,747.3 L1068.9,748.4 L1069.5,749.5 L1070.2,750.6 L1070.8,751.7 L1071.5,752.8 L1072.1,753.8 L1072.8,754.9 L1073.4,755.9 L1074.1,756.9 L1074.8,758.0 L1075.4,759.0 L1076.1,760.1 L1076.7,761.2 L1077.4,762.3 L1078.0,763.4 L1078.7,764.5 L1079.3,765.7 L1080.0,766.8 L1080.6,767.9 L1081.3,769.1 L1081.9,770.2 L1082.6,771.3 L1083.3,772.5 L1083.9,773.6 L1084.6,774.7 L1085.2,775.8 L1085.9,776.9 L1086.5,777.9 L1087.2,779.0 L1087.8,780.0 L1088.5,781.1 L1089.1,782.1 L1089.8,783.0 L1090.4,784.0 L1091.1,784.9 L1091.8,785.8 L1092.4,786.6 L1093.1,787.5 L1093.7,788.3 L1094.4,789.1 L1095.0,789.9 L1095.7,790.7 L1096.3,791.5 L1097.0,792.2 L1097.6,792.9 L1098.3,793.7 L1098.9,794.4 L1099.6,795.1 L1100.3,795.7 L1100.9,796.4 L1101.6,797.0 L1102.2,797.7 L1102.9,798.3 L1103.5,798.9 L1104.2,799.5 L1104.8,800.1 L1105.5,800.6 L1106.1,801.2 L1106.8,801.7 L1107.5,802.2 L1108.1,802.7 L1108.8,803.3 L1109.4,803.7 L1110.1,804.2 L1110.7,804.6 L1111.4,805.0 L1112.0,805.4 L1112.7,805.8 L1113.3,806.1 L1114.0,806.4 L1114.6,806.8 L1115.3,807.1 L1116.0,807.4 L1116.6,807.6 L1117.3,807.9 L1117.9,808.2 L1118.6,808.4 L1119.2,808.7 L1119.9,808.9 L1120.5,809.2 L1121.2,809.4 L1121.8,809.6 L1122.5,809.8 L1123.1,810.0 L1123.8,810.2 L1124.5,810.4 L1125.1,810.6 L1125.8,810.8 L1126.4,811.0 L1127.1,811.1 L1127.7,811.3 L1128.4,811.5 L1129.0,811.7 L1129.7,811.9 L1130.3,812.1 L1131.0,812.2 L1131.6,812.3 L1132.3,812.5 L1133.0,812.6 L1133.6,812.7 L1134.3,812.9 L1134.9,813.0 L1135.6,813.1 L1136.2,813.2 L1136.9,813.3 L1137.5,813.5 L1138.2,813.6 L1138.8,813.7 L1139.5,813.8 L1140.2,813.9 L1140.8,814.0 L1141.5,814.1 L1142.1,814.2 L1142.8,814.2 L1143.4,814.3 L1144.1,814.4 L1144.7,814.5 L1145.4,814.6 L1146.0,814.7 L1146.7,814.7 L1147.3,814.8 L1148.0,814.9 L1148.7,814.9 L1149.3,815.0 L1150.0,815.1 L1150.6,815.1 L1151.3,815.2 L1151.9,815.2 L1152.6,815.3 L1153.2,815.4 L1153.9,815.4 L1154.5,815.5 L1155.2,815.5 L1155.8,815.6 L1156.5,815.6" fill="none" stroke="#f06a1c" stroke-width="2.6" stroke-linejoin="round"/>
<path d="M866.8,817.1 L867.4,817.1 L868.1,817.0 L868.7,817.0 L869.4,817.0 L870.0,817.0 L870.7,816.9 L871.4,816.9 L872.0,816.8 L872.7,816.8 L873.3,816.7 L874.0,816.7 L874.6,816.6 L875.3,816.6 L875.9,816.5 L876.6,816.4 L877.2,816.3 L877.9,816.3 L878.5,816.2 L879.2,816.0 L879.9,815.9 L880.5,815.8 L881.2,815.7 L881.8,815.5 L882.5,815.4 L883.1,815.1 L883.8,814.7 L884.4,814.3 L885.1,813.4 L885.7,812.5 L886.4,811.4 L887.1,810.0 L887.7,808.5 L888.4,806.7 L889.0,804.0 L889.7,800.7 L890.3,797.2 L891.0,793.8 L891.6,790.7 L892.3,787.2 L892.9,783.8 L893.6,780.8 L894.2,778.5 L894.9,776.4 L895.6,775.4 L896.2,775.3 L896.9,775.8 L897.5,777.2 L898.2,779.6 L898.8,782.7 L899.5,786.5 L900.1,790.3 L900.8,793.2 L901.4,796.4 L902.1,799.7 L902.7,802.6 L903.4,805.1 L904.1,806.7 L904.7,808.0 L905.4,809.0 L906.0,809.9 L906.7,810.7 L907.3,811.5 L908.0,811.9 L908.6,812.3 L909.3,812.6 L909.9,812.9 L910.6,813.2 L911.2,813.5 L911.9,813.7 L912.6,813.9 L913.2,814.1 L913.9,814.2 L914.5,814.2 L915.2,814.3 L915.8,814.4 L916.5,814.4 L917.1,814.5 L917.8,814.5 L918.4,814.5 L919.1,814.6 L919.8,814.6 L920.4,814.6 L921.1,814.6 L921.7,814.6 L922.4,814.6 L923.0,814.5 L923.7,814.5 L924.3,814.4 L925.0,814.3 L925.6,814.2 L926.3,814.1 L926.9,814.0 L927.6,813.8 L928.3,813.7 L928.9,813.5 L929.6,813.2 L930.2,813.0 L930.9,812.8 L931.5,812.5 L932.2,812.2 L932.8,811.9 L933.5,811.6 L934.1,811.3 L934.8,811.0 L935.4,810.6 L936.1,810.2 L936.8,809.9 L937.4,809.5 L938.1,809.1 L938.7,808.6 L939.4,808.2 L940.0,807.8 L940.7,807.3 L941.3,806.8 L942.0,806.3 L942.6,805.8 L943.3,805.4 L944.0,805.0 L944.6,804.6 L945.3,804.2 L945.9,803.8 L946.6,803.3 L947.2,802.9 L947.9,802.4 L948.5,802.0 L949.2,801.5 L949.8,801.0 L950.5,800.5 L951.1,800.0 L951.8,799.5 L952.5,799.0 L953.1,798.5 L953.8,798.0 L954.4,797.4 L955.1,796.9 L955.7,796.4 L956.4,795.8 L957.0,795.3 L957.7,794.7 L958.3,794.2 L959.0,793.6 L959.6,793.0 L960.3,792.5 L961.0,792.0 L961.6,791.5 L962.3,791.0 L962.9,790.6 L963.6,790.1 L964.2,789.6 L964.9,789.1 L965.5,788.7 L966.2,788.2 L966.8,787.7 L967.5,787.2 L968.1,786.7 L968.8,786.2 L969.5,785.7 L970.1,785.2 L970.8,784.6 L971.4,784.1 L972.1,783.6 L972.7,783.1 L973.4,782.6 L974.0,782.0 L974.7,781.5 L975.3,781.0 L976.0,780.5 L976.6,779.9 L977.3,779.4 L978.0,778.9 L978.6,778.3 L979.3,777.8 L979.9,777.3 L980.6,776.7 L981.2,776.2 L981.9,775.6 L982.5,775.1 L983.2,774.6 L983.8,774.0 L984.5,773.5 L985.2,772.9 L985.8,772.3 L986.5,771.8 L987.1,771.2 L987.8,770.6 L988.4,770.1 L989.1,769.5 L989.7,768.9 L990.4,768.3 L991.0,767.7 L991.7,767.1 L992.3,766.5 L993.0,765.9 L993.7,765.3 L994.3,764.7 L995.0,764.2 L995.6,763.6 L996.3,763.0 L996.9,762.4 L997.6,761.8 L998.2,761.2 L998.9,760.6 L999.5,760.1 L1000.2,759.5 L1000.8,758.9 L1001.5,758.4 L1002.2,757.8 L1002.8,757.3 L1003.5,756.7 L1004.1,756.2 L1004.8,755.6 L1005.4,755.1 L1006.1,754.6 L1006.7,754.1 L1007.4,753.6 L1008.0,753.1 L1008.7,752.5 L1009.4,752.0 L1010.0,751.5 L1010.7,751.0 L1011.3,750.5 L1012.0,749.9 L1012.6,749.4 L1013.3,748.9 L1013.9,748.4 L1014.6,747.9 L1015.2,747.4 L1015.9,746.9 L1016.5,746.4 L1017.2,746.0 L1017.9,745.5 L1018.5,745.0 L1019.2,744.5 L1019.8,744.1 L1020.5,743.6 L1021.1,743.2 L1021.8,742.8 L1022.4,742.3 L1023.1,741.9 L1023.7,741.5 L1024.4,741.1 L1025.0,740.8 L1025.7,740.4 L1026.4,740.0 L1027.0,739.7 L1027.7,739.4 L1028.3,739.1 L1029.0,738.6 L1029.6,738.1 L1030.3,737.7 L1030.9,737.2 L1031.6,736.8 L1032.2,736.4 L1032.9,736.1 L1033.5,735.7 L1034.2,735.4 L1034.9,735.1 L1035.5,734.9 L1036.2,734.7 L1036.8,734.5 L1037.5,734.3 L1038.1,734.2 L1038.8,734.1 L1039.4,734.0 L1040.1,734.0 L1040.7,733.9 L1041.4,734.0 L1042.0,734.0 L1042.7,734.1 L1043.4,734.2 L1044.0,734.3 L1044.7,734.4 L1045.3,734.5 L1046.0,734.7 L1046.6,734.9 L1047.3,735.1 L1047.9,735.4 L1048.6,735.6 L1049.2,736.0 L1049.9,736.3 L1050.6,736.7 L1051.2,737.1 L1051.9,737.5 L1052.5,738.0 L1053.2,738.5 L1053.8,739.0 L1054.5,739.6 L1055.1,740.3 L1055.8,740.9 L1056.4,741.5 L1057.1,742.1 L1057.7,742.8 L1058.4,743.4 L1059.1,744.2 L1059.7,744.9 L1060.4,745.7 L1061.0,746.5 L1061.7,747.3 L1062.3,748.1 L1063.0,749.0 L1063.6,749.9 L1064.3,750.8 L1064.9,751.7 L1065.6,752.6 L1066.2,753.5 L1066.9,754.5 L1067.6,755.4 L1068.2,756.4 L1068.9,757.3 L1069.5,758.3 L1070.2,759.2 L1070.8,760.2 L1071.5,761.1 L1072.1,762.1 L1072.8,763.0 L1073.4,763.9 L1074.1,764.8 L1074.8,765.7 L1075.4,766.6 L1076.1,767.5 L1076.7,768.5 L1077.4,769.4 L1078.0,770.4 L1078.7,771.4 L1079.3,772.3 L1080.0,773.3 L1080.6,774.3 L1081.3,775.3 L1081.9,776.3 L1082.6,777.3 L1083.3,778.3 L1083.9,779.2 L1084.6,780.2 L1085.2,781.2 L1085.9,782.1 L1086.5,783.0 L1087.2,784.0 L1087.8,784.9 L1088.5,785.7 L1089.1,786.6 L1089.8,787.5 L1090.4,788.3 L1091.1,789.1 L1091.8,789.9 L1092.4,790.6 L1093.1,791.3 L1093.7,792.1 L1094.4,792.8 L1095.0,793.5 L1095.7,794.1 L1096.3,794.8 L1097.0,795.4 L1097.6,796.1 L1098.3,796.7 L1098.9,797.3 L1099.6,797.9 L1100.3,798.5 L1100.9,799.1 L1101.6,799.6 L1102.2,800.2 L1102.9,800.7 L1103.5,801.3 L1104.2,801.8 L1104.8,802.3 L1105.5,802.8 L1106.1,803.2 L1106.8,803.7 L1107.5,804.2 L1108.1,804.6 L1108.8,805.1 L1109.4,805.5 L1110.1,805.9 L1110.7,806.2 L1111.4,806.6 L1112.0,806.9 L1112.7,807.2 L1113.3,807.5 L1114.0,807.8 L1114.6,808.1 L1115.3,808.4 L1116.0,808.6 L1116.6,808.9 L1117.3,809.1 L1117.9,809.3 L1118.6,809.6 L1119.2,809.8 L1119.9,810.0 L1120.5,810.2 L1121.2,810.4 L1121.8,810.6 L1122.5,810.8 L1123.1,810.9 L1123.8,811.1 L1124.5,811.3 L1125.1,811.4 L1125.8,811.6 L1126.4,811.8 L1127.1,811.9 L1127.7,812.1 L1128.4,812.2 L1129.0,812.4 L1129.7,812.6 L1130.3,812.7 L1131.0,812.8 L1131.6,813.0 L1132.3,813.1 L1133.0,813.2 L1133.6,813.3 L1134.3,813.4 L1134.9,813.5 L1135.6,813.6 L1136.2,813.7 L1136.9,813.8 L1137.5,813.9 L1138.2,814.0 L1138.8,814.1 L1139.5,814.2 L1140.2,814.3 L1140.8,814.4 L1141.5,814.5 L1142.1,814.5 L1142.8,814.6 L1143.4,814.7 L1144.1,814.8 L1144.7,814.8 L1145.4,814.9 L1146.0,815.0 L1146.7,815.0 L1147.3,815.1 L1148.0,815.2 L1148.7,815.2 L1149.3,815.3 L1150.0,815.3 L1150.6,815.4 L1151.3,815.4 L1151.9,815.5 L1152.6,815.5 L1153.2,815.6 L1153.9,815.6 L1154.5,815.7 L1155.2,815.7 L1155.8,815.8 L1156.5,815.8" fill="none" stroke="#f06a1c" stroke-width="2.6" stroke-linejoin="round"/>
<path d="M866.8,817.1 L867.4,817.1 L868.1,817.1 L868.7,817.0 L869.4,817.0 L870.0,817.0 L870.7,816.9 L871.4,816.9 L872.0,816.9 L872.7,816.8 L873.3,816.8 L874.0,816.7 L874.6,816.7 L875.3,816.6 L875.9,816.6 L876.6,816.5 L877.2,816.4 L877.9,816.4 L878.5,816.3 L879.2,816.2 L879.9,816.1 L880.5,816.0 L881.2,815.9 L881.8,815.7 L882.5,815.6 L883.1,815.3 L883.8,815.0 L884.4,814.6 L885.1,813.8 L885.7,812.9 L886.4,811.9 L887.1,810.7 L887.7,809.2 L888.4,807.5 L889.0,805.0 L889.7,802.0 L890.3,798.8 L891.0,795.7 L891.6,792.8 L892.3,789.5 L892.9,786.4 L893.6,783.7 L894.2,781.5 L894.9,779.6 L895.6,778.7 L896.2,778.5 L896.9,779.0 L897.5,780.3 L898.2,782.5 L898.8,785.4 L899.5,788.9 L900.1,792.5 L900.8,795.2 L901.4,798.1 L902.1,801.1 L902.7,803.9 L903.4,806.1 L904.1,807.6 L904.7,808.8 L905.4,809.8 L906.0,810.6 L906.7,811.4 L907.3,812.1 L908.0,812.5 L908.6,812.8 L909.3,813.1 L909.9,813.4 L910.6,813.7 L911.2,813.9 L911.9,814.1 L912.6,814.3 L913.2,814.5 L913.9,814.6 L914.5,814.6 L915.2,814.7 L915.8,814.7 L916.5,814.8 L917.1,814.8 L917.8,814.9 L918.4,814.9 L919.1,815.0 L919.8,815.0 L920.4,815.0 L921.1,815.0 L921.7,815.0 L922.4,815.0 L923.0,814.9 L923.7,814.9 L924.3,814.8 L925.0,814.8 L925.6,814.7 L926.3,814.6 L926.9,814.5 L927.6,814.3 L928.3,814.2 L928.9,814.0 L929.6,813.8 L930.2,813.6 L930.9,813.4 L931.5,813.2 L932.2,813.0 L932.8,812.7 L933.5,812.5 L934.1,812.2 L934.8,811.9 L935.4,811.6 L936.1,811.3 L936.8,811.0 L937.4,810.7 L938.1,810.3 L938.7,810.0 L939.4,809.6 L940.0,809.2 L940.7,808.8 L941.3,808.4 L942.0,808.0 L942.6,807.6 L943.3,807.3 L944.0,806.9 L944.6,806.6 L945.3,806.2 L945.9,805.9 L946.6,805.5 L947.2,805.1 L947.9,804.7 L948.5,804.3 L949.2,803.9 L949.8,803.5 L950.5,803.1 L951.1,802.7 L951.8,802.3 L952.5,801.8 L953.1,801.4 L953.8,801.0 L954.4,800.5 L955.1,800.1 L955.7,799.6 L956.4,799.1 L957.0,798.7 L957.7,798.2 L958.3,797.7 L959.0,797.3 L959.6,796.8 L960.3,796.3 L961.0,795.9 L961.6,795.5 L962.3,795.1 L962.9,794.7 L963.6,794.3 L964.2,793.9 L964.9,793.5 L965.5,793.1 L966.2,792.7 L966.8,792.3 L967.5,791.9 L968.1,791.4 L968.8,791.0 L969.5,790.6 L970.1,790.2 L970.8,789.7 L971.4,789.3 L972.1,788.9 L972.7,788.4 L973.4,788.0 L974.0,787.5 L974.7,787.1 L975.3,786.6 L976.0,786.2 L976.6,785.7 L977.3,785.3 L978.0,784.8 L978.6,784.4 L979.3,783.9 L979.9,783.5 L980.6,783.0 L981.2,782.6 L981.9,782.1 L982.5,781.7 L983.2,781.2 L983.8,780.8 L984.5,780.3 L985.2,779.8 L985.8,779.3 L986.5,778.9 L987.1,778.4 L987.8,777.9 L988.4,777.4 L989.1,776.9 L989.7,776.4 L990.4,775.9 L991.0,775.4 L991.7,774.9 L992.3,774.4 L993.0,773.9 L993.7,773.4 L994.3,772.9 L995.0,772.4 L995.6,771.9 L996.3,771.4 L996.9,770.9 L997.6,770.5 L998.2,770.0 L998.9,769.5 L999.5,769.0 L1000.2,768.5 L1000.8,768.0 L1001.5,767.5 L1002.2,767.1 L1002.8,766.6 L1003.5,766.2 L1004.1,765.7 L1004.8,765.3 L1005.4,764.8 L1006.1,764.4 L1006.7,763.9 L1007.4,763.5 L1008.0,763.1 L1008.7,762.6 L1009.4,762.2 L1010.0,761.8 L1010.7,761.3 L1011.3,760.9 L1012.0,760.5 L1012.6,760.0 L1013.3,759.6 L1013.9,759.2 L1014.6,758.7 L1015.2,758.3 L1015.9,757.9 L1016.5,757.5 L1017.2,757.1 L1017.9,756.7 L1018.5,756.3 L1019.2,755.9 L1019.8,755.5 L1020.5,755.1 L1021.1,754.8 L1021.8,754.4 L1022.4,754.0 L1023.1,753.7 L1023.7,753.4 L1024.4,753.0 L1025.0,752.7 L1025.7,752.4 L1026.4,752.1 L1027.0,751.8 L1027.7,751.5 L1028.3,751.3 L1029.0,750.9 L1029.6,750.5 L1030.3,750.1 L1030.9,749.7 L1031.6,749.4 L1032.2,749.0 L1032.9,748.7 L1033.5,748.4 L1034.2,748.2 L1034.9,747.9 L1035.5,747.7 L1036.2,747.5 L1036.8,747.4 L1037.5,747.2 L1038.1,747.1 L1038.8,747.0 L1039.4,747.0 L1040.1,747.0 L1040.7,747.0 L1041.4,747.0 L1042.0,747.0 L1042.7,747.1 L1043.4,747.1 L1044.0,747.2 L1044.7,747.3 L1045.3,747.5 L1046.0,747.6 L1046.6,747.8 L1047.3,747.9 L1047.9,748.2 L1048.6,748.4 L1049.2,748.6 L1049.9,748.9 L1050.6,749.2 L1051.2,749.6 L1051.9,749.9 L1052.5,750.3 L1053.2,750.8 L1053.8,751.2 L1054.5,751.7 L1055.1,752.3 L1055.8,752.8 L1056.4,753.3 L1057.1,753.8 L1057.7,754.4 L1058.4,755.0 L1059.1,755.6 L1059.7,756.2 L1060.4,756.8 L1061.0,757.5 L1061.7,758.2 L1062.3,758.9 L1063.0,759.6 L1063.6,760.4 L1064.3,761.1 L1064.9,761.9 L1065.6,762.7 L1066.2,763.5 L1066.9,764.3 L1067.6,765.1 L1068.2,765.9 L1068.9,766.7 L1069.5,767.5 L1070.2,768.3 L1070.8,769.1 L1071.5,769.9 L1072.1,770.7 L1072.8,771.4 L1073.4,772.2 L1074.1,773.0 L1074.8,773.7 L1075.4,774.5 L1076.1,775.3 L1076.7,776.1 L1077.4,776.9 L1078.0,777.7 L1078.7,778.5 L1079.3,779.3 L1080.0,780.2 L1080.6,781.0 L1081.3,781.8 L1081.9,782.7 L1082.6,783.5 L1083.3,784.3 L1083.9,785.2 L1084.6,786.0 L1085.2,786.8 L1085.9,787.6 L1086.5,788.4 L1087.2,789.1 L1087.8,789.9 L1088.5,790.7 L1089.1,791.4 L1089.8,792.1 L1090.4,792.8 L1091.1,793.5 L1091.8,794.1 L1092.4,794.7 L1093.1,795.4 L1093.7,796.0 L1094.4,796.6 L1095.0,797.2 L1095.7,797.7 L1096.3,798.3 L1097.0,798.8 L1097.6,799.4 L1098.3,799.9 L1098.9,800.4 L1099.6,800.9 L1100.3,801.4 L1100.9,801.9 L1101.6,802.4 L1102.2,802.8 L1102.9,803.3 L1103.5,803.7 L1104.2,804.2 L1104.8,804.6 L1105.5,805.0 L1106.1,805.4 L1106.8,805.8 L1107.5,806.2 L1108.1,806.6 L1108.8,806.9 L1109.4,807.3 L1110.1,807.6 L1110.7,807.9 L1111.4,808.2 L1112.0,808.5 L1112.7,808.8 L1113.3,809.0 L1114.0,809.3 L1114.6,809.5 L1115.3,809.7 L1116.0,810.0 L1116.6,810.2 L1117.3,810.4 L1117.9,810.6 L1118.6,810.7 L1119.2,810.9 L1119.9,811.1 L1120.5,811.3 L1121.2,811.4 L1121.8,811.6 L1122.5,811.7 L1123.1,811.9 L1123.8,812.0 L1124.5,812.2 L1125.1,812.3 L1125.8,812.5 L1126.4,812.6 L1127.1,812.7 L1127.7,812.9 L1128.4,813.0 L1129.0,813.1 L1129.7,813.3 L1130.3,813.4 L1131.0,813.5 L1131.6,813.6 L1132.3,813.7 L1133.0,813.8 L1133.6,813.9 L1134.3,814.0 L1134.9,814.1 L1135.6,814.2 L1136.2,814.3 L1136.9,814.3 L1137.5,814.4 L1138.2,814.5 L1138.8,814.6 L1139.5,814.7 L1140.2,814.7 L1140.8,814.8 L1141.5,814.9 L1142.1,814.9 L1142.8,815.0 L1143.4,815.1 L1144.1,815.1 L1144.7,815.2 L1145.4,815.2 L1146.0,815.3 L1146.7,815.4 L1147.3,815.4 L1148.0,815.5 L1148.7,815.5 L1149.3,815.6 L1150.0,815.6 L1150.6,815.7 L1151.3,815.7 L1151.9,815.7 L1152.6,815.8 L1153.2,815.8 L1153.9,815.9 L1154.5,815.9 L1155.2,815.9 L1155.8,816.0 L1156.5,816.0" fill="none" stroke="#f06a1c" stroke-width="2.6" stroke-linejoin="round"/>
<path d="M866.8,817.1 L867.4,817.1 L868.1,817.1 L868.7,817.0 L869.4,817.0 L870.0,817.0 L870.7,817.0 L871.4,817.0 L872.0,816.9 L872.7,816.9 L873.3,816.9 L874.0,816.8 L874.6,816.8 L875.3,816.8 L875.9,816.7 L876.6,816.7 L877.2,816.6 L877.9,816.5 L878.5,816.5 L879.2,816.4 L879.9,816.3 L880.5,816.2 L881.2,816.1 L881.8,816.0 L882.5,815.9 L883.1,815.6 L883.8,815.3 L884.4,815.0 L885.1,814.3 L885.7,813.5 L886.4,812.6 L887.1,811.5 L887.7,810.2 L888.4,808.7 L889.0,806.5 L889.7,803.8 L890.3,800.9 L891.0,798.1 L891.6,795.5 L892.3,792.6 L892.9,789.8 L893.6,787.4 L894.2,785.4 L894.9,783.7 L895.6,782.9 L896.2,782.8 L896.9,783.2 L897.5,784.4 L898.2,786.4 L898.8,789.0 L899.5,792.1 L900.1,795.3 L900.8,797.7 L901.4,800.4 L902.1,803.0 L902.7,805.5 L903.4,807.6 L904.1,808.9 L904.7,809.9 L905.4,810.8 L906.0,811.6 L906.7,812.2 L907.3,812.9 L908.0,813.3 L908.6,813.6 L909.3,813.9 L909.9,814.1 L910.6,814.3 L911.2,814.5 L911.9,814.7 L912.6,814.9 L913.2,815.0 L913.9,815.1 L914.5,815.2 L915.2,815.3 L915.8,815.3 L916.5,815.4 L917.1,815.4 L917.8,815.5 L918.4,815.5 L919.1,815.5 L919.8,815.6 L920.4,815.6 L921.1,815.6 L921.7,815.6 L922.4,815.6 L923.0,815.5 L923.7,815.5 L924.3,815.5 L925.0,815.4 L925.6,815.4 L926.3,815.3 L926.9,815.2 L927.6,815.1 L928.3,815.0 L928.9,814.9 L929.6,814.8 L930.2,814.6 L930.9,814.5 L931.5,814.3 L932.2,814.1 L932.8,813.9 L933.5,813.8 L934.1,813.6 L934.8,813.4 L935.4,813.1 L936.1,812.9 L936.8,812.7 L937.4,812.5 L938.1,812.2 L938.7,812.0 L939.4,811.7 L940.0,811.4 L940.7,811.1 L941.3,810.8 L942.0,810.5 L942.6,810.2 L943.3,810.0 L944.0,809.8 L944.6,809.5 L945.3,809.3 L945.9,809.0 L946.6,808.7 L947.2,808.4 L947.9,808.2 L948.5,807.9 L949.2,807.6 L949.8,807.3 L950.5,807.0 L951.1,806.7 L951.8,806.4 L952.5,806.1 L953.1,805.8 L953.8,805.4 L954.4,805.1 L955.1,804.8 L955.7,804.5 L956.4,804.1 L957.0,803.8 L957.7,803.5 L958.3,803.1 L959.0,802.8 L959.6,802.5 L960.3,802.1 L961.0,801.8 L961.6,801.5 L962.3,801.2 L962.9,800.9 L963.6,800.7 L964.2,800.4 L964.9,800.1 L965.5,799.8 L966.2,799.5 L966.8,799.2 L967.5,798.9 L968.1,798.6 L968.8,798.3 L969.5,798.0 L970.1,797.7 L970.8,797.3 L971.4,797.0 L972.1,796.7 L972.7,796.4 L973.4,796.1 L974.0,795.8 L974.7,795.4 L975.3,795.1 L976.0,794.8 L976.6,794.5 L977.3,794.1 L978.0,793.8 L978.6,793.5 L979.3,793.2 L979.9,792.8 L980.6,792.5 L981.2,792.2 L981.9,791.9 L982.5,791.5 L983.2,791.2 L983.8,790.9 L984.5,790.5 L985.2,790.2 L985.8,789.9 L986.5,789.5 L987.1,789.2 L987.8,788.8 L988.4,788.5 L989.1,788.1 L989.7,787.7 L990.4,787.4 L991.0,787.0 L991.7,786.7 L992.3,786.3 L993.0,785.9 L993.7,785.6 L994.3,785.2 L995.0,784.9 L995.6,784.5 L996.3,784.1 L996.9,783.8 L997.6,783.4 L998.2,783.1 L998.9,782.7 L999.5,782.4 L1000.2,782.0 L1000.8,781.7 L1001.5,781.3 L1002.2,781.0 L1002.8,780.7 L1003.5,780.3 L1004.1,780.0 L1004.8,779.7 L1005.4,779.4 L1006.1,779.0 L1006.7,778.7 L1007.4,778.4 L1008.0,778.1 L1008.7,777.8 L1009.4,777.5 L1010.0,777.1 L1010.7,776.8 L1011.3,776.5 L1012.0,776.2 L1012.6,775.9 L1013.3,775.6 L1013.9,775.3 L1014.6,775.0 L1015.2,774.7 L1015.9,774.4 L1016.5,774.1 L1017.2,773.8 L1017.9,773.5 L1018.5,773.2 L1019.2,772.9 L1019.8,772.6 L1020.5,772.4 L1021.1,772.1 L1021.8,771.8 L1022.4,771.6 L1023.1,771.3 L1023.7,771.1 L1024.4,770.8 L1025.0,770.6 L1025.7,770.4 L1026.4,770.2 L1027.0,770.0 L1027.7,769.8 L1028.3,769.6 L1029.0,769.3 L1029.6,769.0 L1030.3,768.7 L1030.9,768.5 L1031.6,768.2 L1032.2,768.0 L1032.9,767.7 L1033.5,767.5 L1034.2,767.3 L1034.9,767.2 L1035.5,767.0 L1036.2,766.9 L1036.8,766.8 L1037.5,766.7 L1038.1,766.6 L1038.8,766.5 L1039.4,766.5 L1040.1,766.5 L1040.7,766.5 L1041.4,766.5 L1042.0,766.5 L1042.7,766.5 L1043.4,766.6 L1044.0,766.7 L1044.7,766.7 L1045.3,766.8 L1046.0,766.9 L1046.6,767.0 L1047.3,767.2 L1047.9,767.3 L1048.6,767.5 L1049.2,767.7 L1049.9,767.9 L1050.6,768.1 L1051.2,768.3 L1051.9,768.6 L1052.5,768.9 L1053.2,769.2 L1053.8,769.6 L1054.5,769.9 L1055.1,770.3 L1055.8,770.7 L1056.4,771.1 L1057.1,771.4 L1057.7,771.8 L1058.4,772.2 L1059.1,772.7 L1059.7,773.1 L1060.4,773.6 L1061.0,774.1 L1061.7,774.6 L1062.3,775.1 L1063.0,775.6 L1063.6,776.2 L1064.3,776.7 L1064.9,777.3 L1065.6,777.8 L1066.2,778.4 L1066.9,779.0 L1067.6,779.5 L1068.2,780.1 L1068.9,780.7 L1069.5,781.3 L1070.2,781.9 L1070.8,782.4 L1071.5,783.0 L1072.1,783.6 L1072.8,784.1 L1073.4,784.7 L1074.1,785.2 L1074.8,785.8 L1075.4,786.3 L1076.1,786.9 L1076.7,787.5 L1077.4,788.1 L1078.0,788.7 L1078.7,789.2 L1079.3,789.8 L1080.0,790.4 L1080.6,791.0 L1081.3,791.6 L1081.9,792.2 L1082.6,792.8 L1083.3,793.4 L1083.9,794.0 L1084.6,794.6 L1085.2,795.2 L1085.9,795.8 L1086.5,796.4 L1087.2,796.9 L1087.8,797.5 L1088.5,798.0 L1089.1,798.5 L1089.8,799.1 L1090.4,799.6 L1091.1,800.0 L1091.8,800.5 L1092.4,801.0 L1093.1,801.4 L1093.7,801.8 L1094.4,802.3 L1095.0,802.7 L1095.7,803.1 L1096.3,803.5 L1097.0,803.9 L1097.6,804.3 L1098.3,804.7 L1098.9,805.1 L1099.6,805.4 L1100.3,805.8 L1100.9,806.1 L1101.6,806.5 L1102.2,806.8 L1102.9,807.1 L1103.5,807.5 L1104.2,807.8 L1104.8,808.1 L1105.5,808.4 L1106.1,808.7 L1106.8,808.9 L1107.5,809.2 L1108.1,809.5 L1108.8,809.8 L1109.4,810.0 L1110.1,810.3 L1110.7,810.5 L1111.4,810.7 L1112.0,810.9 L1112.7,811.1 L1113.3,811.3 L1114.0,811.4 L1114.6,811.6 L1115.3,811.8 L1116.0,811.9 L1116.6,812.1 L1117.3,812.2 L1117.9,812.4 L1118.6,812.5 L1119.2,812.6 L1119.9,812.8 L1120.5,812.9 L1121.2,813.0 L1121.8,813.1 L1122.5,813.2 L1123.1,813.3 L1123.8,813.4 L1124.5,813.6 L1125.1,813.7 L1125.8,813.8 L1126.4,813.8 L1127.1,813.9 L1127.7,814.0 L1128.4,814.1 L1129.0,814.2 L1129.7,814.3 L1130.3,814.4 L1131.0,814.5 L1131.6,814.6 L1132.3,814.7 L1133.0,814.7 L1133.6,814.8 L1134.3,814.9 L1134.9,814.9 L1135.6,815.0 L1136.2,815.0 L1136.9,815.1 L1137.5,815.2 L1138.2,815.2 L1138.8,815.3 L1139.5,815.3 L1140.2,815.4 L1140.8,815.4 L1141.5,815.5 L1142.1,815.5 L1142.8,815.6 L1143.4,815.6 L1144.1,815.7 L1144.7,815.7 L1145.4,815.8 L1146.0,815.8 L1146.7,815.8 L1147.3,815.9 L1148.0,815.9 L1148.7,816.0 L1149.3,816.0 L1150.0,816.0 L1150.6,816.1 L1151.3,816.1 L1151.9,816.1 L1152.6,816.1 L1153.2,816.2 L1153.9,816.2 L1154.5,816.2 L1155.2,816.3 L1155.8,816.3 L1156.5,816.3" fill="none" stroke="#f06a1c" stroke-width="2.6" stroke-linejoin="round"/>
<path d="M866.8,817.1 L867.4,817.1 L868.1,817.1 L868.7,817.1 L869.4,817.0 L870.0,817.0 L870.7,817.0 L871.4,817.0 L872.0,817.0 L872.7,817.0 L873.3,816.9 L874.0,816.9 L874.6,816.9 L875.3,816.9 L875.9,816.8 L876.6,816.8 L877.2,816.7 L877.9,816.7 L878.5,816.6 L879.2,816.6 L879.9,816.5 L880.5,816.4 L881.2,816.4 L881.8,816.3 L882.5,816.2 L883.1,816.0 L883.8,815.7 L884.4,815.4 L885.1,814.8 L885.7,814.2 L886.4,813.4 L887.1,812.4 L887.7,811.3 L888.4,810.1 L889.0,808.1 L889.7,805.9 L890.3,803.4 L891.0,801.0 L891.6,798.8 L892.3,796.3 L892.9,793.9 L893.6,791.8 L894.2,790.2 L894.9,788.7 L895.6,788.0 L896.2,787.9 L896.9,788.2 L897.5,789.3 L898.2,791.0 L898.8,793.2 L899.5,795.9 L900.1,798.6 L900.8,800.7 L901.4,803.0 L902.1,805.3 L902.7,807.4 L903.4,809.2 L904.1,810.3 L904.7,811.2 L905.4,812.0 L906.0,812.6 L906.7,813.2 L907.3,813.7 L908.0,814.1 L908.6,814.3 L909.3,814.6 L909.9,814.8 L910.6,815.0 L911.2,815.2 L911.9,815.3 L912.6,815.5 L913.2,815.6 L913.9,815.7 L914.5,815.8 L915.2,815.8 L915.8,815.9 L916.5,815.9 L917.1,816.0 L917.8,816.0 L918.4,816.1 L919.1,816.1 L919.8,816.1 L920.4,816.1 L921.1,816.1 L921.7,816.1 L922.4,816.1 L923.0,816.1 L923.7,816.1 L924.3,816.1 L925.0,816.0 L925.6,816.0 L926.3,816.0 L926.9,815.9 L927.6,815.8 L928.3,815.8 L928.9,815.7 L929.6,815.6 L930.2,815.5 L930.9,815.4 L931.5,815.3 L932.2,815.2 L932.8,815.1 L933.5,815.0 L934.1,814.9 L934.8,814.7 L935.4,814.6 L936.1,814.5 L936.8,814.3 L937.4,814.2 L938.1,814.0 L938.7,813.8 L939.4,813.7 L940.0,813.5 L940.7,813.3 L941.3,813.1 L942.0,812.9 L942.6,812.8 L943.3,812.6 L944.0,812.5 L944.6,812.3 L945.3,812.1 L945.9,812.0 L946.6,811.8 L947.2,811.6 L947.9,811.4 L948.5,811.3 L949.2,811.1 L949.8,810.9 L950.5,810.7 L951.1,810.5 L951.8,810.3 L952.5,810.1 L953.1,809.9 L953.8,809.7 L954.4,809.5 L955.1,809.3 L955.7,809.1 L956.4,808.9 L957.0,808.7 L957.7,808.5 L958.3,808.3 L959.0,808.0 L959.6,807.8 L960.3,807.6 L961.0,807.4 L961.6,807.2 L962.3,807.1 L962.9,806.9 L963.6,806.7 L964.2,806.5 L964.9,806.3 L965.5,806.1 L966.2,805.9 L966.8,805.8 L967.5,805.6 L968.1,805.4 L968.8,805.2 L969.5,805.0 L970.1,804.8 L970.8,804.6 L971.4,804.4 L972.1,804.2 L972.7,804.0 L973.4,803.8 L974.0,803.6 L974.7,803.4 L975.3,803.2 L976.0,803.0 L976.6,802.8 L977.3,802.6 L978.0,802.4 L978.6,802.1 L979.3,801.9 L979.9,801.7 L980.6,801.5 L981.2,801.3 L981.9,801.1 L982.5,800.9 L983.2,800.7 L983.8,800.5 L984.5,800.3 L985.2,800.1 L985.8,799.8 L986.5,799.6 L987.1,799.4 L987.8,799.2 L988.4,799.0 L989.1,798.7 L989.7,798.5 L990.4,798.3 L991.0,798.0 L991.7,797.8 L992.3,797.6 L993.0,797.4 L993.7,797.1 L994.3,796.9 L995.0,796.7 L995.6,796.4 L996.3,796.2 L996.9,796.0 L997.6,795.8 L998.2,795.5 L998.9,795.3 L999.5,795.1 L1000.2,794.9 L1000.8,794.7 L1001.5,794.4 L1002.2,794.2 L1002.8,794.0 L1003.5,793.8 L1004.1,793.6 L1004.8,793.4 L1005.4,793.2 L1006.1,793.0 L1006.7,792.8 L1007.4,792.6 L1008.0,792.4 L1008.7,792.2 L1009.4,792.0 L1010.0,791.8 L1010.7,791.6 L1011.3,791.4 L1012.0,791.2 L1012.6,791.0 L1013.3,790.8 L1013.9,790.6 L1014.6,790.4 L1015.2,790.2 L1015.9,790.0 L1016.5,789.8 L1017.2,789.6 L1017.9,789.5 L1018.5,789.3 L1019.2,789.1 L1019.8,788.9 L1020.5,788.7 L1021.1,788.6 L1021.8,788.4 L1022.4,788.3 L1023.1,788.1 L1023.7,787.9 L1024.4,787.8 L1025.0,787.6 L1025.7,787.5 L1026.4,787.4 L1027.0,787.2 L1027.7,787.1 L1028.3,787.0 L1029.0,786.8 L1029.6,786.6 L1030.3,786.4 L1030.9,786.3 L1031.6,786.1 L1032.2,786.0 L1032.9,785.8 L1033.5,785.7 L1034.2,785.6 L1034.9,785.5 L1035.5,785.4 L1036.2,785.3 L1036.8,785.2 L1037.5,785.1 L1038.1,785.1 L1038.8,785.0 L1039.4,785.0 L1040.1,785.0 L1040.7,785.0 L1041.4,785.0 L1042.0,785.0 L1042.7,785.1 L1043.4,785.1 L1044.0,785.1 L1044.7,785.2 L1045.3,785.2 L1046.0,785.3 L1046.6,785.4 L1047.3,785.5 L1047.9,785.6 L1048.6,785.7 L1049.2,785.8 L1049.9,785.9 L1050.6,786.0 L1051.2,786.2 L1051.9,786.4 L1052.5,786.6 L1053.2,786.8 L1053.8,787.0 L1054.5,787.2 L1055.1,787.4 L1055.8,787.7 L1056.4,787.9 L1057.1,788.2 L1057.7,788.4 L1058.4,788.7 L1059.1,788.9 L1059.7,789.2 L1060.4,789.5 L1061.0,789.8 L1061.7,790.2 L1062.3,790.5 L1063.0,790.8 L1063.6,791.2 L1064.3,791.5 L1064.9,791.9 L1065.6,792.2 L1066.2,792.6 L1066.9,792.9 L1067.6,793.3 L1068.2,793.7 L1068.9,794.0 L1069.5,794.4 L1070.2,794.8 L1070.8,795.1 L1071.5,795.5 L1072.1,795.9 L1072.8,796.2 L1073.4,796.6 L1074.1,796.9 L1074.8,797.2 L1075.4,797.6 L1076.1,798.0 L1076.7,798.3 L1077.4,798.7 L1078.0,799.1 L1078.7,799.4 L1079.3,799.8 L1080.0,800.2 L1080.6,800.6 L1081.3,801.0 L1081.9,801.4 L1082.6,801.7 L1083.3,802.1 L1083.9,802.5 L1084.6,802.9 L1085.2,803.2 L1085.9,803.6 L1086.5,804.0 L1087.2,804.3 L1087.8,804.7 L1088.5,805.0 L1089.1,805.3 L1089.8,805.7 L1090.4,806.0 L1091.1,806.3 L1091.8,806.6 L1092.4,806.9 L1093.1,807.2 L1093.7,807.4 L1094.4,807.7 L1095.0,808.0 L1095.7,808.2 L1096.3,808.5 L1097.0,808.7 L1097.6,809.0 L1098.3,809.2 L1098.9,809.5 L1099.6,809.7 L1100.3,809.9 L1100.9,810.1 L1101.6,810.4 L1102.2,810.6 L1102.9,810.8 L1103.5,811.0 L1104.2,811.2 L1104.8,811.4 L1105.5,811.6 L1106.1,811.8 L1106.8,811.9 L1107.5,812.1 L1108.1,812.3 L1108.8,812.5 L1109.4,812.6 L1110.1,812.8 L1110.7,812.9 L1111.4,813.0 L1112.0,813.2 L1112.7,813.3 L1113.3,813.4 L1114.0,813.5 L1114.6,813.6 L1115.3,813.7 L1116.0,813.8 L1116.6,813.9 L1117.3,814.0 L1117.9,814.1 L1118.6,814.2 L1119.2,814.3 L1119.9,814.4 L1120.5,814.4 L1121.2,814.5 L1121.8,814.6 L1122.5,814.7 L1123.1,814.7 L1123.8,814.8 L1124.5,814.9 L1125.1,814.9 L1125.8,815.0 L1126.4,815.0 L1127.1,815.1 L1127.7,815.2 L1128.4,815.2 L1129.0,815.3 L1129.7,815.3 L1130.3,815.4 L1131.0,815.5 L1131.6,815.5 L1132.3,815.5 L1133.0,815.6 L1133.6,815.6 L1134.3,815.7 L1134.9,815.7 L1135.6,815.8 L1136.2,815.8 L1136.9,815.8 L1137.5,815.9 L1138.2,815.9 L1138.8,815.9 L1139.5,816.0 L1140.2,816.0 L1140.8,816.0 L1141.5,816.1 L1142.1,816.1 L1142.8,816.1 L1143.4,816.2 L1144.1,816.2 L1144.7,816.2 L1145.4,816.3 L1146.0,816.3 L1146.7,816.3 L1147.3,816.3 L1148.0,816.4 L1148.7,816.4 L1149.3,816.4 L1150.0,816.4 L1150.6,816.4 L1151.3,816.5 L1151.9,816.5 L1152.6,816.5 L1153.2,816.5 L1153.9,816.5 L1154.5,816.5 L1155.2,816.6 L1155.8,816.6 L1156.5,816.6" fill="none" stroke="#f06a1c" stroke-width="2.6" stroke-linejoin="round"/>
<path d="M866.8,817.1 L867.4,817.1 L868.1,817.1 L868.7,817.1 L869.4,817.1 L870.0,817.1 L870.7,817.1 L871.4,817.1 L872.0,817.0 L872.7,817.0 L873.3,817.0 L874.0,817.0 L874.6,817.0 L875.3,817.0 L875.9,817.0 L876.6,816.9 L877.2,816.9 L877.9,816.9 L878.5,816.8 L879.2,816.8 L879.9,816.8 L880.5,816.7 L881.2,816.7 L881.8,816.6 L882.5,816.5 L883.1,816.4 L883.8,816.2 L884.4,815.9 L885.1,815.5 L885.7,815.0 L886.4,814.4 L887.1,813.7 L887.7,812.9 L888.4,811.9 L889.0,810.5 L889.7,808.7 L890.3,806.9 L891.0,805.0 L891.6,803.4 L892.3,801.5 L892.9,799.7 L893.6,798.1 L894.2,796.9 L894.9,795.8 L895.6,795.3 L896.2,795.2 L896.9,795.5 L897.5,796.2 L898.2,797.5 L898.8,799.2 L899.5,801.2 L900.1,803.3 L900.8,804.9 L901.4,806.6 L902.1,808.4 L902.7,810.0 L903.4,811.3 L904.1,812.2 L904.7,812.9 L905.4,813.5 L906.0,814.0 L906.7,814.4 L907.3,814.8 L908.0,815.1 L908.6,815.3 L909.3,815.5 L909.9,815.6 L910.6,815.8 L911.2,815.9 L911.9,816.1 L912.6,816.2 L913.2,816.3 L913.9,816.3 L914.5,816.4 L915.2,816.5 L915.8,816.5 L916.5,816.5 L917.1,816.6 L917.8,816.6 L918.4,816.6 L919.1,816.7 L919.8,816.7 L920.4,816.7 L921.1,816.7 L921.7,816.7 L922.4,816.7 L923.0,816.7 L923.7,816.7 L924.3,816.7 L925.0,816.7 L925.6,816.7 L926.3,816.6 L926.9,816.6 L927.6,816.6 L928.3,816.6 L928.9,816.5 L929.6,816.5 L930.2,816.5 L930.9,816.4 L931.5,816.4 L932.2,816.3 L932.8,816.3 L933.5,816.3 L934.1,816.2 L934.8,816.2 L935.4,816.1 L936.1,816.0 L936.8,816.0 L937.4,815.9 L938.1,815.9 L938.7,815.8 L939.4,815.7 L940.0,815.7 L940.7,815.6 L941.3,815.5 L942.0,815.4 L942.6,815.4 L943.3,815.3 L944.0,815.2 L944.6,815.2 L945.3,815.1 L945.9,815.0 L946.6,815.0 L947.2,814.9 L947.9,814.8 L948.5,814.8 L949.2,814.7 L949.8,814.6 L950.5,814.5 L951.1,814.5 L951.8,814.4 L952.5,814.3 L953.1,814.2 L953.8,814.1 L954.4,814.1 L955.1,814.0 L955.7,813.9 L956.4,813.8 L957.0,813.7 L957.7,813.6 L958.3,813.6 L959.0,813.5 L959.6,813.4 L960.3,813.3 L961.0,813.2 L961.6,813.1 L962.3,813.1 L962.9,813.0 L963.6,812.9 L964.2,812.9 L964.9,812.8 L965.5,812.7 L966.2,812.6 L966.8,812.6 L967.5,812.5 L968.1,812.4 L968.8,812.3 L969.5,812.2 L970.1,812.2 L970.8,812.1 L971.4,812.0 L972.1,811.9 L972.7,811.8 L973.4,811.8 L974.0,811.7 L974.7,811.6 L975.3,811.5 L976.0,811.4 L976.6,811.4 L977.3,811.3 L978.0,811.2 L978.6,811.1 L979.3,811.0 L979.9,810.9 L980.6,810.9 L981.2,810.8 L981.9,810.7 L982.5,810.6 L983.2,810.5 L983.8,810.4 L984.5,810.4 L985.2,810.3 L985.8,810.2 L986.5,810.1 L987.1,810.0 L987.8,809.9 L988.4,809.8 L989.1,809.7 L989.7,809.6 L990.4,809.6 L991.0,809.5 L991.7,809.4 L992.3,809.3 L993.0,809.2 L993.7,809.1 L994.3,809.0 L995.0,808.9 L995.6,808.8 L996.3,808.7 L996.9,808.6 L997.6,808.5 L998.2,808.5 L998.9,808.4 L999.5,808.3 L1000.2,808.2 L1000.8,808.1 L1001.5,808.0 L1002.2,807.9 L1002.8,807.8 L1003.5,807.8 L1004.1,807.7 L1004.8,807.6 L1005.4,807.5 L1006.1,807.4 L1006.7,807.3 L1007.4,807.3 L1008.0,807.2 L1008.7,807.1 L1009.4,807.0 L1010.0,806.9 L1010.7,806.9 L1011.3,806.8 L1012.0,806.7 L1012.6,806.6 L1013.3,806.5 L1013.9,806.5 L1014.6,806.4 L1015.2,806.3 L1015.9,806.2 L1016.5,806.2 L1017.2,806.1 L1017.9,806.0 L1018.5,805.9 L1019.2,805.9 L1019.8,805.8 L1020.5,805.7 L1021.1,805.7 L1021.8,805.6 L1022.4,805.5 L1023.1,805.5 L1023.7,805.4 L1024.4,805.3 L1025.0,805.3 L1025.7,805.2 L1026.4,805.2 L1027.0,805.1 L1027.7,805.1 L1028.3,805.0 L1029.0,804.9 L1029.6,804.9 L1030.3,804.8 L1030.9,804.7 L1031.6,804.7 L1032.2,804.6 L1032.9,804.5 L1033.5,804.5 L1034.2,804.4 L1034.9,804.4 L1035.5,804.4 L1036.2,804.3 L1036.8,804.3 L1037.5,804.3 L1038.1,804.3 L1038.8,804.2 L1039.4,804.2 L1040.1,804.2 L1040.7,804.2 L1041.4,804.2 L1042.0,804.2 L1042.7,804.2 L1043.4,804.3 L1044.0,804.3 L1044.7,804.3 L1045.3,804.3 L1046.0,804.3 L1046.6,804.4 L1047.3,804.4 L1047.9,804.4 L1048.6,804.5 L1049.2,804.5 L1049.9,804.6 L1050.6,804.6 L1051.2,804.7 L1051.9,804.8 L1052.5,804.8 L1053.2,804.9 L1053.8,805.0 L1054.5,805.1 L1055.1,805.2 L1055.8,805.3 L1056.4,805.4 L1057.1,805.5 L1057.7,805.6 L1058.4,805.7 L1059.1,805.8 L1059.7,805.9 L1060.4,806.0 L1061.0,806.2 L1061.7,806.3 L1062.3,806.4 L1063.0,806.5 L1063.6,806.7 L1064.3,806.8 L1064.9,807.0 L1065.6,807.1 L1066.2,807.3 L1066.9,807.4 L1067.6,807.5 L1068.2,807.7 L1068.9,807.8 L1069.5,808.0 L1070.2,808.1 L1070.8,808.3 L1071.5,808.4 L1072.1,808.6 L1072.8,808.7 L1073.4,808.9 L1074.1,809.0 L1074.8,809.1 L1075.4,809.3 L1076.1,809.4 L1076.7,809.6 L1077.4,809.7 L1078.0,809.9 L1078.7,810.0 L1079.3,810.2 L1080.0,810.3 L1080.6,810.5 L1081.3,810.6 L1081.9,810.8 L1082.6,810.9 L1083.3,811.1 L1083.9,811.2 L1084.6,811.4 L1085.2,811.5 L1085.9,811.7 L1086.5,811.8 L1087.2,812.0 L1087.8,812.1 L1088.5,812.2 L1089.1,812.4 L1089.8,812.5 L1090.4,812.6 L1091.1,812.8 L1091.8,812.9 L1092.4,813.0 L1093.1,813.1 L1093.7,813.2 L1094.4,813.3 L1095.0,813.4 L1095.7,813.5 L1096.3,813.6 L1097.0,813.7 L1097.6,813.8 L1098.3,813.9 L1098.9,814.0 L1099.6,814.1 L1100.3,814.2 L1100.9,814.3 L1101.6,814.4 L1102.2,814.5 L1102.9,814.6 L1103.5,814.6 L1104.2,814.7 L1104.8,814.8 L1105.5,814.9 L1106.1,815.0 L1106.8,815.0 L1107.5,815.1 L1108.1,815.2 L1108.8,815.2 L1109.4,815.3 L1110.1,815.4 L1110.7,815.4 L1111.4,815.5 L1112.0,815.5 L1112.7,815.6 L1113.3,815.6 L1114.0,815.7 L1114.6,815.7 L1115.3,815.7 L1116.0,815.8 L1116.6,815.8 L1117.3,815.9 L1117.9,815.9 L1118.6,815.9 L1119.2,816.0 L1119.9,816.0 L1120.5,816.0 L1121.2,816.1 L1121.8,816.1 L1122.5,816.1 L1123.1,816.1 L1123.8,816.2 L1124.5,816.2 L1125.1,816.2 L1125.8,816.2 L1126.4,816.3 L1127.1,816.3 L1127.7,816.3 L1128.4,816.3 L1129.0,816.4 L1129.7,816.4 L1130.3,816.4 L1131.0,816.4 L1131.6,816.5 L1132.3,816.5 L1133.0,816.5 L1133.6,816.5 L1134.3,816.5 L1134.9,816.5 L1135.6,816.6 L1136.2,816.6 L1136.9,816.6 L1137.5,816.6 L1138.2,816.6 L1138.8,816.6 L1139.5,816.7 L1140.2,816.7 L1140.8,816.7 L1141.5,816.7 L1142.1,816.7 L1142.8,816.7 L1143.4,816.7 L1144.1,816.7 L1144.7,816.7 L1145.4,816.8 L1146.0,816.8 L1146.7,816.8 L1147.3,816.8 L1148.0,816.8 L1148.7,816.8 L1149.3,816.8 L1150.0,816.8 L1150.6,816.8 L1151.3,816.8 L1151.9,816.9 L1152.6,816.9 L1153.2,816.9 L1153.9,816.9 L1154.5,816.9 L1155.2,816.9 L1155.8,816.9 L1156.5,816.9" fill="none" stroke="#f06a1c" stroke-width="2.6" stroke-linejoin="round"/>
<path d="M866.8,817.1 L867.4,817.1 L868.1,817.1 L868.7,817.1 L869.4,817.1 L870.0,817.1 L870.7,817.1 L871.4,817.1 L872.0,817.1 L872.7,817.1 L873.3,817.1 L874.0,817.1 L874.6,817.1 L875.3,817.1 L875.9,817.0 L876.6,817.0 L877.2,817.0 L877.9,817.0 L878.5,817.0 L879.2,817.0 L879.9,816.9 L880.5,816.9 L881.2,816.9 L881.8,816.9 L882.5,816.8 L883.1,816.7 L883.8,816.6 L884.4,816.5 L885.1,816.2 L885.7,815.9 L886.4,815.6 L887.1,815.1 L887.7,814.6 L888.4,814.1 L889.0,813.2 L889.7,812.2 L890.3,811.0 L891.0,809.9 L891.6,809.0 L892.3,807.8 L892.9,806.8 L893.6,805.8 L894.2,805.1 L894.9,804.4 L895.6,804.1 L896.2,804.0 L896.9,804.2 L897.5,804.7 L898.2,805.4 L898.8,806.5 L899.5,807.7 L900.1,808.9 L900.8,809.9 L901.4,810.9 L902.1,812.0 L902.7,812.9 L903.4,813.7 L904.1,814.3 L904.7,814.7 L905.4,815.0 L906.0,815.3 L906.7,815.6 L907.3,815.8 L908.0,816.0 L908.6,816.1 L909.3,816.2 L909.9,816.3 L910.6,816.4 L911.2,816.5 L911.9,816.6 L912.6,816.7 L913.2,816.7 L913.9,816.8 L914.5,816.8 L915.2,816.9 L915.8,816.9 L916.5,816.9 L917.1,816.9 L917.8,817.0 L918.4,817.0 L919.1,817.0 L919.8,817.0 L920.4,817.0 L921.1,817.0 L921.7,817.0 L922.4,817.0 L923.0,817.0 L923.7,817.0 L924.3,817.0 L925.0,817.0 L925.6,817.0 L926.3,817.0 L926.9,817.0 L927.6,817.0 L928.3,817.0 L928.9,817.0 L929.6,817.0 L930.2,817.0 L930.9,817.0 L931.5,817.0 L932.2,816.9 L932.8,816.9 L933.5,816.9 L934.1,816.9 L934.8,816.9 L935.4,816.9 L936.1,816.9 L936.8,816.9 L937.4,816.9 L938.1,816.8 L938.7,816.8 L939.4,816.8 L940.0,816.8 L940.7,816.8 L941.3,816.8 L942.0,816.8 L942.6,816.7 L943.3,816.7 L944.0,816.7 L944.6,816.7 L945.3,816.7 L945.9,816.7 L946.6,816.7 L947.2,816.7 L947.9,816.6 L948.5,816.6 L949.2,816.6 L949.8,816.6 L950.5,816.6 L951.1,816.6 L951.8,816.5 L952.5,816.5 L953.1,816.5 L953.8,816.5 L954.4,816.5 L955.1,816.5 L955.7,816.4 L956.4,816.4 L957.0,816.4 L957.7,816.4 L958.3,816.4 L959.0,816.4 L959.6,816.3 L960.3,816.3 L961.0,816.3 L961.6,816.3 L962.3,816.3 L962.9,816.3 L963.6,816.2 L964.2,816.2 L964.9,816.2 L965.5,816.2 L966.2,816.2 L966.8,816.2 L967.5,816.2 L968.1,816.1 L968.8,816.1 L969.5,816.1 L970.1,816.1 L970.8,816.1 L971.4,816.1 L972.1,816.0 L972.7,816.0 L973.4,816.0 L974.0,816.0 L974.7,816.0 L975.3,816.0 L976.0,815.9 L976.6,815.9 L977.3,815.9 L978.0,815.9 L978.6,815.9 L979.3,815.9 L979.9,815.8 L980.6,815.8 L981.2,815.8 L981.9,815.8 L982.5,815.8 L983.2,815.8 L983.8,815.7 L984.5,815.7 L985.2,815.7 L985.8,815.7 L986.5,815.7 L987.1,815.6 L987.8,815.6 L988.4,815.6 L989.1,815.6 L989.7,815.6 L990.4,815.5 L991.0,815.5 L991.7,815.5 L992.3,815.5 L993.0,815.5 L993.7,815.5 L994.3,815.4 L995.0,815.4 L995.6,815.4 L996.3,815.4 L996.9,815.4 L997.6,815.3 L998.2,815.3 L998.9,815.3 L999.5,815.3 L1000.2,815.3 L1000.8,815.2 L1001.5,815.2 L1002.2,815.2 L1002.8,815.2 L1003.5,815.2 L1004.1,815.2 L1004.8,815.1 L1005.4,815.1 L1006.1,815.1 L1006.7,815.1 L1007.4,815.1 L1008.0,815.1 L1008.7,815.0 L1009.4,815.0 L1010.0,815.0 L1010.7,815.0 L1011.3,815.0 L1012.0,815.0 L1012.6,814.9 L1013.3,814.9 L1013.9,814.9 L1014.6,814.9 L1015.2,814.9 L1015.9,814.9 L1016.5,814.8 L1017.2,814.8 L1017.9,814.8 L1018.5,814.8 L1019.2,814.8 L1019.8,814.8 L1020.5,814.8 L1021.1,814.7 L1021.8,814.7 L1022.4,814.7 L1023.1,814.7 L1023.7,814.7 L1024.4,814.7 L1025.0,814.7 L1025.7,814.7 L1026.4,814.6 L1027.0,814.6 L1027.7,814.6 L1028.3,814.6 L1029.0,814.6 L1029.6,814.6 L1030.3,814.6 L1030.9,814.5 L1031.6,814.5 L1032.2,814.5 L1032.9,814.5 L1033.5,814.5 L1034.2,814.5 L1034.9,814.5 L1035.5,814.5 L1036.2,814.5 L1036.8,814.5 L1037.5,814.5 L1038.1,814.4 L1038.8,814.4 L1039.4,814.4 L1040.1,814.4 L1040.7,814.4 L1041.4,814.4 L1042.0,814.4 L1042.7,814.4 L1043.4,814.4 L1044.0,814.5 L1044.7,814.5 L1045.3,814.5 L1046.0,814.5 L1046.6,814.5 L1047.3,814.5 L1047.9,814.5 L1048.6,814.5 L1049.2,814.5 L1049.9,814.5 L1050.6,814.5 L1051.2,814.5 L1051.9,814.6 L1052.5,814.6 L1053.2,814.6 L1053.8,814.6 L1054.5,814.6 L1055.1,814.6 L1055.8,814.7 L1056.4,814.7 L1057.1,814.7 L1057.7,814.7 L1058.4,814.7 L1059.1,814.8 L1059.7,814.8 L1060.4,814.8 L1061.0,814.8 L1061.7,814.9 L1062.3,814.9 L1063.0,814.9 L1063.6,814.9 L1064.3,815.0 L1064.9,815.0 L1065.6,815.0 L1066.2,815.1 L1066.9,815.1 L1067.6,815.1 L1068.2,815.2 L1068.9,815.2 L1069.5,815.2 L1070.2,815.2 L1070.8,815.3 L1071.5,815.3 L1072.1,815.3 L1072.8,815.4 L1073.4,815.4 L1074.1,815.4 L1074.8,815.5 L1075.4,815.5 L1076.1,815.5 L1076.7,815.5 L1077.4,815.6 L1078.0,815.6 L1078.7,815.6 L1079.3,815.7 L1080.0,815.7 L1080.6,815.7 L1081.3,815.8 L1081.9,815.8 L1082.6,815.8 L1083.3,815.9 L1083.9,815.9 L1084.6,815.9 L1085.2,816.0 L1085.9,816.0 L1086.5,816.0 L1087.2,816.0 L1087.8,816.1 L1088.5,816.1 L1089.1,816.1 L1089.8,816.2 L1090.4,816.2 L1091.1,816.2 L1091.8,816.2 L1092.4,816.3 L1093.1,816.3 L1093.7,816.3 L1094.4,816.3 L1095.0,816.3 L1095.7,816.4 L1096.3,816.4 L1097.0,816.4 L1097.6,816.4 L1098.3,816.5 L1098.9,816.5 L1099.6,816.5 L1100.3,816.5 L1100.9,816.5 L1101.6,816.5 L1102.2,816.6 L1102.9,816.6 L1103.5,816.6 L1104.2,816.6 L1104.8,816.6 L1105.5,816.6 L1106.1,816.7 L1106.8,816.7 L1107.5,816.7 L1108.1,816.7 L1108.8,816.7 L1109.4,816.7 L1110.1,816.7 L1110.7,816.8 L1111.4,816.8 L1112.0,816.8 L1112.7,816.8 L1113.3,816.8 L1114.0,816.8 L1114.6,816.8 L1115.3,816.8 L1116.0,816.8 L1116.6,816.8 L1117.3,816.8 L1117.9,816.9 L1118.6,816.9 L1119.2,816.9 L1119.9,816.9 L1120.5,816.9 L1121.2,816.9 L1121.8,816.9 L1122.5,816.9 L1123.1,816.9 L1123.8,816.9 L1124.5,816.9 L1125.1,816.9 L1125.8,816.9 L1126.4,816.9 L1127.1,816.9 L1127.7,816.9 L1128.4,816.9 L1129.0,817.0 L1129.7,817.0 L1130.3,817.0 L1131.0,817.0 L1131.6,817.0 L1132.3,817.0 L1133.0,817.0 L1133.6,817.0 L1134.3,817.0 L1134.9,817.0 L1135.6,817.0 L1136.2,817.0 L1136.9,817.0 L1137.5,817.0 L1138.2,817.0 L1138.8,817.0 L1139.5,817.0 L1140.2,817.0 L1140.8,817.0 L1141.5,817.0 L1142.1,817.0 L1142.8,817.0 L1143.4,817.0 L1144.1,817.0 L1144.7,817.0 L1145.4,817.0 L1146.0,817.0 L1146.7,817.0 L1147.3,817.0 L1148.0,817.0 L1148.7,817.0 L1149.3,817.0 L1150.0,817.0 L1150.6,817.0 L1151.3,817.0 L1151.9,817.0 L1152.6,817.0 L1153.2,817.1 L1153.9,817.1 L1154.5,817.1 L1155.2,817.1 L1155.8,817.1 L1156.5,817.1" fill="none" stroke="#f06a1c" stroke-width="2.6" stroke-linejoin="round"/>
<rect x="829.5" y="708.5" width="327.0" height="108.6" fill="none" stroke="#2b2b2b" stroke-width="2.3"/>
<line x1="862.2" y1="817.1" x2="862.2" y2="809.1" stroke="#2b2b2b" stroke-width="2.30" />
<line x1="862.2" y1="708.5" x2="862.2" y2="716.5" stroke="#2b2b2b" stroke-width="2.30" />
<line x1="894.9" y1="817.1" x2="894.9" y2="801.1" stroke="#2b2b2b" stroke-width="2.30" />
<line x1="894.9" y1="708.5" x2="894.9" y2="724.5" stroke="#2b2b2b" stroke-width="2.30" />
<line x1="927.6" y1="817.1" x2="927.6" y2="809.1" stroke="#2b2b2b" stroke-width="2.30" />
<line x1="927.6" y1="708.5" x2="927.6" y2="716.5" stroke="#2b2b2b" stroke-width="2.30" />
<line x1="960.3" y1="817.1" x2="960.3" y2="801.1" stroke="#2b2b2b" stroke-width="2.30" />
<line x1="960.3" y1="708.5" x2="960.3" y2="724.5" stroke="#2b2b2b" stroke-width="2.30" />
<line x1="993.0" y1="817.1" x2="993.0" y2="809.1" stroke="#2b2b2b" stroke-width="2.30" />
<line x1="993.0" y1="708.5" x2="993.0" y2="716.5" stroke="#2b2b2b" stroke-width="2.30" />
<line x1="1025.7" y1="817.1" x2="1025.7" y2="801.1" stroke="#2b2b2b" stroke-width="2.30" />
<line x1="1025.7" y1="708.5" x2="1025.7" y2="724.5" stroke="#2b2b2b" stroke-width="2.30" />
<line x1="1058.4" y1="817.1" x2="1058.4" y2="809.1" stroke="#2b2b2b" stroke-width="2.30" />
<line x1="1058.4" y1="708.5" x2="1058.4" y2="716.5" stroke="#2b2b2b" stroke-width="2.30" />
<line x1="1091.1" y1="817.1" x2="1091.1" y2="801.1" stroke="#2b2b2b" stroke-width="2.30" />
<line x1="1091.1" y1="708.5" x2="1091.1" y2="724.5" stroke="#2b2b2b" stroke-width="2.30" />
<line x1="1123.8" y1="817.1" x2="1123.8" y2="809.1" stroke="#2b2b2b" stroke-width="2.30" />
<line x1="1123.8" y1="708.5" x2="1123.8" y2="716.5" stroke="#2b2b2b" stroke-width="2.30" />
<line x1="829.5" y1="744.6" x2="845.5" y2="744.6" stroke="#2b2b2b" stroke-width="2.30" />
<line x1="1156.5" y1="744.6" x2="1140.5" y2="744.6" stroke="#2b2b2b" stroke-width="2.30" />
<line x1="829.5" y1="780.9" x2="845.5" y2="780.9" stroke="#2b2b2b" stroke-width="2.30" />
<line x1="1156.5" y1="780.9" x2="1140.5" y2="780.9" stroke="#2b2b2b" stroke-width="2.30" />
<line x1="829.5" y1="726.4" x2="837.5" y2="726.4" stroke="#2b2b2b" stroke-width="2.30" />
<line x1="1156.5" y1="726.4" x2="1148.5" y2="726.4" stroke="#2b2b2b" stroke-width="2.30" />
<line x1="829.5" y1="762.8" x2="837.5" y2="762.8" stroke="#2b2b2b" stroke-width="2.30" />
<line x1="1156.5" y1="762.8" x2="1148.5" y2="762.8" stroke="#2b2b2b" stroke-width="2.30" />
<line x1="829.5" y1="799.1" x2="837.5" y2="799.1" stroke="#2b2b2b" stroke-width="2.30" />
<line x1="1156.5" y1="799.1" x2="1148.5" y2="799.1" stroke="#2b2b2b" stroke-width="2.30" />
<text x="829.5" y="848.0" font-size="21.0" text-anchor="middle" fill="#222" >300</text>
<text x="894.9" y="848.0" font-size="21.0" text-anchor="middle" fill="#222" >400</text>
<text x="960.3" y="848.0" font-size="21.0" text-anchor="middle" fill="#222" >500</text>
<text x="1025.7" y="848.0" font-size="21.0" text-anchor="middle" fill="#222" >600</text>
<text x="1091.1" y="848.0" font-size="21.0" text-anchor="middle" fill="#222" >700</text>
<text x="1156.5" y="848.0" font-size="21.0" text-anchor="middle" fill="#222" >800</text>
<text x="993.5" y="878.1" font-size="21.8" text-anchor="middle" fill="#222"><tspan font-family="Liberation Serif" font-style="italic">λ</tspan> (nm)</text>
<text transform="translate(771.7,719.2) rotate(-90)" font-size="21.1" text-anchor="middle" fill="#222">EL intensity</text>
<text x="1239.3" y="684.9" font-size="19.5" text-anchor="end" fill="#222" >30 mA</text>
<text x="1239.3" y="706.1" font-size="19.5" text-anchor="end" fill="#222" >25 mA</text>
<text x="1239.3" y="728.7" font-size="19.5" text-anchor="end" fill="#222" >20 mA</text>
<text x="1239.3" y="750.6" font-size="19.5" text-anchor="end" fill="#222" >15 mA</text>
<text x="1239.3" y="772.5" font-size="19.5" text-anchor="end" fill="#222" >10 mA</text>
<text x="1239.3" y="794.4" font-size="19.5" text-anchor="end" fill="#222" >5 mA</text>
<text x="1239.3" y="817.1" font-size="19.5" text-anchor="end" fill="#222" >2 mA</text>
<line x1="1167.0" y1="817.1" x2="1167.0" y2="707.0" stroke="#222" stroke-width="2.30" />
<path d="M1161.5,717.5 L1167,706 L1172.5,717.5" fill="none" stroke="#222" stroke-width="2.2"/>
<ellipse cx="883.6" cy="623.1" rx="1.2" ry="2.6" fill="#9a9a9a"/>
<ellipse cx="883.6" cy="742.5" rx="1.3" ry="2.8" fill="#9a9a9a"/>
<ellipse cx="863.7" cy="752.3" rx="1.6" ry="1.2" fill="#9a9a9a"/>
<ellipse cx="879.3" cy="752.3" rx="1.6" ry="1.2" fill="#9a9a9a"/>
<text x="699.0" y="613.2" font-size="45.0" text-anchor="start" fill="#111" style="stroke:none">(d)</text>
<path d="M851.6,1065.4 L853.8,1061.4 L856.0,1057.5 L858.1,1053.6 L860.3,1049.8 L862.5,1046.0 L864.6,1042.3 L866.8,1038.6 L869.0,1035.0 L871.2,1031.5 L873.3,1028.0 L875.5,1024.6 L877.7,1021.2 L879.8,1017.9 L882.0,1014.7 L884.2,1011.6 L886.3,1008.5 L888.5,1005.4 L890.7,1002.5 L892.8,999.6 L895.0,996.8 L897.2,994.0 L899.3,991.4 L901.5,988.8 L903.7,986.3 L905.8,983.8 L908.0,981.4 L910.2,979.1 L912.3,976.9 L914.5,974.8 L916.7,972.7 L918.8,970.8 L921.0,968.9 L923.2,967.1 L925.4,965.4 L927.5,963.7 L929.7,962.2 L931.9,960.7 L934.0,959.3 L936.2,958.1 L938.4,956.9 L940.5,955.8 L942.7,954.8 L944.9,953.9 L947.0,953.0 L949.2,952.3 L951.4,951.7 L953.5,951.2 L955.7,950.7 L957.9,950.4 L960.0,950.2 L962.2,950.1 L964.4,950.0 L966.5,950.1 L968.7,950.3 L970.9,950.6 L973.0,951.0 L975.2,951.5 L977.4,952.1 L979.6,952.9 L981.7,953.7 L983.9,954.6 L986.1,955.7 L988.2,956.9 L990.4,958.2 L992.6,959.6" fill="none" stroke="#111" stroke-width="2.3"/>
<rect x="829.7" y="902.2" width="163.5" height="161.8" fill="none" stroke="#2b2b2b" stroke-width="2.3"/>
<line x1="857.6" y1="1064.0" x2="857.6" y2="1053.0" stroke="#2b2b2b" stroke-width="2.30" />
<line x1="857.6" y1="902.2" x2="857.6" y2="913.2" stroke="#2b2b2b" stroke-width="2.30" />
<line x1="884.7" y1="1064.0" x2="884.7" y2="1058.0" stroke="#2b2b2b" stroke-width="2.30" />
<line x1="884.7" y1="902.2" x2="884.7" y2="908.2" stroke="#2b2b2b" stroke-width="2.30" />
<line x1="911.8" y1="1064.0" x2="911.8" y2="1053.0" stroke="#2b2b2b" stroke-width="2.30" />
<line x1="911.8" y1="902.2" x2="911.8" y2="913.2" stroke="#2b2b2b" stroke-width="2.30" />
<line x1="938.9" y1="1064.0" x2="938.9" y2="1058.0" stroke="#2b2b2b" stroke-width="2.30" />
<line x1="938.9" y1="902.2" x2="938.9" y2="908.2" stroke="#2b2b2b" stroke-width="2.30" />
<line x1="966.0" y1="1064.0" x2="966.0" y2="1053.0" stroke="#2b2b2b" stroke-width="2.30" />
<line x1="966.0" y1="902.2" x2="966.0" y2="913.2" stroke="#2b2b2b" stroke-width="2.30" />
<line x1="829.7" y1="1040.2" x2="835.7" y2="1040.2" stroke="#2b2b2b" stroke-width="2.30" />
<line x1="993.2" y1="1040.2" x2="987.2" y2="1040.2" stroke="#2b2b2b" stroke-width="2.30" />
<line x1="829.7" y1="1016.4" x2="842.7" y2="1016.4" stroke="#2b2b2b" stroke-width="2.30" />
<line x1="993.2" y1="1016.4" x2="980.2" y2="1016.4" stroke="#2b2b2b" stroke-width="2.30" />
<line x1="829.7" y1="992.6" x2="835.7" y2="992.6" stroke="#2b2b2b" stroke-width="2.30" />
<line x1="993.2" y1="992.6" x2="987.2" y2="992.6" stroke="#2b2b2b" stroke-width="2.30" />
<line x1="829.7" y1="968.8" x2="842.7" y2="968.8" stroke="#2b2b2b" stroke-width="2.30" />
<line x1="993.2" y1="968.8" x2="980.2" y2="968.8" stroke="#2b2b2b" stroke-width="2.30" />
<line x1="829.7" y1="945.0" x2="835.7" y2="945.0" stroke="#2b2b2b" stroke-width="2.30" />
<line x1="993.2" y1="945.0" x2="987.2" y2="945.0" stroke="#2b2b2b" stroke-width="2.30" />
<line x1="829.7" y1="921.2" x2="842.7" y2="921.2" stroke="#2b2b2b" stroke-width="2.30" />
<line x1="993.2" y1="921.2" x2="980.2" y2="921.2" stroke="#2b2b2b" stroke-width="2.30" />
<text x="821.0" y="1070.8" font-size="19.0" text-anchor="end" fill="#222" >0.30</text>
<text x="821.0" y="1023.2" font-size="19.0" text-anchor="end" fill="#222" >0.35</text>
<text x="821.0" y="975.6" font-size="19.0" text-anchor="end" fill="#222" >0.40</text>
<text x="821.0" y="928.0" font-size="19.0" text-anchor="end" fill="#222" >0.45</text>
<text x="857.6" y="1095.0" font-size="21.0" text-anchor="middle" fill="#222" >0.3</text>
<text x="911.8" y="1095.0" font-size="21.0" text-anchor="middle" fill="#222" >0.4</text>
<text x="966.0" y="1095.0" font-size="21.0" text-anchor="middle" fill="#222" >0.5</text>
<text x="885.8" y="1125.6" font-size="22" fill="#222">CIE <tspan font-style="italic">x</tspan></text>
<text transform="translate(772,982.6) rotate(-90)" font-size="21.5" text-anchor="middle" fill="#222">CIE <tspan font-style="italic">y</tspan></text>
<path d="M865.4,1031.3 L872.6,1043.2 L858.2,1043.2 Z" fill="#1f30ee"/>
<rect x="909.4" y="966.5" width="12.6" height="12.6" fill="#ee1c24"/>
<path d="M957.6,918.5 L965.8,926.7 L957.6,934.9 L949.4,926.7 Z" fill="none" stroke="#e8642a" stroke-width="3"/>
<ellipse cx="850.2" cy="942.0" rx="7.8" ry="7.4" fill="none" stroke="#2f86e2" stroke-width="2.6"/>
<ellipse cx="850.2" cy="946.0" rx="7.8" ry="7.4" fill="none" stroke="#2f86e2" stroke-width="2.6"/>
<ellipse cx="850.2" cy="950.0" rx="7.8" ry="7.4" fill="none" stroke="#2f86e2" stroke-width="2.6"/>
<line x1="1019.5" y1="941.8" x2="1037.5" y2="941.8" stroke="#111" stroke-width="2.60" />
<rect x="1021.5" y="961.2" width="14.5" height="14" fill="#ee1c24"/>
<path d="M1028.6,987.5 L1037,999 L1020.2,999 Z" fill="#1f3ce6"/>
<circle cx="1028.6" cy="1020.5" r="7" fill="none" stroke="#3a90e0" stroke-width="2.3"/>
<path d="M1028.6,1038.3 L1036.6,1046.3 L1028.6,1054.3 L1020.6,1046.3 Z" fill="none" stroke="#e8642a" stroke-width="2.6"/>
<text x="1065.0" y="949.2" font-size="21.3" text-anchor="start" fill="#222" >Planckian locus</text>
<text x="1065.0" y="975.0" font-size="21.0" text-anchor="start" fill="#222" >3500 K</text>
<text x="1065.0" y="999.9" font-size="21.0" text-anchor="start" fill="#222" >6500 K</text>
<text x="1065" y="1026.6" font-size="21" fill="#222"><tspan font-style="italic">x</tspan> =1.0</text>
<text x="1065" y="1052.3" font-size="21" fill="#222"><tspan font-style="italic">x</tspan> = 1.0 + red</text>
</svg></body></html>
